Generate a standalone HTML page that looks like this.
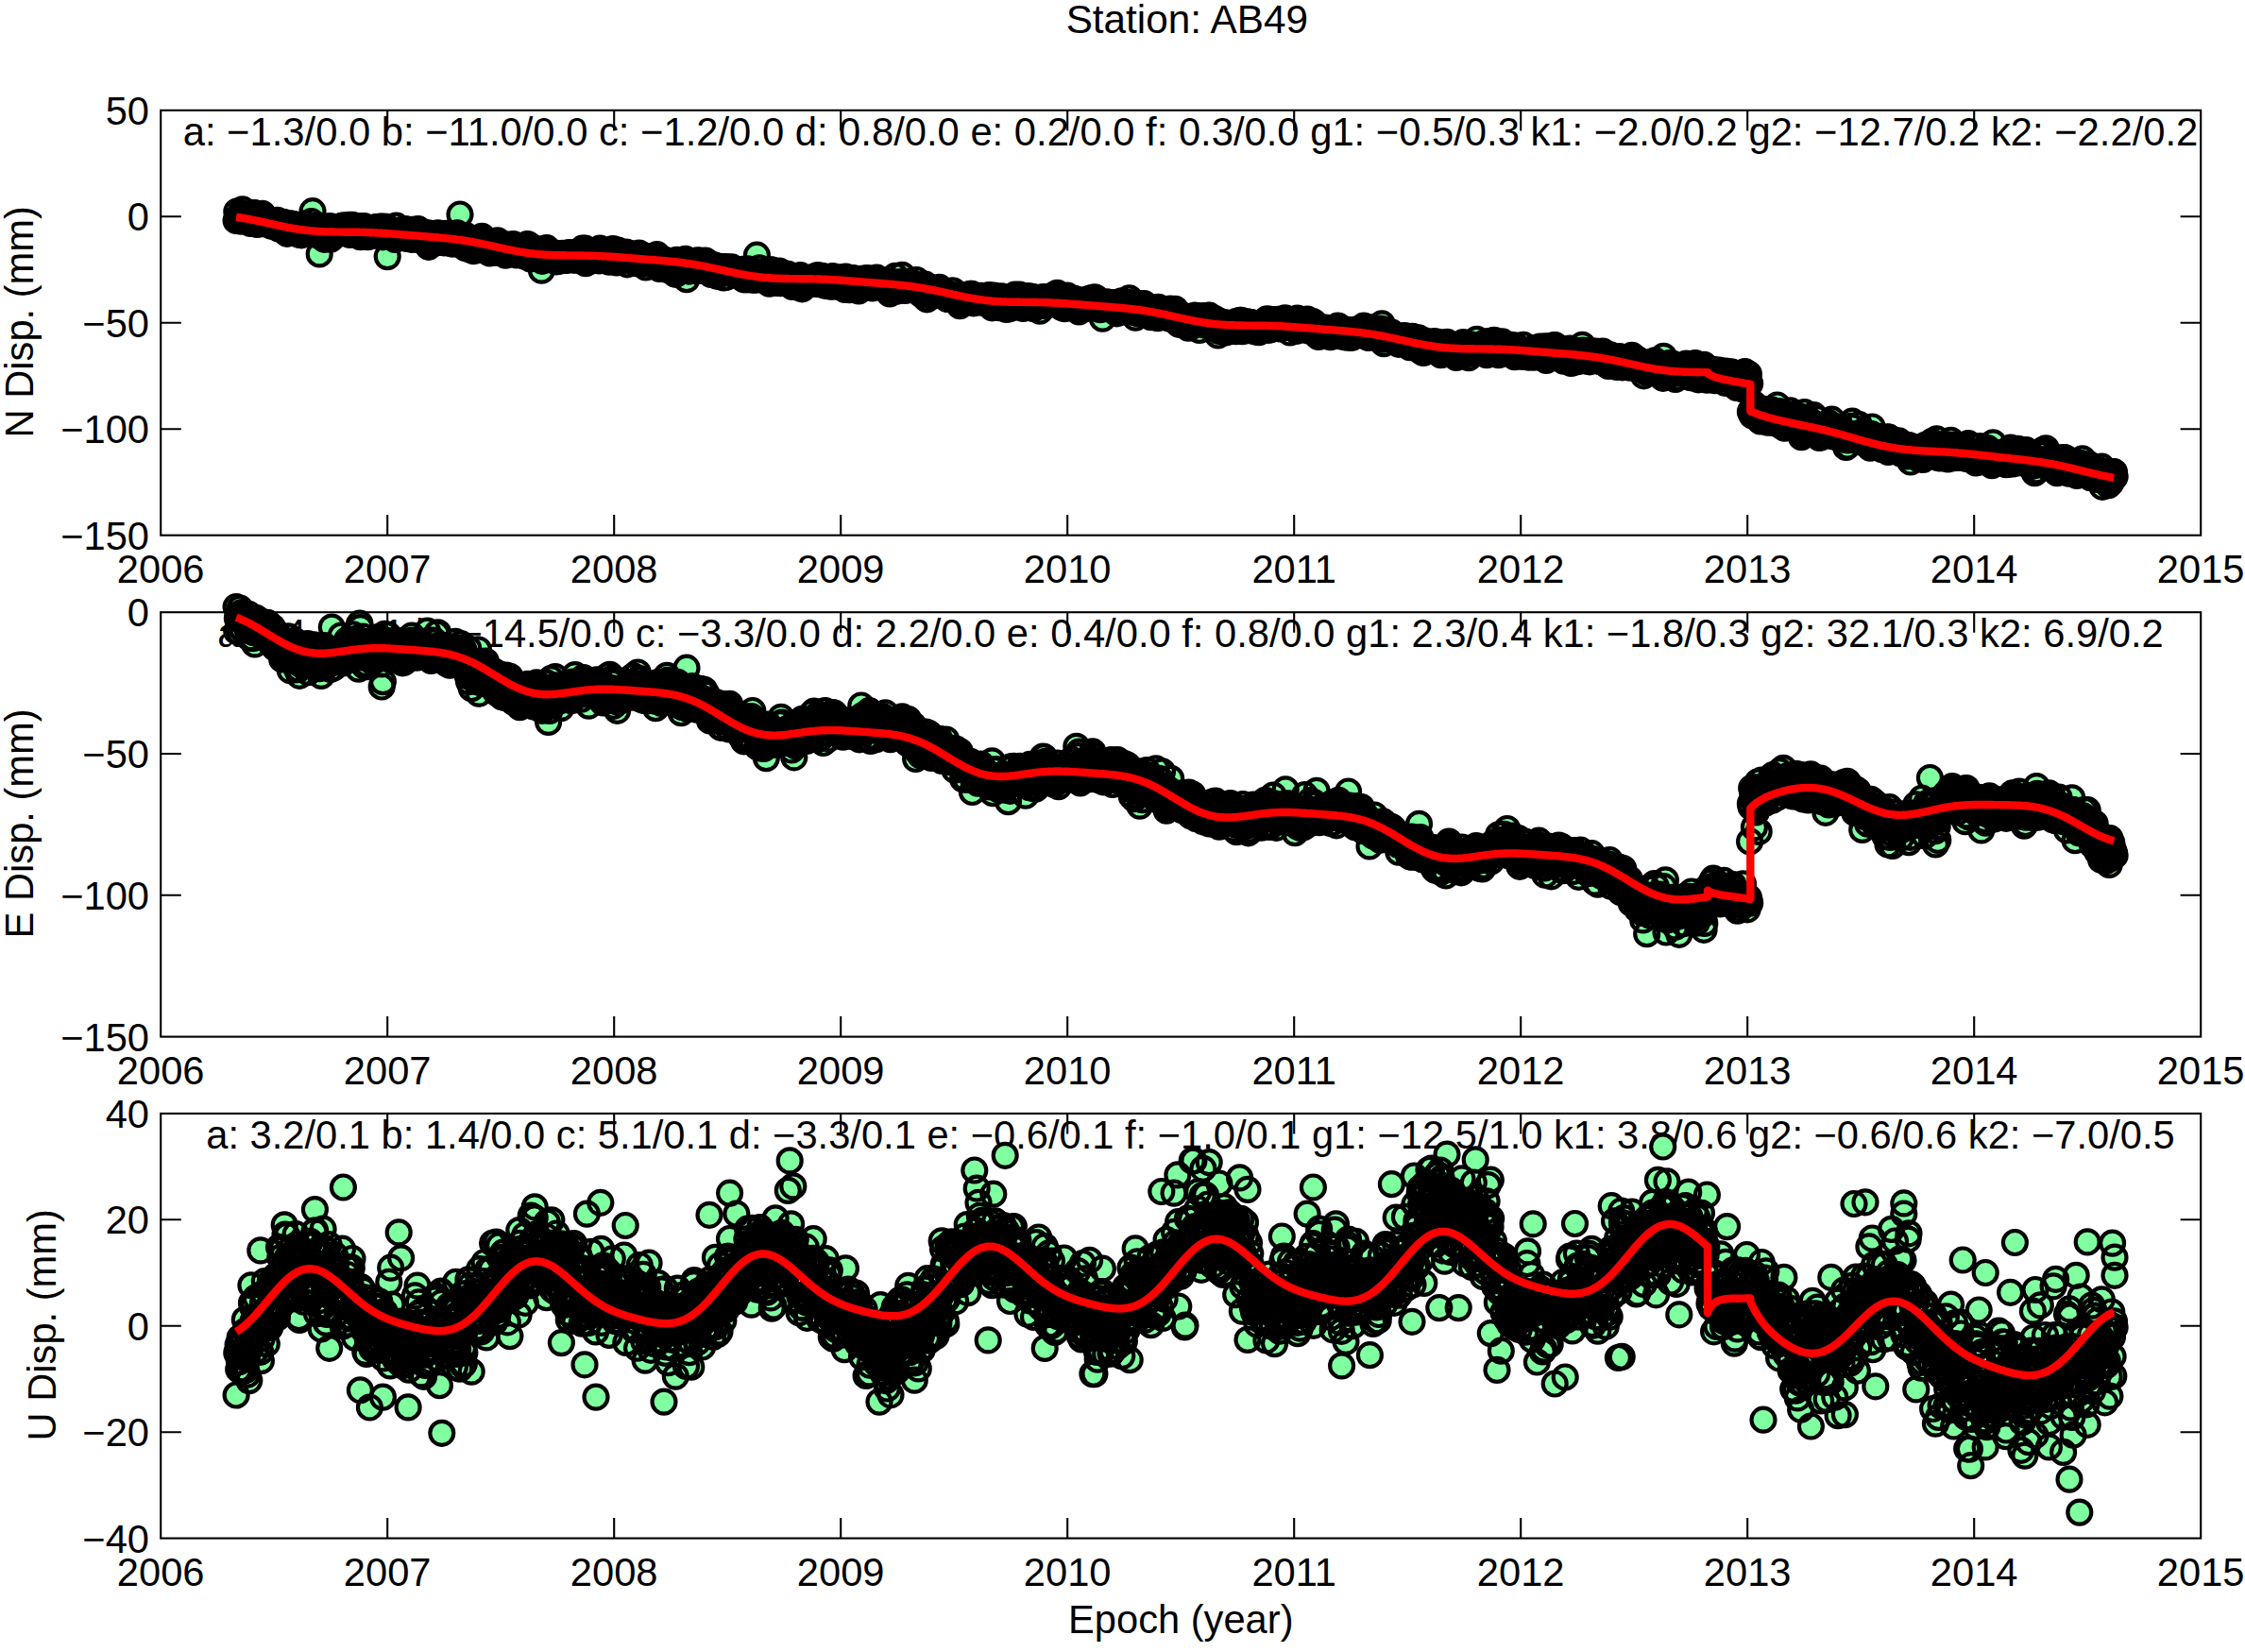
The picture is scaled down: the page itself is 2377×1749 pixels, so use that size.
<!DOCTYPE html>
<html><head><meta charset="utf-8"><title>Station: AB49</title>
<style>html,body{margin:0;padding:0;background:#fff}svg{display:block}
text{font-family:"Liberation Sans",sans-serif;font-size:41.67px;fill:#000}
.ax{fill:none;stroke:#000;stroke-width:2.1}
.tk{fill:none;stroke:#000;stroke-width:2.1}
.fit{fill:none;stroke:#f00;stroke-width:8.4;stroke-linejoin:round;stroke-linecap:butt}
polyline{fill:none;stroke:none}
.fc{marker-start:url(#mf);marker-mid:url(#mf);marker-end:url(#mf)}
.ed{marker-start:url(#me);marker-mid:url(#me);marker-end:url(#me)}
</style></head><body>
<svg width="2377" height="1749" viewBox="0 0 2377 1749">
<defs><marker id="mf" markerUnits="userSpaceOnUse" markerWidth="40" markerHeight="40" refX="20" refY="20" overflow="visible"><circle cx="20" cy="20" r="12.5" fill="#80ffa0"/></marker>
<marker id="me" markerUnits="userSpaceOnUse" markerWidth="40" markerHeight="40" refX="20" refY="20" overflow="visible"><circle cx="20" cy="20" r="12.5" fill="none" stroke="#000" stroke-width="4.17"/></marker></defs>
<rect width="2377" height="1749" fill="#fff"/>
<text x="1256.8" y="35.3" text-anchor="middle" style="font-size:42.3px">Station: AB49</text>
<g id="panelN">
<text x="1260.5" y="153.9" text-anchor="middle" style="font-size:41.75px">a: −1.3/0.0 b: −11.0/0.0 c: −1.2/0.0 d: 0.8/0.0 e: 0.2/0.0 f: 0.3/0.0 g1: −0.5/0.3 k1: −2.0/0.2 g2: −12.7/0.2 k2: −2.2/0.2</text>
<defs><polyline id="dN" points="250.1,233.5 250.8,224.0 251.4,231.4 252.1,230.4 252.7,230.2 253.4,233.0 254.1,234.0 254.7,226.9 255.4,227.2 256.0,233.9 256.7,221.8 257.3,226.6 258.0,231.0 258.7,226.9 259.3,231.4 260.0,231.0 260.6,228.2 261.3,234.2 261.9,229.6 262.6,228.1 263.3,228.3 263.9,232.8 264.6,229.3 265.2,236.5 265.9,232.0 266.5,230.9 267.2,235.3 267.9,232.5 268.5,225.7 269.2,225.6 269.8,230.1 270.5,236.7 271.1,234.9 271.8,235.5 272.5,237.5 273.1,229.8 273.8,229.8 274.4,231.7 275.1,232.8 275.7,229.3 276.4,230.8 277.1,230.6 277.7,226.4 278.4,229.6 279.0,231.7 279.7,236.8 280.3,234.2 281.0,231.0 281.7,234.0 282.3,232.8 283.0,233.4 283.6,235.3 284.3,233.2 284.9,233.9 285.6,234.3 286.3,236.3 286.9,234.0 287.6,239.3 288.2,233.8 288.9,239.0 289.5,234.7 290.2,234.0 290.9,237.4 291.5,234.3 292.2,239.3 292.8,238.5 293.5,233.4 294.1,239.0 294.8,234.7 295.5,242.3 296.1,240.9 296.8,241.4 297.4,239.2 298.1,238.3 298.7,241.7 299.4,239.7 300.1,235.4 300.7,238.8 301.4,240.3 302.0,237.2 302.7,239.7 303.3,241.9 304.0,247.3 304.7,238.9 305.3,242.8 306.0,242.1 306.6,245.3 307.3,236.8 307.9,238.1 308.6,237.4 309.3,241.2 309.9,240.5 310.6,238.7 311.2,237.7 311.9,240.4 312.5,240.8 313.2,243.5 313.9,245.7 314.5,245.7 315.2,240.6 315.8,243.9 316.5,248.3 317.1,244.1 317.8,239.7 318.5,243.3 319.1,248.8 319.8,243.4 320.4,239.7 321.1,242.1 321.7,244.9 322.4,238.4 323.1,237.0 323.7,242.3 324.4,241.2 325.0,242.8 325.7,241.3 326.3,239.9 327.0,241.8 327.7,243.2 328.3,245.5 329.0,244.9 329.6,234.6 330.3,239.3 330.9,242.4 331.0,223.7 331.6,245.1 332.3,244.7 332.9,246.0 333.6,243.0 334.2,246.7 334.9,248.4 335.5,242.9 336.2,244.0 336.9,238.8 337.5,244.5 338.2,243.7 338.2,268.9 338.8,247.8 339.5,242.5 340.1,244.5 340.8,239.8 341.5,242.4 342.1,246.6 342.8,244.4 343.4,253.3 344.1,247.1 344.7,243.8 345.4,243.2 346.1,244.4 346.7,244.9 347.4,249.3 348.0,249.5 348.7,244.5 349.3,239.6 350.0,253.1 350.7,245.7 351.3,244.1 352.0,243.7 352.6,248.5 353.3,247.8 353.9,244.7 354.6,248.6 355.3,249.0 355.9,247.7 356.6,244.8 357.2,242.9 357.9,244.7 358.5,243.8 359.2,245.6 359.9,246.3 360.5,239.8 361.2,243.0 361.8,244.0 362.5,239.7 363.1,239.7 363.8,238.8 364.5,241.4 365.1,242.4 365.8,241.6 366.4,242.4 367.1,239.6 367.7,243.2 368.4,240.8 369.1,242.9 369.7,238.3 370.4,248.4 371.0,241.2 371.7,241.0 372.3,247.5 373.0,238.4 373.7,246.4 374.3,247.0 375.0,245.9 375.6,240.7 376.3,241.8 376.9,244.1 377.6,242.1 378.3,241.0 378.9,239.6 379.6,242.3 380.2,245.6 380.9,246.1 381.5,250.6 382.2,246.5 382.9,242.6 383.5,242.8 384.2,244.9 384.8,245.9 385.5,239.7 386.1,244.2 386.8,244.2 387.5,245.2 388.1,250.4 388.8,244.4 389.4,250.7 390.1,248.8 390.7,247.3 391.4,247.8 392.1,248.1 392.7,247.4 393.4,241.7 394.0,246.0 394.7,243.6 395.3,249.3 396.0,245.3 396.6,241.4 397.3,248.7 398.0,240.6 398.6,246.7 399.3,243.1 399.9,248.0 400.6,244.9 401.2,249.4 401.9,245.7 402.6,240.0 403.2,246.5 403.9,240.3 404.5,249.2 405.2,250.8 405.8,246.8 406.5,247.9 407.2,240.1 407.8,243.2 408.5,241.1 409.1,245.6 409.8,240.8 410.2,271.6 410.4,244.7 411.1,246.1 411.8,249.6 412.4,249.5 413.1,246.8 413.7,244.9 414.4,243.7 415.0,250.5 415.7,245.1 416.4,246.5 417.0,251.9 417.7,246.6 418.3,253.4 419.0,246.1 419.6,239.2 420.3,249.4 421.0,246.3 421.6,251.8 422.3,248.2 422.9,244.1 423.6,249.9 424.2,248.4 424.9,250.6 425.6,250.8 426.2,247.4 426.9,246.1 427.5,243.2 428.2,243.7 428.8,247.9 429.5,243.0 430.2,242.8 430.8,252.5 431.5,246.0 432.1,245.1 432.8,245.1 433.4,245.3 434.1,250.3 434.8,247.4 435.4,253.3 436.1,248.5 436.7,243.3 437.4,249.3 438.0,249.2 438.7,252.4 439.4,251.8 440.0,253.3 440.7,248.2 441.3,249.7 442.0,248.7 442.6,242.6 443.3,250.5 444.0,250.9 444.6,248.2 445.3,246.4 445.9,246.9 446.6,250.6 447.2,245.7 447.9,248.6 448.6,247.4 449.2,253.7 449.9,248.3 450.5,247.9 451.2,248.8 451.8,249.2 452.5,251.0 453.2,246.8 453.8,261.3 454.5,258.2 455.1,257.4 455.8,252.9 456.4,252.8 457.1,254.0 457.8,249.9 458.4,255.1 459.1,253.2 459.7,251.4 460.4,255.9 461.0,250.2 461.7,250.7 462.4,253.7 463.0,256.6 463.7,246.9 464.3,249.7 465.0,250.1 465.6,251.7 466.3,253.2 467.0,252.1 467.6,254.1 468.3,254.7 468.9,251.3 469.6,253.3 470.2,256.5 470.9,257.0 471.6,249.7 472.2,251.3 472.9,247.4 473.5,254.1 474.2,254.6 474.8,253.1 475.5,250.3 476.2,251.4 476.8,252.0 477.5,247.8 478.1,255.2 478.8,257.9 479.4,258.0 480.1,256.3 480.8,253.9 481.4,250.0 482.1,252.3 482.7,248.7 483.4,254.6 484.0,246.8 484.7,256.0 485.4,250.7 486.0,257.1 486.7,254.6 487.0,227.0 487.3,255.2 488.0,254.5 488.6,254.7 489.3,257.0 490.0,258.0 490.6,255.5 491.3,260.8 491.9,260.0 492.6,262.5 493.2,256.9 493.9,249.9 494.6,254.0 495.2,260.6 495.9,260.1 496.5,256.2 497.2,261.2 497.8,264.3 498.5,261.7 499.2,262.9 499.8,262.8 500.5,258.5 501.1,259.3 501.8,265.7 502.4,262.3 503.1,263.1 503.8,262.5 504.4,264.4 505.1,254.7 505.7,258.5 506.4,255.7 507.0,255.2 507.7,258.8 508.4,257.5 509.0,257.0 509.7,258.4 510.3,250.3 511.0,254.3 511.6,257.1 512.3,254.9 513.0,253.3 513.6,255.5 514.3,259.6 514.9,262.5 515.6,263.9 516.2,262.5 516.9,260.3 517.6,258.9 518.2,267.9 518.9,261.8 519.5,265.4 520.2,259.5 520.8,258.1 521.5,261.6 522.2,261.2 522.8,262.9 523.5,259.4 524.1,267.2 524.8,267.0 525.4,265.4 526.1,258.8 526.8,254.9 527.4,262.5 528.1,265.2 528.7,262.1 529.4,265.4 530.0,260.6 530.7,267.2 531.4,266.6 532.0,263.4 532.7,261.7 533.3,262.7 534.0,258.7 534.6,263.1 535.3,270.2 536.0,263.3 536.6,266.3 537.3,267.8 537.9,261.3 538.6,268.4 539.2,264.9 539.9,267.0 540.6,259.6 541.2,264.5 541.9,263.0 542.5,268.2 543.2,258.6 543.8,265.9 544.5,260.9 545.2,260.4 545.8,260.7 546.5,259.8 547.1,270.0 547.8,264.4 548.4,265.0 549.1,266.7 549.8,263.0 550.4,264.0 551.1,267.3 551.7,265.6 552.4,260.6 553.0,268.0 553.7,265.3 554.3,268.6 555.0,264.4 555.7,271.2 556.3,268.4 557.0,268.0 557.6,266.9 558.3,258.7 558.9,261.9 559.6,269.8 560.3,259.5 560.9,270.6 561.6,273.9 562.2,272.9 562.9,267.3 563.5,265.2 564.2,272.6 564.9,264.4 565.5,267.5 566.2,264.1 566.8,267.1 567.5,264.8 568.1,266.9 568.8,272.7 569.5,263.8 570.1,268.0 570.8,266.5 571.4,265.6 572.1,272.5 572.7,270.0 573.4,286.2 573.4,273.1 574.1,276.3 574.7,271.8 575.4,273.0 576.0,269.3 576.7,268.1 577.3,271.1 578.0,274.6 578.7,262.7 579.3,265.1 580.0,270.4 580.6,272.3 581.3,271.5 581.9,270.2 582.6,268.3 583.3,268.1 583.9,268.9 584.6,271.1 585.2,270.5 585.9,270.8 586.5,269.9 587.2,271.4 587.9,268.1 588.5,276.8 589.2,273.3 589.8,273.4 590.5,276.7 591.1,273.6 591.8,276.0 592.5,275.0 593.1,274.1 593.8,272.5 594.4,273.2 595.1,268.4 595.7,271.9 596.4,271.6 597.1,272.1 597.7,275.5 598.4,275.2 599.0,269.4 599.7,272.5 600.3,274.2 601.0,275.3 601.7,267.7 602.3,269.8 603.0,268.1 603.6,270.1 604.3,268.6 604.9,268.0 605.6,273.5 606.3,268.5 606.9,267.5 607.6,269.0 608.2,275.1 608.9,274.9 609.5,273.3 610.2,270.7 610.9,267.3 611.5,268.9 612.2,274.8 612.8,269.3 613.5,269.0 614.1,273.2 614.8,266.3 615.5,272.4 616.1,266.5 616.8,263.2 617.4,275.4 618.1,274.3 618.7,272.4 619.4,263.2 620.1,278.6 620.7,270.2 621.4,270.7 622.0,272.8 622.7,275.1 623.3,274.1 624.0,273.9 624.7,276.5 625.3,266.4 626.0,274.5 626.6,272.7 627.3,272.8 627.9,272.7 628.6,272.2 629.3,273.2 629.9,271.8 630.6,265.6 631.2,267.7 631.9,272.3 632.5,269.3 633.2,275.1 633.9,271.2 634.5,275.9 635.2,263.1 635.8,271.8 636.5,267.4 637.1,269.5 637.8,268.8 638.5,268.7 639.1,269.0 639.8,268.0 640.4,267.7 641.1,268.6 641.7,273.3 642.4,274.1 643.1,270.9 643.7,269.5 644.4,271.1 645.0,277.2 645.7,267.8 646.3,271.6 647.0,272.4 647.7,273.0 648.3,271.8 649.0,263.7 649.6,264.9 650.3,272.6 650.9,270.3 651.6,268.3 652.3,267.1 652.9,277.9 653.6,266.3 654.2,265.1 654.9,271.4 655.5,271.5 656.2,267.5 656.9,271.9 657.5,276.1 658.2,275.2 658.8,273.9 659.5,275.1 660.1,271.0 660.8,273.1 661.5,272.8 662.1,272.5 662.8,267.1 663.4,271.3 664.1,279.8 664.7,268.2 665.4,272.8 666.1,268.3 666.7,273.7 667.4,271.8 668.0,272.2 668.7,272.7 669.3,270.9 670.0,275.6 670.7,272.2 671.3,271.6 672.0,273.4 672.6,278.3 673.3,269.7 673.9,278.7 674.6,275.0 675.3,272.4 675.9,270.4 676.6,268.1 677.2,269.8 677.9,271.8 678.5,275.2 679.2,269.9 679.9,274.1 680.5,270.6 681.2,278.7 681.8,274.2 682.5,275.3 683.1,274.7 683.8,282.9 684.5,272.0 685.1,271.6 685.8,273.7 686.4,277.5 687.1,273.3 687.7,278.5 688.4,273.4 689.1,277.2 689.7,276.7 690.4,276.8 691.0,277.4 691.7,272.9 692.3,272.7 693.0,272.0 693.7,273.8 694.3,275.2 695.0,274.0 695.6,269.7 696.3,276.8 696.9,280.8 697.6,278.7 698.3,284.5 698.9,279.4 699.6,279.4 700.2,283.1 700.9,282.1 701.5,276.6 702.2,278.3 702.9,276.2 703.5,275.0 704.2,280.6 704.8,281.5 705.5,280.0 706.1,277.5 706.8,285.4 707.5,276.6 708.1,279.6 708.8,279.6 709.4,282.6 710.1,282.3 710.7,279.1 711.4,280.8 712.1,280.3 712.7,283.5 713.4,277.0 714.0,277.5 714.7,289.9 715.3,289.9 716.0,290.0 716.6,275.4 717.3,284.5 718.0,286.6 718.6,276.6 719.3,283.4 719.9,281.6 720.6,278.6 721.2,287.0 721.9,281.8 722.6,279.2 723.2,282.2 723.9,278.5 724.5,279.1 725.2,276.4 725.8,274.4 726.5,283.0 727.0,295.6 727.2,282.7 727.8,281.9 728.5,286.8 729.1,286.8 729.8,285.2 730.4,286.0 731.1,286.8 731.8,283.3 732.4,282.1 733.1,283.5 733.7,280.7 734.4,278.1 735.0,286.5 735.7,282.8 736.4,281.8 737.0,280.8 737.7,286.5 738.3,275.9 739.0,284.5 739.6,279.7 740.3,278.8 741.0,276.1 741.6,281.5 742.3,281.7 742.9,278.6 743.6,279.0 744.2,277.9 744.9,280.2 745.6,282.7 746.2,286.6 746.9,276.0 747.5,285.8 748.2,282.1 748.8,282.2 749.5,280.4 750.2,280.2 750.8,278.8 751.5,283.9 752.1,283.4 752.8,290.5 753.4,283.9 754.1,287.2 754.8,285.3 755.4,280.7 756.1,283.5 756.7,282.5 757.4,284.6 758.0,281.5 758.7,285.7 759.4,292.3 760.0,287.2 760.7,285.1 761.3,282.3 762.0,283.9 762.6,285.5 763.3,282.8 764.0,283.4 764.6,287.5 765.3,284.6 765.9,294.0 766.6,286.9 767.2,285.7 767.9,282.7 768.6,287.8 769.2,293.3 769.9,288.2 770.5,283.1 771.2,288.2 771.8,287.3 772.5,287.5 773.2,287.9 773.8,284.2 774.5,282.9 775.1,288.2 775.8,289.7 776.4,284.5 777.1,289.2 777.8,287.2 778.4,287.2 779.1,285.4 779.7,286.0 780.4,288.4 781.0,286.2 781.7,288.4 782.4,286.8 783.0,290.4 783.7,290.0 784.3,289.7 785.0,289.1 785.6,289.0 786.3,285.3 787.0,294.0 787.6,295.8 788.3,289.0 788.9,293.3 789.6,287.8 790.2,291.3 790.9,295.8 791.6,284.8 792.2,290.5 792.9,294.0 793.5,294.8 794.2,290.8 794.8,294.8 795.5,289.7 796.2,290.1 796.8,296.2 797.5,294.9 798.1,291.3 798.8,289.4 799.4,290.4 800.1,296.1 800.8,287.9 801.4,270.2 801.4,293.3 802.1,293.6 802.7,291.9 803.4,295.2 804.0,283.8 804.7,288.4 805.4,291.5 806.0,294.8 806.7,295.2 807.3,291.3 808.0,290.2 808.6,294.1 809.3,293.7 810.0,289.7 810.6,291.5 811.3,297.7 811.9,290.6 812.6,292.6 813.2,291.7 813.9,295.0 814.6,300.1 815.2,296.6 815.9,292.0 816.5,285.8 817.2,286.2 817.8,292.2 818.5,295.2 819.2,292.9 819.8,292.5 820.5,291.3 821.1,290.9 821.8,289.0 822.4,296.9 823.1,299.5 823.8,295.7 824.4,296.3 825.1,287.0 825.7,294.7 826.4,299.6 827.0,293.3 827.7,291.8 828.4,294.3 829.0,293.7 829.7,291.0 830.3,292.2 831.0,296.5 831.6,290.8 832.3,290.0 833.0,292.1 833.6,291.3 834.3,290.4 834.9,293.1 835.6,293.2 836.2,292.0 836.9,295.9 837.6,292.1 838.2,292.6 838.9,303.5 839.5,297.5 840.2,300.3 840.8,297.9 841.5,294.4 842.2,296.7 842.8,293.7 843.5,295.5 844.1,295.3 844.8,298.6 845.4,298.4 846.1,294.3 846.8,304.7 847.4,291.7 848.1,298.3 848.7,293.0 849.4,305.8 850.0,301.4 850.7,294.5 851.4,299.0 852.0,295.9 852.7,301.7 853.3,299.5 854.0,300.2 854.6,296.7 855.3,295.5 856.0,298.3 856.6,298.9 857.3,299.6 857.9,298.5 858.6,300.5 859.2,297.3 859.9,296.9 860.6,298.6 861.2,298.8 861.9,293.2 862.5,298.2 863.2,295.4 863.8,292.7 864.5,293.2 865.2,295.5 865.8,291.7 866.5,300.7 867.1,299.4 867.8,297.7 868.4,297.2 869.1,296.2 869.8,292.6 870.4,292.3 871.1,297.6 871.7,295.4 872.4,299.8 873.0,296.0 873.7,302.3 874.3,295.2 875.0,300.0 875.7,297.4 876.3,301.9 877.0,293.8 877.6,297.0 878.3,293.9 878.9,299.3 879.6,303.1 880.3,301.3 880.9,302.8 881.6,292.6 882.2,297.7 882.9,298.4 883.5,295.5 884.2,295.2 884.9,294.4 885.5,296.5 886.2,302.0 886.8,300.7 887.5,303.4 888.1,293.8 888.8,294.9 889.5,299.2 890.1,296.9 890.8,296.1 891.4,295.5 892.1,296.6 892.7,294.9 893.4,298.0 894.1,305.4 894.7,306.5 895.4,293.0 896.0,294.7 896.7,305.0 897.3,297.8 898.0,301.4 898.7,299.9 899.3,306.6 900.0,295.5 900.6,297.9 901.3,294.7 901.9,295.6 902.6,295.4 903.3,294.6 903.9,298.3 904.6,299.1 905.2,299.5 905.9,296.7 906.5,299.1 907.2,303.0 907.9,296.5 908.5,298.6 909.2,307.9 909.8,306.1 910.5,301.8 911.1,304.3 911.8,296.9 912.5,302.0 913.1,298.3 913.8,297.9 914.4,295.2 915.1,299.2 915.7,296.2 916.4,298.3 917.1,297.6 917.7,298.7 918.4,294.5 919.0,297.5 919.7,299.7 920.3,297.9 921.0,302.5 921.7,297.1 922.3,295.5 923.0,301.6 923.6,304.9 924.3,299.9 924.9,300.9 925.6,300.8 926.3,302.7 926.9,301.1 927.6,301.8 928.2,294.0 928.9,300.1 929.5,297.7 930.2,296.8 930.9,298.2 931.5,297.6 932.2,301.2 932.8,298.2 933.5,298.8 934.1,298.2 934.8,304.3 935.5,303.2 936.1,304.0 936.8,304.1 937.4,298.3 938.1,301.1 938.7,302.0 939.4,302.9 940.1,299.8 940.7,306.4 941.4,300.6 942.0,310.9 942.7,307.2 943.3,298.9 944.0,298.5 944.7,302.6 945.3,305.8 946.0,300.8 946.6,304.9 947.3,298.8 947.9,292.4 948.6,302.6 949.3,308.2 949.9,303.9 950.6,307.1 951.2,305.1 951.9,304.2 952.5,303.7 953.2,302.5 953.9,300.0 954.5,298.7 955.2,291.3 955.8,303.2 956.5,299.4 957.1,306.9 957.8,306.5 958.5,307.4 959.1,299.0 959.8,302.7 960.4,302.6 961.1,302.7 961.7,300.3 962.4,305.8 963.1,304.6 963.7,298.2 964.4,304.5 965.0,305.4 965.7,306.6 966.3,301.2 967.0,302.2 967.7,304.2 968.3,305.0 969.0,303.4 969.6,306.5 970.3,296.5 970.9,302.9 971.6,301.8 972.3,303.1 972.9,309.1 973.6,308.9 974.2,306.1 974.9,306.1 975.5,311.6 976.2,302.1 976.9,306.0 977.5,303.4 978.2,304.3 978.8,309.3 979.5,301.0 980.1,308.7 980.8,315.9 981.5,316.8 982.1,309.2 982.8,305.9 983.4,308.1 984.1,304.2 984.7,310.5 985.4,308.9 986.1,308.3 986.7,313.4 987.4,310.1 988.0,309.0 988.7,307.7 989.3,305.5 990.0,305.6 990.7,310.7 991.3,307.8 992.0,306.9 992.6,310.8 993.3,307.5 993.9,307.7 994.6,304.3 995.3,307.4 995.9,306.7 996.6,306.9 997.2,306.5 997.9,309.7 998.5,311.0 999.2,313.3 999.9,311.2 1000.5,311.1 1001.2,313.0 1001.8,312.8 1002.5,316.2 1003.1,311.6 1003.8,316.5 1004.5,312.5 1005.1,313.1 1005.8,316.5 1006.4,314.7 1007.1,312.0 1007.7,316.6 1008.4,317.0 1009.1,307.9 1009.7,314.6 1010.4,314.3 1011.0,313.3 1011.7,316.0 1012.3,315.1 1013.0,313.6 1013.7,318.9 1014.3,317.2 1015.0,320.2 1015.6,318.6 1016.3,323.6 1016.9,312.3 1017.6,316.9 1018.3,315.4 1018.9,319.4 1019.6,319.1 1020.2,315.4 1020.9,314.6 1021.5,312.5 1022.2,318.8 1022.9,319.4 1023.5,313.4 1024.2,312.7 1024.8,314.0 1025.5,317.1 1026.1,313.9 1026.8,317.7 1027.5,311.4 1028.1,313.0 1028.8,311.3 1029.4,318.9 1030.1,314.1 1030.7,320.8 1031.4,316.4 1032.1,316.3 1032.7,314.1 1033.4,318.5 1034.0,318.5 1034.7,320.0 1035.3,319.2 1036.0,313.4 1036.6,317.8 1037.3,314.2 1038.0,317.9 1038.6,318.4 1039.3,313.4 1039.9,314.1 1040.6,320.3 1041.2,318.0 1041.9,317.8 1042.6,316.3 1043.2,318.0 1043.9,316.2 1044.5,316.5 1045.2,314.8 1045.8,314.8 1046.5,320.5 1047.2,312.7 1047.8,318.1 1048.5,321.6 1049.1,323.5 1049.8,321.0 1050.4,325.8 1051.1,317.0 1051.8,315.9 1052.4,313.2 1053.1,317.2 1053.7,323.2 1054.4,317.8 1055.0,317.2 1055.7,324.1 1056.4,322.0 1057.0,316.7 1057.7,319.1 1058.3,325.6 1059.0,321.1 1059.6,319.5 1060.3,313.9 1061.0,322.4 1061.6,323.9 1062.3,319.7 1062.9,319.8 1063.6,320.4 1064.2,318.0 1064.9,322.9 1065.6,327.4 1066.2,322.5 1066.9,322.5 1067.5,320.5 1068.2,320.8 1068.8,326.7 1069.5,322.0 1070.2,319.0 1070.8,324.4 1071.5,318.7 1072.1,320.5 1072.8,320.8 1073.4,322.2 1074.1,319.8 1074.8,312.2 1075.4,320.2 1076.1,325.0 1076.7,321.8 1077.4,321.7 1078.0,319.9 1078.7,321.7 1079.4,312.2 1080.0,319.3 1080.7,315.0 1081.3,321.4 1082.0,320.9 1082.6,316.3 1083.3,326.5 1084.0,320.7 1084.6,325.4 1085.3,315.8 1085.9,324.8 1086.6,322.4 1087.2,321.2 1087.9,325.3 1088.6,313.5 1089.2,320.9 1089.9,314.7 1090.5,322.3 1091.2,324.9 1091.8,322.0 1092.5,322.5 1093.2,314.4 1093.8,326.3 1094.5,326.4 1095.1,324.6 1095.8,321.2 1096.4,320.8 1097.1,324.2 1097.8,322.2 1098.4,319.7 1099.1,318.4 1099.7,323.9 1100.4,318.9 1101.0,329.1 1101.7,322.0 1102.4,317.5 1103.0,319.8 1103.7,320.0 1104.3,314.5 1105.0,319.5 1105.6,322.6 1106.3,318.5 1107.0,319.3 1107.6,323.5 1108.3,316.9 1108.9,314.8 1109.6,320.5 1110.2,321.7 1110.9,320.4 1111.6,316.2 1112.2,319.9 1112.9,320.7 1113.5,319.2 1114.2,318.8 1114.8,318.5 1115.5,320.3 1116.2,315.1 1116.8,311.8 1117.5,320.2 1118.1,315.0 1118.8,318.0 1119.4,310.3 1120.1,322.3 1120.8,319.4 1121.4,316.7 1122.1,322.7 1122.7,320.8 1123.4,318.1 1124.0,325.5 1124.7,321.1 1125.4,315.1 1126.0,322.4 1126.7,321.2 1127.3,326.7 1128.0,318.3 1128.6,322.2 1129.3,316.1 1130.0,313.2 1130.6,319.5 1131.3,323.2 1131.9,318.6 1132.6,322.3 1133.2,323.0 1133.9,323.7 1134.6,320.6 1135.2,321.9 1135.9,319.7 1136.5,316.0 1137.2,319.3 1137.8,319.4 1138.5,323.7 1139.2,317.2 1139.8,321.4 1140.5,321.8 1141.1,325.8 1141.8,321.9 1142.4,329.9 1143.1,324.7 1143.8,327.2 1144.4,326.7 1145.1,318.1 1145.7,327.8 1146.4,322.2 1147.0,322.1 1147.7,319.3 1148.4,318.4 1149.0,326.5 1149.7,322.6 1150.3,323.3 1151.0,318.3 1151.6,317.1 1152.3,322.2 1153.0,322.5 1153.6,323.7 1154.3,320.2 1154.9,315.8 1155.6,319.6 1156.2,323.4 1156.9,323.3 1157.6,324.0 1158.2,325.8 1158.9,314.9 1159.5,322.6 1160.2,322.6 1160.8,315.9 1161.5,323.3 1162.2,319.3 1162.8,323.6 1163.5,320.9 1164.1,324.7 1164.8,327.6 1165.4,322.4 1166.1,321.9 1166.8,321.4 1167.4,337.2 1168.1,323.0 1168.7,325.2 1169.4,321.3 1170.0,324.5 1170.7,324.0 1171.4,321.1 1172.0,319.9 1172.7,320.9 1173.3,323.7 1174.0,326.9 1174.6,323.7 1175.3,324.3 1176.0,324.9 1176.6,323.1 1177.3,320.5 1177.9,324.6 1178.6,321.9 1179.2,325.5 1179.9,324.1 1180.6,325.8 1181.2,328.3 1181.9,322.7 1182.5,331.8 1183.2,324.4 1183.8,322.4 1184.5,322.4 1185.2,327.2 1185.8,319.9 1186.5,328.8 1187.1,325.7 1187.8,318.8 1188.4,322.8 1189.1,319.7 1189.8,327.9 1190.4,329.8 1191.1,325.1 1191.7,320.1 1192.4,321.6 1193.0,323.0 1193.7,325.8 1194.3,323.5 1195.0,323.9 1195.7,315.8 1196.3,324.9 1197.0,320.7 1197.6,325.5 1198.3,321.5 1198.9,328.3 1199.6,326.7 1200.3,325.3 1200.9,330.0 1201.6,330.4 1202.2,336.1 1202.9,331.1 1203.5,324.2 1204.2,321.8 1204.9,331.4 1205.5,322.8 1206.2,327.6 1206.8,327.7 1207.5,326.5 1208.1,321.9 1208.8,322.2 1209.5,326.9 1210.1,327.9 1210.8,331.2 1211.4,321.7 1212.1,330.2 1212.7,330.0 1213.4,329.8 1214.1,328.5 1214.7,326.9 1215.4,331.7 1216.0,329.3 1216.7,330.5 1217.3,325.6 1218.0,329.4 1218.7,335.6 1219.3,326.5 1220.0,329.9 1220.6,325.8 1221.3,332.9 1221.9,332.9 1222.6,331.3 1223.3,333.9 1223.9,330.0 1224.6,325.5 1225.2,326.5 1225.9,336.7 1226.5,325.3 1227.2,328.3 1227.9,328.4 1228.5,331.8 1229.2,329.2 1229.8,329.3 1230.5,328.9 1231.1,334.6 1231.8,327.3 1232.5,330.4 1233.1,331.1 1233.8,329.3 1234.4,330.0 1235.1,331.1 1235.7,334.2 1236.4,329.1 1237.1,331.3 1237.7,333.3 1238.4,337.2 1239.0,327.2 1239.7,329.4 1240.3,330.5 1241.0,332.2 1241.7,332.8 1242.3,332.3 1243.0,333.9 1243.6,333.6 1244.3,327.3 1244.9,331.2 1245.6,330.5 1246.3,337.0 1246.9,340.3 1247.6,338.4 1248.2,343.3 1248.9,333.6 1249.5,332.8 1250.2,337.0 1250.9,336.7 1251.5,336.7 1252.2,335.6 1252.8,334.4 1253.5,340.5 1254.1,339.9 1254.8,338.0 1255.5,343.8 1256.1,342.9 1256.8,338.3 1257.4,337.8 1258.1,347.2 1258.7,336.3 1259.4,339.0 1260.1,336.5 1260.7,340.5 1261.4,338.4 1262.0,345.1 1262.7,342.1 1263.3,344.1 1264.0,342.2 1264.7,336.8 1265.3,334.1 1266.0,336.3 1266.6,337.9 1267.3,335.0 1267.9,337.0 1268.6,334.6 1269.3,339.3 1269.9,349.4 1270.6,341.6 1271.2,342.1 1271.9,343.1 1272.5,337.9 1273.2,338.9 1273.9,340.2 1274.5,334.6 1275.2,338.9 1275.8,338.7 1276.5,341.5 1277.1,338.2 1277.8,344.6 1278.5,335.7 1279.1,341.0 1279.8,334.1 1280.4,334.4 1281.1,337.6 1281.7,342.8 1282.4,340.2 1283.1,340.9 1283.7,345.7 1284.4,341.3 1285.0,344.0 1285.7,338.5 1286.3,337.6 1287.0,343.6 1287.7,345.3 1288.3,346.9 1289.0,343.5 1289.6,355.0 1290.3,339.9 1290.9,350.5 1291.6,341.2 1292.3,342.6 1292.9,343.2 1293.6,343.7 1294.2,348.1 1294.9,343.7 1295.5,345.3 1296.2,341.6 1296.9,347.2 1297.5,352.0 1298.2,348.5 1298.8,345.1 1299.5,351.3 1300.1,347.9 1300.8,344.4 1301.5,350.1 1302.1,342.3 1302.8,344.1 1303.4,347.7 1304.1,346.0 1304.7,347.7 1305.4,345.4 1306.1,345.2 1306.7,345.0 1307.4,346.3 1308.0,349.8 1308.7,350.6 1309.3,340.4 1310.0,350.0 1310.7,346.6 1311.3,341.2 1312.0,341.1 1312.6,346.1 1313.3,339.3 1313.9,339.4 1314.6,346.9 1315.3,350.6 1315.9,345.0 1316.6,346.4 1317.2,348.5 1317.9,348.7 1318.5,347.2 1319.2,343.2 1319.9,340.8 1320.5,348.6 1321.2,349.7 1321.8,341.0 1322.5,348.4 1323.1,343.6 1323.8,344.9 1324.5,341.5 1325.1,341.8 1325.8,345.1 1326.4,347.4 1327.1,346.0 1327.7,344.8 1328.4,348.4 1329.1,351.0 1329.7,344.4 1330.4,345.2 1331.0,344.8 1331.7,348.0 1332.3,343.8 1333.0,351.7 1333.7,347.9 1334.3,342.9 1335.0,349.5 1335.6,344.4 1336.3,343.4 1336.9,343.1 1337.6,348.4 1338.3,340.3 1338.9,343.5 1339.6,341.9 1340.2,342.5 1340.9,342.2 1341.5,337.9 1342.2,338.5 1342.9,349.3 1343.5,346.0 1344.2,344.5 1344.8,349.0 1345.5,338.3 1346.1,345.2 1346.8,341.3 1347.5,341.3 1348.1,341.6 1348.8,345.2 1349.4,343.6 1350.1,342.2 1350.7,340.3 1351.4,345.2 1352.1,344.7 1352.7,343.8 1353.4,338.3 1354.0,341.7 1354.7,345.7 1355.3,347.9 1356.0,345.2 1356.6,347.1 1357.3,345.8 1358.0,341.6 1358.6,342.2 1359.3,342.2 1359.9,341.7 1360.6,336.9 1361.2,346.0 1361.9,339.7 1362.6,342.1 1363.2,342.0 1363.9,343.6 1364.5,344.6 1365.2,342.8 1365.8,351.9 1366.5,342.9 1367.2,341.4 1367.8,346.2 1368.5,346.3 1369.1,339.2 1369.8,347.8 1370.4,344.9 1371.1,347.1 1371.8,346.8 1372.4,347.4 1373.1,350.3 1373.7,337.0 1374.4,345.3 1375.0,341.9 1375.7,343.9 1376.4,340.2 1377.0,343.4 1377.7,343.1 1378.3,342.3 1379.0,342.2 1379.6,344.1 1380.3,342.1 1381.0,348.8 1381.6,341.4 1382.3,342.4 1382.9,345.6 1383.6,347.9 1384.2,338.2 1384.9,347.0 1385.6,341.7 1386.2,350.2 1386.9,345.0 1387.5,347.7 1388.2,347.8 1388.8,348.6 1389.5,340.4 1390.2,345.3 1390.8,344.5 1391.5,341.7 1392.1,352.2 1392.8,343.8 1393.4,348.5 1394.1,350.2 1394.8,351.7 1395.4,355.8 1396.1,356.5 1396.7,354.5 1397.4,354.0 1398.0,349.1 1398.7,349.1 1399.4,351.8 1400.0,349.2 1400.7,348.4 1401.3,348.9 1402.0,347.4 1402.6,350.6 1403.3,347.1 1404.0,349.2 1404.6,348.1 1405.3,348.9 1405.9,350.2 1406.6,352.2 1407.2,355.0 1407.9,351.7 1408.6,356.7 1409.2,353.3 1409.9,353.6 1410.5,354.1 1411.2,351.2 1411.8,351.6 1412.5,354.2 1413.2,349.5 1413.8,351.9 1414.5,347.7 1415.1,349.1 1415.8,348.4 1416.4,345.2 1417.1,345.6 1417.8,346.1 1418.4,355.6 1419.1,348.5 1419.7,351.5 1420.4,350.9 1421.0,355.3 1421.7,351.3 1422.4,350.7 1423.0,350.1 1423.7,356.8 1424.3,355.6 1425.0,349.1 1425.6,349.6 1426.3,351.6 1427.0,349.7 1427.6,352.3 1428.3,354.3 1428.9,357.4 1429.6,350.1 1430.2,350.2 1430.9,350.8 1431.6,357.1 1432.2,352.5 1432.9,350.0 1433.5,350.6 1434.2,352.8 1434.8,352.5 1435.5,349.0 1436.2,351.8 1436.8,351.2 1437.5,351.0 1438.1,351.8 1438.8,349.8 1439.4,350.9 1440.1,351.0 1440.8,354.6 1441.4,354.4 1442.1,351.1 1442.7,352.7 1443.4,351.4 1444.0,345.1 1444.7,348.7 1445.4,347.3 1446.0,349.6 1446.7,351.7 1447.3,353.4 1448.0,357.0 1448.6,355.7 1449.3,357.5 1450.0,353.5 1450.6,353.0 1451.3,350.4 1451.9,347.9 1452.6,350.8 1453.2,346.9 1453.9,348.1 1454.6,348.9 1455.2,350.9 1455.9,351.6 1456.5,353.3 1457.2,351.2 1457.8,353.1 1458.5,353.4 1459.2,350.1 1459.8,353.7 1460.5,356.5 1461.1,350.7 1461.8,348.2 1462.4,350.8 1463.1,342.8 1463.8,359.1 1464.4,357.6 1465.1,363.7 1465.7,357.2 1466.4,349.3 1467.0,351.4 1467.7,358.4 1468.4,355.7 1469.0,358.0 1469.7,358.4 1470.3,354.7 1471.0,355.1 1471.6,354.2 1472.3,355.1 1473.0,353.5 1473.6,352.2 1474.3,356.5 1474.9,358.9 1475.6,357.8 1476.2,356.9 1476.9,357.5 1477.6,359.6 1478.2,358.8 1478.9,356.2 1479.5,362.1 1480.2,357.1 1480.8,364.3 1481.5,357.7 1482.2,357.6 1482.8,361.8 1483.5,361.8 1484.1,362.6 1484.8,356.0 1485.4,361.5 1486.1,360.9 1486.8,356.7 1487.4,355.5 1488.1,360.3 1488.7,361.3 1489.4,358.2 1490.0,362.8 1490.7,362.2 1491.4,364.6 1492.0,357.8 1492.7,367.6 1493.3,365.1 1494.0,362.7 1494.6,361.2 1495.3,356.4 1496.0,360.4 1496.6,361.7 1497.3,357.1 1497.9,359.9 1498.6,359.9 1499.2,358.7 1499.9,362.0 1500.6,367.6 1501.2,368.0 1501.9,357.8 1502.5,364.9 1503.2,370.9 1503.8,364.2 1504.5,359.9 1505.2,363.9 1505.8,365.5 1506.5,373.3 1507.1,364.6 1507.8,373.1 1508.4,360.9 1509.1,365.2 1509.8,364.6 1510.4,365.9 1511.1,365.2 1511.7,363.7 1512.4,365.7 1513.0,367.5 1513.7,368.8 1514.3,363.4 1515.0,365.8 1515.7,362.6 1516.3,366.3 1517.0,365.0 1517.6,369.6 1518.3,362.0 1518.9,361.6 1519.6,363.7 1520.3,366.7 1520.9,366.2 1521.6,370.6 1522.2,371.3 1522.9,362.3 1523.5,370.2 1524.2,369.4 1524.9,372.3 1525.5,375.7 1526.2,369.8 1526.8,366.1 1527.5,363.5 1528.1,374.9 1528.8,373.5 1529.5,372.2 1530.1,368.3 1530.8,367.2 1531.4,364.7 1532.1,362.4 1532.7,367.4 1533.4,369.1 1534.1,365.3 1534.7,370.5 1535.4,369.1 1536.0,370.7 1536.7,370.9 1537.3,367.4 1538.0,373.3 1538.7,374.3 1539.3,370.9 1540.0,370.2 1540.6,371.9 1541.3,372.1 1541.9,378.4 1542.6,375.7 1543.3,367.4 1543.9,369.5 1544.6,371.2 1545.2,366.4 1545.9,372.3 1546.5,369.4 1547.2,370.9 1547.9,371.0 1548.5,367.2 1549.2,362.7 1549.8,365.3 1550.5,372.1 1551.1,374.8 1551.8,371.2 1552.5,372.4 1553.1,370.2 1553.8,371.2 1554.4,371.5 1555.1,378.6 1555.7,374.1 1556.4,371.0 1557.1,364.9 1557.7,368.2 1558.4,368.4 1559.0,371.0 1559.7,365.9 1560.3,366.0 1561.0,367.3 1561.7,368.1 1562.3,366.6 1563.0,366.5 1563.6,359.4 1564.3,370.2 1564.9,373.2 1565.6,367.0 1566.3,372.9 1566.9,371.2 1567.6,371.5 1568.2,372.6 1568.9,366.2 1569.5,366.8 1570.2,368.3 1570.9,363.8 1571.5,363.4 1572.2,368.1 1572.8,366.4 1573.5,368.6 1574.1,375.6 1574.8,370.1 1575.5,361.7 1576.1,366.9 1576.8,369.6 1577.4,364.6 1578.1,373.7 1578.7,366.2 1579.4,364.0 1580.1,361.2 1580.7,365.4 1581.4,370.0 1582.0,360.3 1582.7,362.6 1583.3,362.9 1584.0,369.0 1584.7,365.1 1585.3,374.1 1586.0,365.2 1586.6,375.6 1587.3,371.0 1587.9,371.0 1588.6,362.8 1589.3,363.8 1589.9,368.7 1590.6,361.8 1591.2,365.3 1591.9,373.0 1592.5,367.8 1593.2,373.8 1593.9,368.3 1594.5,368.3 1595.2,372.2 1595.8,365.8 1596.5,365.7 1597.1,373.2 1597.8,368.9 1598.5,371.3 1599.1,371.4 1599.8,365.4 1600.4,374.9 1601.1,373.7 1601.7,371.4 1602.4,371.2 1603.1,370.5 1603.7,377.7 1604.4,366.8 1605.0,366.2 1605.7,367.1 1606.3,372.4 1607.0,373.4 1607.7,374.1 1608.3,370.2 1609.0,371.4 1609.6,371.7 1610.3,373.4 1610.9,377.1 1611.6,371.4 1612.3,372.2 1612.9,365.4 1613.6,377.2 1614.2,372.6 1614.9,372.1 1615.5,377.2 1616.2,372.3 1616.9,375.8 1617.5,375.1 1618.2,373.6 1618.8,378.1 1619.5,377.0 1620.1,373.5 1620.8,373.1 1621.5,371.1 1622.1,374.6 1622.8,369.6 1623.4,369.6 1624.1,377.9 1624.7,377.9 1625.4,376.1 1626.1,374.2 1626.7,368.3 1627.4,369.7 1628.0,375.3 1628.7,374.0 1629.3,376.6 1630.0,375.2 1630.7,367.0 1631.3,378.1 1632.0,371.9 1632.6,374.5 1633.3,376.3 1633.9,375.1 1634.6,367.2 1635.3,372.4 1635.9,372.1 1636.6,369.9 1637.2,381.4 1637.9,366.9 1638.5,380.3 1639.2,376.4 1639.9,371.0 1640.5,379.0 1641.2,378.6 1641.8,368.2 1642.5,376.2 1643.1,369.5 1643.8,372.5 1644.5,373.9 1645.1,365.8 1645.8,374.0 1646.4,365.6 1647.1,375.2 1647.7,375.0 1648.4,373.8 1649.1,371.6 1649.7,376.7 1650.4,376.7 1651.0,368.8 1651.7,373.4 1652.3,369.2 1653.0,372.5 1653.7,378.1 1654.3,379.6 1655.0,378.3 1655.6,382.1 1656.3,378.0 1656.9,377.3 1657.6,371.3 1658.3,372.1 1658.9,375.4 1659.6,379.1 1660.2,379.9 1660.9,370.5 1661.5,378.9 1662.2,369.2 1662.9,380.5 1663.5,384.5 1664.2,370.7 1664.8,378.8 1665.5,370.5 1666.1,374.4 1666.8,379.7 1667.5,372.6 1668.1,376.1 1668.8,373.5 1669.4,375.9 1670.1,382.8 1670.7,375.9 1671.4,380.3 1672.1,378.8 1672.7,375.0 1673.4,379.2 1674.0,371.7 1674.7,371.5 1675.3,365.4 1676.0,371.2 1676.6,380.2 1677.3,378.9 1678.0,374.8 1678.6,381.9 1679.3,374.3 1679.9,376.5 1680.6,374.4 1681.2,374.7 1681.9,375.2 1682.6,376.1 1683.2,382.8 1683.9,371.7 1684.5,375.5 1685.2,373.1 1685.8,372.3 1686.5,378.3 1687.2,374.1 1687.8,377.4 1688.5,379.7 1689.1,375.9 1689.8,372.2 1690.4,374.9 1691.1,374.5 1691.8,377.5 1692.4,377.9 1693.1,378.5 1693.7,382.5 1694.4,374.3 1695.0,376.9 1695.7,382.8 1696.4,373.7 1697.0,372.0 1697.7,383.7 1698.3,381.4 1699.0,384.5 1699.6,377.2 1700.3,384.2 1701.0,379.4 1701.6,379.7 1702.3,377.2 1702.9,387.4 1703.6,382.4 1704.2,379.7 1704.9,375.9 1705.6,378.7 1706.2,377.3 1706.9,379.2 1707.5,386.5 1708.2,382.8 1708.8,383.3 1709.5,384.8 1710.2,385.4 1710.8,378.7 1711.5,380.1 1712.1,388.4 1712.8,379.2 1713.4,385.0 1714.1,386.8 1714.8,377.6 1715.4,383.4 1716.1,380.4 1716.7,381.9 1717.4,383.0 1718.0,388.8 1718.7,380.6 1719.4,385.6 1720.0,382.1 1720.7,383.2 1721.3,385.2 1722.0,387.6 1722.6,385.5 1723.3,380.7 1724.0,387.2 1724.6,388.0 1725.3,386.0 1725.9,389.1 1726.6,380.2 1727.2,384.4 1727.9,376.3 1728.6,385.4 1729.2,379.3 1729.9,388.3 1730.5,384.0 1731.2,388.3 1731.8,387.5 1732.5,385.9 1733.2,383.3 1733.8,380.7 1734.5,386.1 1735.1,390.2 1735.8,386.5 1736.4,386.7 1737.1,388.5 1737.8,383.6 1738.4,383.4 1739.1,391.5 1739.7,391.8 1740.4,397.8 1741.0,391.5 1741.7,388.2 1742.4,394.0 1743.0,389.4 1743.7,390.4 1744.3,390.2 1745.0,389.7 1745.6,393.3 1746.3,388.6 1747.0,388.4 1747.6,392.0 1748.3,390.1 1748.9,384.9 1749.6,383.1 1750.2,393.7 1750.9,388.3 1751.6,391.4 1752.2,381.8 1752.9,392.6 1753.5,392.4 1754.2,394.1 1754.8,387.4 1755.5,395.0 1756.2,389.0 1756.8,394.4 1757.5,386.4 1758.1,386.7 1758.8,387.3 1759.4,398.7 1760.1,394.9 1760.8,400.3 1761.4,377.4 1762.1,389.9 1762.7,390.5 1763.4,388.6 1764.0,388.1 1764.7,393.6 1765.4,391.9 1766.0,389.5 1766.7,394.0 1767.3,384.5 1768.0,387.3 1768.6,394.1 1769.3,395.6 1770.0,388.1 1770.6,385.0 1771.3,394.6 1771.9,392.4 1772.6,395.4 1773.2,389.9 1773.9,401.4 1774.6,399.5 1775.2,388.8 1775.9,390.4 1776.5,388.4 1777.2,390.0 1777.8,387.6 1778.5,391.2 1779.2,393.0 1779.8,388.7 1780.5,392.5 1781.1,388.0 1781.8,395.4 1782.4,392.9 1783.1,388.0 1783.8,392.4 1784.4,386.6 1785.1,385.1 1785.7,388.7 1786.4,396.0 1787.0,385.7 1787.7,394.5 1788.4,398.9 1789.0,387.4 1789.7,393.6 1790.3,399.7 1791.0,391.5 1791.6,398.6 1792.3,394.2 1793.0,399.9 1793.6,399.1 1794.3,395.4 1794.9,384.6 1795.6,391.3 1796.2,388.5 1796.9,395.2 1797.6,390.8 1798.2,401.8 1798.9,395.3 1799.5,391.2 1800.2,395.2 1800.8,399.8 1801.5,399.8 1802.2,390.7 1802.8,386.5 1803.5,391.8 1804.1,386.4 1804.8,398.3 1805.4,392.0 1806.1,391.8 1806.8,390.4 1807.4,402.1 1808.1,393.4 1808.7,398.9 1809.4,400.1 1810.0,399.5 1810.7,397.5 1811.4,396.8 1812.0,400.5 1812.7,398.6 1813.3,394.6 1814.0,394.7 1814.6,391.7 1815.3,392.2 1816.0,402.7 1816.6,395.8 1817.3,395.6 1817.9,394.6 1818.6,400.9 1819.2,396.2 1819.9,392.0 1820.6,397.8 1821.2,401.0 1821.9,394.5 1822.5,398.3 1823.2,396.0 1823.8,395.5 1824.5,398.9 1825.2,396.1 1825.8,401.1 1826.5,405.3 1827.1,393.1 1827.8,398.5 1828.4,400.5 1829.1,394.2 1829.8,398.6 1830.4,397.1 1831.1,396.7 1831.7,397.8 1832.4,401.1 1833.0,393.9 1833.7,396.1 1834.3,394.5 1835.0,404.7 1835.7,399.9 1836.3,398.6 1837.0,398.4 1837.6,398.1 1838.3,396.9 1838.9,410.5 1839.6,403.2 1840.3,403.1 1840.9,405.1 1841.6,398.5 1842.2,400.3 1842.9,405.5 1843.5,407.4 1844.2,401.8 1844.9,411.8 1845.5,402.7 1846.2,406.6 1846.8,400.6 1847.5,393.5 1848.1,396.4 1848.8,403.1 1849.5,396.9 1850.1,395.7 1850.8,398.2 1851.4,396.0 1852.1,405.5 1852.7,406.0 1853.4,435.7 1854.1,437.2 1854.7,435.1 1855.4,440.0 1856.0,435.9 1856.7,427.6 1857.3,433.6 1858.0,439.2 1858.7,434.6 1859.3,434.6 1860.0,441.5 1860.6,440.1 1861.3,431.9 1861.9,437.4 1862.6,438.9 1863.3,444.1 1863.9,445.9 1864.6,435.2 1865.2,444.1 1865.9,438.2 1866.5,433.0 1867.2,438.5 1867.9,439.6 1868.5,436.1 1869.2,436.0 1869.8,440.2 1870.5,437.8 1871.1,444.3 1871.8,447.2 1872.5,442.0 1873.1,445.7 1873.8,441.1 1874.4,438.9 1875.1,439.1 1875.7,433.8 1876.4,446.6 1877.1,445.2 1877.7,445.9 1878.4,447.7 1879.0,436.3 1879.7,444.6 1880.3,440.9 1881.0,439.5 1881.7,429.0 1882.3,440.7 1883.0,444.2 1883.6,435.7 1884.3,443.7 1884.9,450.2 1885.6,436.9 1886.3,436.9 1886.9,445.6 1887.6,445.5 1888.2,443.4 1888.9,450.9 1889.5,453.1 1890.2,451.2 1890.9,439.0 1891.5,442.0 1892.2,451.4 1892.8,448.4 1893.5,447.3 1894.1,446.0 1894.8,441.7 1895.5,434.9 1896.1,445.2 1896.8,445.3 1897.4,442.4 1898.1,446.2 1898.7,445.8 1899.4,444.7 1900.1,448.3 1900.7,438.8 1901.4,449.5 1902.0,441.7 1902.7,450.5 1903.3,450.9 1904.0,446.4 1904.7,450.8 1905.3,447.1 1906.0,448.3 1906.6,441.4 1907.3,462.6 1907.9,454.9 1908.6,459.9 1909.3,450.6 1909.9,446.8 1910.6,436.7 1911.2,457.2 1911.9,445.8 1912.5,450.4 1913.2,450.0 1913.9,445.0 1914.5,451.3 1915.2,448.6 1915.8,446.7 1916.5,445.5 1917.1,459.4 1917.8,455.4 1918.5,458.0 1919.1,455.1 1919.8,450.2 1920.4,439.7 1921.1,452.6 1921.7,452.0 1922.4,450.3 1923.1,443.2 1923.7,454.6 1924.4,451.5 1925.0,450.1 1925.7,450.9 1926.3,463.4 1927.0,459.9 1927.7,453.0 1928.3,462.7 1929.0,455.0 1929.6,460.7 1930.3,451.7 1930.9,453.7 1931.6,460.2 1932.3,453.5 1932.9,457.3 1933.6,457.0 1934.2,452.1 1934.9,453.6 1935.5,454.7 1936.2,447.9 1936.9,454.4 1937.5,449.2 1938.2,453.6 1938.8,455.7 1939.5,444.2 1940.1,458.9 1940.8,461.8 1941.5,462.0 1942.1,458.0 1942.8,456.8 1943.4,461.4 1944.1,452.1 1944.7,458.6 1945.4,456.2 1946.1,461.6 1946.7,458.9 1947.4,452.5 1948.0,454.9 1948.7,460.5 1949.3,452.6 1950.0,458.8 1950.7,458.6 1951.3,456.3 1952.0,457.0 1952.6,461.9 1953.3,465.4 1953.9,457.5 1954.6,473.4 1955.3,465.1 1955.9,472.0 1956.6,465.9 1957.2,459.4 1957.9,461.4 1958.5,462.1 1959.2,459.8 1959.9,451.4 1960.5,452.3 1961.2,446.2 1961.8,461.6 1962.5,460.9 1963.1,460.3 1963.8,462.7 1964.5,462.0 1965.1,463.7 1965.8,466.1 1966.4,465.2 1967.1,459.6 1967.7,464.9 1968.4,449.7 1969.1,458.6 1969.7,458.9 1970.4,458.6 1971.0,468.3 1971.7,466.9 1972.3,465.6 1973.0,464.9 1973.7,462.8 1974.3,457.9 1975.0,458.0 1975.6,459.1 1976.3,459.8 1976.9,463.9 1977.6,461.7 1978.3,468.5 1978.9,471.1 1979.6,465.9 1980.2,474.1 1980.9,460.1 1981.5,459.6 1982.2,452.0 1982.9,464.4 1983.5,467.6 1984.2,472.6 1984.8,467.3 1985.5,467.9 1986.1,466.2 1986.8,470.1 1987.5,467.8 1988.1,470.6 1988.8,462.3 1989.4,467.1 1990.1,464.9 1990.7,470.5 1991.4,467.9 1992.1,473.2 1992.7,475.7 1993.4,466.7 1994.0,471.6 1994.7,469.8 1995.3,468.6 1996.0,474.0 1996.6,465.4 1997.3,475.0 1998.0,473.0 1998.6,462.8 1999.3,478.5 1999.9,463.0 2000.6,466.9 2001.2,468.8 2001.9,475.1 2002.6,469.9 2003.2,475.3 2003.9,466.2 2004.5,472.9 2005.2,473.8 2005.8,473.1 2006.5,473.1 2007.2,467.4 2007.8,467.5 2008.5,471.7 2009.1,471.7 2009.8,472.9 2010.4,466.8 2011.1,470.8 2011.8,478.3 2012.4,479.9 2013.1,472.4 2013.7,474.9 2014.4,470.3 2015.0,475.8 2015.7,473.9 2016.4,472.0 2017.0,471.5 2017.7,476.1 2018.3,472.7 2019.0,478.5 2019.6,483.0 2020.3,476.0 2021.0,471.5 2021.6,472.1 2022.3,480.1 2022.9,489.0 2023.6,479.8 2024.2,478.5 2024.9,476.0 2025.6,473.1 2026.2,478.8 2026.9,478.1 2027.5,478.2 2028.2,477.6 2028.8,481.4 2029.5,479.6 2030.2,483.0 2030.8,481.9 2031.5,485.7 2032.1,484.1 2032.8,476.2 2033.4,479.8 2034.1,477.9 2034.8,476.2 2035.4,481.8 2036.1,486.4 2036.7,482.1 2037.4,481.7 2038.0,474.7 2038.7,471.0 2039.4,477.2 2040.0,481.2 2040.7,472.7 2041.3,480.8 2042.0,480.1 2042.6,480.9 2043.3,479.9 2044.0,478.1 2044.6,474.9 2045.3,467.7 2045.9,474.5 2046.6,479.2 2047.2,474.2 2047.9,471.5 2048.6,470.0 2049.2,474.2 2049.9,478.1 2050.5,464.8 2051.2,473.9 2051.8,479.1 2052.5,484.8 2053.2,478.7 2053.8,475.0 2054.5,482.6 2055.1,484.8 2055.8,475.7 2056.4,483.5 2057.1,483.2 2057.8,477.6 2058.4,479.3 2059.1,477.7 2059.7,477.1 2060.4,474.1 2061.0,477.7 2061.7,477.7 2062.4,485.9 2063.0,471.1 2063.7,475.5 2064.3,475.4 2065.0,477.9 2065.6,466.4 2066.3,476.4 2067.0,477.9 2067.6,483.0 2068.3,471.3 2068.9,484.6 2069.6,482.0 2070.2,472.6 2070.9,483.0 2071.6,478.0 2072.2,474.3 2072.9,480.1 2073.5,484.3 2074.2,482.6 2074.8,480.3 2075.5,483.7 2076.2,473.2 2076.8,476.7 2077.5,474.0 2078.1,477.3 2078.8,476.1 2079.4,478.3 2080.1,484.9 2080.8,478.8 2081.4,481.4 2082.1,475.1 2082.7,485.5 2083.4,481.4 2084.0,469.6 2084.7,481.9 2085.4,482.7 2086.0,479.1 2086.7,472.2 2087.3,485.5 2088.0,479.9 2088.6,482.5 2089.3,480.7 2090.0,482.3 2090.6,478.3 2091.3,485.5 2091.9,489.9 2092.6,485.5 2093.2,482.0 2093.9,488.8 2094.6,483.5 2095.2,482.3 2095.9,487.6 2096.5,472.5 2097.2,488.8 2097.8,481.1 2098.5,480.2 2099.2,484.7 2099.8,478.1 2100.5,484.0 2101.1,485.5 2101.8,477.1 2102.4,479.1 2103.1,484.6 2103.8,485.9 2104.4,474.5 2105.1,481.6 2105.7,486.9 2106.4,477.5 2107.0,489.0 2107.7,486.3 2108.4,486.6 2109.0,492.7 2109.7,482.6 2110.3,468.8 2111.0,481.2 2111.6,482.0 2112.3,484.3 2113.0,483.9 2113.6,481.9 2114.3,479.5 2114.9,487.3 2115.6,484.6 2116.2,486.2 2116.9,481.4 2117.6,480.8 2118.2,479.8 2118.9,487.7 2119.5,489.5 2120.2,484.6 2120.8,490.0 2121.5,487.3 2122.2,483.1 2122.8,483.6 2123.5,479.4 2124.1,491.7 2124.8,481.8 2125.4,489.7 2126.1,483.0 2126.8,491.3 2127.4,484.1 2128.1,485.0 2128.7,474.0 2129.4,487.8 2130.0,477.5 2130.7,486.3 2131.4,490.9 2132.0,484.7 2132.7,481.3 2133.3,483.8 2134.0,481.6 2134.6,482.4 2135.3,484.3 2136.0,477.0 2136.6,475.3 2137.3,478.0 2137.9,485.6 2138.6,483.9 2139.2,479.1 2139.9,484.9 2140.6,489.9 2141.2,477.7 2141.9,480.0 2142.5,481.8 2143.2,481.9 2143.8,483.5 2144.5,480.3 2145.2,476.7 2145.8,481.8 2146.5,483.3 2147.1,486.4 2147.8,484.7 2148.4,487.9 2149.1,483.3 2149.8,493.8 2150.4,490.1 2151.1,485.6 2151.7,485.0 2152.4,486.8 2153.0,492.5 2153.7,492.6 2154.3,500.7 2155.0,499.9 2155.7,497.9 2156.3,490.1 2157.0,486.6 2157.6,490.7 2158.3,491.6 2158.9,490.3 2159.6,481.2 2160.3,487.0 2160.9,487.1 2161.6,489.7 2162.2,480.7 2162.9,476.5 2163.5,481.1 2164.2,486.8 2164.9,476.5 2165.5,481.0 2166.2,474.9 2166.8,487.9 2167.5,488.5 2168.1,488.1 2168.8,495.0 2169.5,490.1 2170.1,486.7 2170.8,488.1 2171.4,488.4 2172.1,490.0 2172.7,492.4 2173.4,483.5 2174.1,491.2 2174.7,488.3 2175.4,493.6 2176.0,489.6 2176.7,493.9 2177.3,493.9 2178.0,500.7 2178.7,491.4 2179.3,484.8 2180.0,497.2 2180.6,486.3 2181.3,489.1 2181.9,497.7 2182.6,492.6 2183.3,487.5 2183.9,490.3 2184.6,488.7 2185.2,484.5 2185.9,490.7 2186.5,484.9 2187.2,496.5 2187.9,495.4 2188.5,486.4 2189.2,487.3 2189.8,492.8 2190.5,501.2 2191.1,496.5 2191.8,499.6 2192.5,487.9 2193.1,498.5 2193.8,498.6 2194.4,493.6 2195.1,490.7 2195.7,493.9 2196.4,491.9 2197.1,490.2 2197.7,492.1 2198.4,502.5 2199.0,503.5 2199.7,491.2 2200.3,500.8 2201.0,493.0 2201.7,492.4 2202.3,494.6 2203.0,498.2 2203.6,490.7 2204.3,497.3 2204.9,485.8 2205.6,493.1 2206.3,493.3 2206.9,499.3 2207.6,499.9 2208.2,500.1 2208.9,500.8 2209.5,501.5 2210.2,502.0 2210.9,498.2 2211.5,495.8 2212.2,491.8 2212.8,500.2 2213.5,505.7 2214.1,502.1 2214.8,499.6 2215.5,505.9 2216.1,503.4 2216.8,503.9 2217.4,504.9 2218.1,505.9 2218.7,499.2 2219.4,504.2 2220.1,507.3 2220.7,499.1 2221.4,498.0 2222.0,497.8 2222.7,500.0 2223.3,504.5 2224.0,504.4 2224.7,498.6 2225.3,494.2 2226.0,515.3 2226.6,499.3 2227.3,502.3 2227.9,504.1 2228.6,508.0 2229.3,507.9 2229.9,509.4 2230.6,503.7 2231.2,509.2 2231.9,507.9 2232.5,513.6 2233.2,502.1 2233.9,503.1 2234.5,511.5 2235.2,502.4 2235.8,508.7 2236.5,507.7 2237.1,502.8 2237.8,499.7 2238.5,499.8 2239.1,504.6"/></defs>
<use href="#dN" class="fc"/><use href="#dN" class="ed"/>
<polyline class="fit" points="250.1,229.7 251.1,229.9 252.0,230.0 253.0,230.2 254.0,230.3 254.9,230.5 255.9,230.6 256.8,230.8 257.8,231.0 258.8,231.1 259.7,231.3 260.7,231.5 261.6,231.7 262.6,231.8 263.6,232.0 264.5,232.2 265.5,232.4 266.4,232.6 267.4,232.8 268.4,233.0 269.3,233.2 270.3,233.4 271.2,233.6 272.2,233.8 273.2,234.0 274.1,234.2 275.1,234.4 276.0,234.6 277.0,234.8 278.0,235.0 278.9,235.2 279.9,235.4 280.8,235.6 281.8,235.9 282.8,236.1 283.7,236.3 284.7,236.5 285.6,236.7 286.6,236.9 287.6,237.1 288.5,237.4 289.5,237.6 290.4,237.8 291.4,238.0 292.4,238.2 293.3,238.4 294.3,238.6 295.2,238.8 296.2,239.0 297.2,239.2 298.1,239.4 299.1,239.6 300.0,239.8 301.0,240.0 302.0,240.2 302.9,240.4 303.9,240.6 304.8,240.8 305.8,241.0 306.8,241.2 307.7,241.3 308.7,241.5 309.6,241.7 310.6,241.8 311.6,242.0 312.5,242.2 313.5,242.3 314.4,242.5 315.4,242.6 316.4,242.8 317.3,242.9 318.3,243.0 319.2,243.2 320.2,243.3 321.2,243.4 322.1,243.6 323.1,243.7 324.0,243.8 325.0,243.9 326.0,244.0 326.9,244.1 327.9,244.2 328.8,244.3 329.8,244.4 330.8,244.5 331.7,244.6 332.7,244.6 333.6,244.7 334.6,244.8 335.6,244.8 336.5,244.9 337.5,245.0 338.4,245.0 339.4,245.1 340.4,245.1 341.3,245.2 342.3,245.2 343.2,245.3 344.2,245.3 345.2,245.3 346.1,245.4 347.1,245.4 348.0,245.4 349.0,245.4 350.0,245.5 350.9,245.5 351.9,245.5 352.8,245.5 353.8,245.5 354.8,245.6 355.7,245.6 356.7,245.6 357.6,245.6 358.6,245.6 359.6,245.6 360.5,245.6 361.5,245.6 362.4,245.6 363.4,245.6 364.4,245.7 365.3,245.7 366.3,245.7 367.2,245.7 368.2,245.7 369.2,245.7 370.1,245.7 371.1,245.7 372.0,245.7 373.0,245.7 374.0,245.7 374.9,245.7 375.9,245.8 376.8,245.8 377.8,245.8 378.8,245.8 379.7,245.8 380.7,245.8 381.6,245.9 382.6,245.9 383.6,245.9 384.5,245.9 385.5,246.0 386.4,246.0 387.4,246.0 388.4,246.1 389.3,246.1 390.3,246.1 391.2,246.2 392.2,246.2 393.2,246.2 394.1,246.3 395.1,246.3 396.0,246.4 397.0,246.4 398.0,246.5 398.9,246.5 399.9,246.6 400.8,246.6 401.8,246.7 402.8,246.7 403.7,246.8 404.7,246.8 405.6,246.9 406.6,247.0 407.6,247.0 408.5,247.1 409.5,247.2 410.4,247.2 411.4,247.3 412.4,247.4 413.3,247.4 414.3,247.5 415.2,247.6 416.2,247.6 417.2,247.7 418.1,247.8 419.1,247.9 420.0,247.9 421.0,248.0 422.0,248.1 422.9,248.2 423.9,248.2 424.8,248.3 425.8,248.4 426.8,248.5 427.7,248.5 428.7,248.6 429.6,248.7 430.6,248.8 431.6,248.8 432.5,248.9 433.5,249.0 434.4,249.1 435.4,249.2 436.4,249.2 437.3,249.3 438.3,249.4 439.2,249.5 440.2,249.5 441.2,249.6 442.1,249.7 443.1,249.8 444.0,249.8 445.0,249.9 446.0,250.0 446.9,250.1 447.9,250.1 448.8,250.2 449.8,250.3 450.8,250.4 451.7,250.4 452.7,250.5 453.6,250.6 454.6,250.7 455.6,250.7 456.5,250.8 457.5,250.9 458.4,251.0 459.4,251.1 460.4,251.1 461.3,251.2 462.3,251.3 463.2,251.4 464.2,251.5 465.2,251.6 466.1,251.6 467.1,251.7 468.0,251.8 469.0,251.9 470.0,252.0 470.9,252.1 471.9,252.2 472.8,252.3 473.8,252.4 474.8,252.5 475.7,252.6 476.7,252.7 477.6,252.8 478.6,252.9 479.6,253.0 480.5,253.2 481.5,253.3 482.4,253.4 483.4,253.5 484.4,253.7 485.3,253.8 486.3,253.9 487.2,254.0 488.2,254.2 489.2,254.3 490.1,254.5 491.1,254.6 492.0,254.8 493.0,254.9 494.0,255.1 494.9,255.2 495.9,255.4 496.8,255.5 497.8,255.7 498.8,255.9 499.7,256.1 500.7,256.2 501.6,256.4 502.6,256.6 503.6,256.8 504.5,256.9 505.5,257.1 506.4,257.3 507.4,257.5 508.4,257.7 509.3,257.9 510.3,258.1 511.2,258.3 512.2,258.5 513.2,258.7 514.1,258.9 515.1,259.1 516.0,259.3 517.0,259.5 518.0,259.7 518.9,260.0 519.9,260.2 520.8,260.4 521.8,260.6 522.8,260.8 523.7,261.0 524.7,261.2 525.6,261.5 526.6,261.7 527.6,261.9 528.5,262.1 529.5,262.3 530.4,262.5 531.4,262.7 532.4,262.9 533.3,263.2 534.3,263.4 535.2,263.6 536.2,263.8 537.2,264.0 538.1,264.2 539.1,264.4 540.0,264.6 541.0,264.8 542.0,265.0 542.9,265.2 543.9,265.4 544.8,265.5 545.8,265.7 546.8,265.9 547.7,266.1 548.7,266.3 549.6,266.4 550.6,266.6 551.6,266.8 552.5,266.9 553.5,267.1 554.4,267.2 555.4,267.4 556.4,267.5 557.3,267.7 558.3,267.8 559.2,267.9 560.2,268.1 561.2,268.2 562.1,268.3 563.1,268.4 564.0,268.5 565.0,268.6 566.0,268.7 566.9,268.8 567.9,268.9 568.8,269.0 569.8,269.1 570.8,269.2 571.7,269.3 572.7,269.4 573.6,269.4 574.6,269.5 575.6,269.6 576.5,269.6 577.5,269.7 578.4,269.8 579.4,269.8 580.4,269.9 581.3,269.9 582.3,270.0 583.2,270.0 584.2,270.0 585.2,270.1 586.1,270.1 587.1,270.1 588.0,270.2 589.0,270.2 590.0,270.2 590.9,270.2 591.9,270.3 592.8,270.3 593.8,270.3 594.8,270.3 595.7,270.3 596.7,270.3 597.6,270.3 598.6,270.3 599.6,270.4 600.5,270.4 601.5,270.4 602.4,270.4 603.4,270.4 604.4,270.4 605.3,270.4 606.3,270.4 607.2,270.4 608.2,270.4 609.2,270.4 610.1,270.4 611.1,270.4 612.0,270.5 613.0,270.5 614.0,270.5 614.9,270.5 615.9,270.5 616.8,270.5 617.8,270.5 618.8,270.6 619.7,270.6 620.7,270.6 621.6,270.6 622.6,270.6 623.6,270.7 624.5,270.7 625.5,270.7 626.4,270.7 627.4,270.8 628.4,270.8 629.3,270.8 630.3,270.9 631.2,270.9 632.2,270.9 633.2,271.0 634.1,271.0 635.1,271.1 636.0,271.1 637.0,271.2 638.0,271.2 638.9,271.3 639.9,271.3 640.8,271.4 641.8,271.4 642.8,271.5 643.7,271.5 644.7,271.6 645.6,271.7 646.6,271.7 647.6,271.8 648.5,271.8 649.5,271.9 650.4,272.0 651.4,272.0 652.4,272.1 653.3,272.2 654.3,272.2 655.2,272.3 656.2,272.4 657.2,272.5 658.1,272.5 659.1,272.6 660.0,272.7 661.0,272.8 662.0,272.8 662.9,272.9 663.9,273.0 664.8,273.1 665.8,273.1 666.8,273.2 667.7,273.3 668.7,273.4 669.6,273.4 670.6,273.5 671.6,273.6 672.5,273.7 673.5,273.7 674.4,273.8 675.4,273.9 676.4,274.0 677.3,274.0 678.3,274.1 679.2,274.2 680.2,274.3 681.2,274.4 682.1,274.4 683.1,274.5 684.0,274.6 685.0,274.7 686.0,274.7 686.9,274.8 687.9,274.9 688.8,275.0 689.8,275.0 690.8,275.1 691.7,275.2 692.7,275.3 693.6,275.3 694.6,275.4 695.6,275.5 696.5,275.6 697.5,275.6 698.4,275.7 699.4,275.8 700.4,275.9 701.3,276.0 702.3,276.0 703.2,276.1 704.2,276.2 705.2,276.3 706.1,276.4 707.1,276.5 708.0,276.6 709.0,276.7 710.0,276.8 710.9,276.8 711.9,276.9 712.8,277.0 713.8,277.1 714.8,277.2 715.7,277.4 716.7,277.5 717.6,277.6 718.6,277.7 719.6,277.8 720.5,277.9 721.5,278.0 722.4,278.1 723.4,278.3 724.4,278.4 725.3,278.5 726.3,278.7 727.2,278.8 728.2,278.9 729.2,279.1 730.1,279.2 731.1,279.4 732.0,279.5 733.0,279.7 734.0,279.8 734.9,280.0 735.9,280.1 736.8,280.3 737.8,280.5 738.8,280.6 739.7,280.8 740.7,281.0 741.6,281.1 742.6,281.3 743.6,281.5 744.5,281.7 745.5,281.9 746.4,282.1 747.4,282.3 748.4,282.5 749.3,282.6 750.3,282.8 751.2,283.0 752.2,283.2 753.2,283.5 754.1,283.7 755.1,283.9 756.0,284.1 757.0,284.3 758.0,284.5 758.9,284.7 759.9,284.9 760.8,285.1 761.8,285.3 762.8,285.6 763.7,285.8 764.7,286.0 765.6,286.2 766.6,286.4 767.6,286.6 768.5,286.8 769.5,287.1 770.4,287.3 771.4,287.5 772.4,287.7 773.3,287.9 774.3,288.1 775.2,288.3 776.2,288.5 777.2,288.7 778.1,288.9 779.1,289.1 780.0,289.3 781.0,289.5 782.0,289.7 782.9,289.9 783.9,290.1 784.8,290.3 785.8,290.5 786.8,290.6 787.7,290.8 788.7,291.0 789.6,291.2 790.6,291.3 791.6,291.5 792.5,291.7 793.5,291.8 794.4,292.0 795.4,292.1 796.4,292.3 797.3,292.4 798.3,292.5 799.2,292.7 800.2,292.8 801.2,292.9 802.1,293.0 803.1,293.2 804.0,293.3 805.0,293.4 806.0,293.5 806.9,293.6 807.9,293.7 808.8,293.8 809.8,293.9 810.8,294.0 811.7,294.0 812.7,294.1 813.6,294.2 814.6,294.3 815.6,294.3 816.5,294.4 817.5,294.5 818.4,294.5 819.4,294.6 820.4,294.6 821.3,294.7 822.3,294.7 823.2,294.7 824.2,294.8 825.2,294.8 826.1,294.8 827.1,294.9 828.0,294.9 829.0,294.9 830.0,295.0 830.9,295.0 831.9,295.0 832.8,295.0 833.8,295.0 834.8,295.0 835.7,295.1 836.7,295.1 837.6,295.1 838.6,295.1 839.6,295.1 840.5,295.1 841.5,295.1 842.4,295.1 843.4,295.1 844.4,295.1 845.3,295.1 846.3,295.2 847.2,295.2 848.2,295.2 849.2,295.2 850.1,295.2 851.1,295.2 852.0,295.2 853.0,295.2 854.0,295.2 854.9,295.2 855.9,295.3 856.8,295.3 857.8,295.3 858.8,295.3 859.7,295.3 860.7,295.3 861.6,295.4 862.6,295.4 863.6,295.4 864.5,295.4 865.5,295.5 866.4,295.5 867.4,295.5 868.4,295.5 869.3,295.6 870.3,295.6 871.2,295.6 872.2,295.7 873.2,295.7 874.1,295.8 875.1,295.8 876.0,295.9 877.0,295.9 878.0,296.0 878.9,296.0 879.9,296.1 880.8,296.1 881.8,296.2 882.8,296.2 883.7,296.3 884.7,296.3 885.6,296.4 886.6,296.5 887.6,296.5 888.5,296.6 889.5,296.7 890.4,296.7 891.4,296.8 892.4,296.9 893.3,296.9 894.3,297.0 895.2,297.1 896.2,297.1 897.2,297.2 898.1,297.3 899.1,297.4 900.0,297.4 901.0,297.5 902.0,297.6 902.9,297.7 903.9,297.7 904.8,297.8 905.8,297.9 906.8,298.0 907.7,298.0 908.7,298.1 909.6,298.2 910.6,298.3 911.6,298.3 912.5,298.4 913.5,298.5 914.4,298.6 915.4,298.6 916.4,298.7 917.3,298.8 918.3,298.9 919.2,298.9 920.2,299.0 921.2,299.1 922.1,299.2 923.1,299.2 924.0,299.3 925.0,299.4 926.0,299.5 926.9,299.5 927.9,299.6 928.8,299.7 929.8,299.8 930.8,299.8 931.7,299.9 932.7,300.0 933.6,300.1 934.6,300.2 935.6,300.2 936.5,300.3 937.5,300.4 938.4,300.5 939.4,300.5 940.4,300.6 941.3,300.7 942.3,300.8 943.2,300.9 944.2,301.0 945.2,301.0 946.1,301.1 947.1,301.2 948.0,301.3 949.0,301.4 950.0,301.5 950.9,301.6 951.9,301.7 952.8,301.8 953.8,301.9 954.8,302.0 955.7,302.1 956.7,302.2 957.6,302.3 958.6,302.4 959.6,302.5 960.5,302.7 961.5,302.8 962.4,302.9 963.4,303.0 964.4,303.1 965.3,303.3 966.3,303.4 967.2,303.5 968.2,303.7 969.2,303.8 970.1,304.0 971.1,304.1 972.0,304.3 973.0,304.4 974.0,304.6 974.9,304.7 975.9,304.9 976.8,305.0 977.8,305.2 978.8,305.4 979.7,305.5 980.7,305.7 981.6,305.9 982.6,306.1 983.6,306.3 984.5,306.4 985.5,306.6 986.4,306.8 987.4,307.0 988.4,307.2 989.3,307.4 990.3,307.6 991.2,307.8 992.2,308.0 993.2,308.2 994.1,308.4 995.1,308.6 996.0,308.8 997.0,309.0 998.0,309.2 998.9,309.4 999.9,309.7 1000.8,309.9 1001.8,310.1 1002.8,310.3 1003.7,310.5 1004.7,310.7 1005.6,310.9 1006.6,311.2 1007.6,311.4 1008.5,311.6 1009.5,311.8 1010.4,312.0 1011.4,312.2 1012.4,312.4 1013.3,312.6 1014.3,312.9 1015.2,313.1 1016.2,313.3 1017.2,313.5 1018.1,313.7 1019.1,313.9 1020.0,314.1 1021.0,314.3 1022.0,314.5 1022.9,314.7 1023.9,314.8 1024.8,315.0 1025.8,315.2 1026.8,315.4 1027.7,315.6 1028.7,315.7 1029.6,315.9 1030.6,316.1 1031.6,316.2 1032.5,316.4 1033.5,316.6 1034.4,316.7 1035.4,316.9 1036.4,317.0 1037.3,317.1 1038.3,317.3 1039.2,317.4 1040.2,317.5 1041.2,317.7 1042.1,317.8 1043.1,317.9 1044.0,318.0 1045.0,318.1 1046.0,318.2 1046.9,318.3 1047.9,318.4 1048.8,318.5 1049.8,318.6 1050.8,318.7 1051.7,318.8 1052.7,318.9 1053.6,318.9 1054.6,319.0 1055.6,319.1 1056.5,319.1 1057.5,319.2 1058.4,319.3 1059.4,319.3 1060.4,319.4 1061.3,319.4 1062.3,319.4 1063.2,319.5 1064.2,319.5 1065.2,319.6 1066.1,319.6 1067.1,319.6 1068.0,319.7 1069.0,319.7 1070.0,319.7 1070.9,319.7 1071.9,319.7 1072.8,319.8 1073.8,319.8 1074.8,319.8 1075.7,319.8 1076.7,319.8 1077.6,319.8 1078.6,319.8 1079.6,319.8 1080.5,319.9 1081.5,319.9 1082.4,319.9 1083.4,319.9 1084.4,319.9 1085.3,319.9 1086.3,319.9 1087.2,319.9 1088.2,319.9 1089.2,319.9 1090.1,319.9 1091.1,319.9 1092.0,319.9 1093.0,320.0 1094.0,320.0 1094.9,320.0 1095.9,320.0 1096.8,320.0 1097.8,320.0 1098.8,320.0 1099.7,320.1 1100.7,320.1 1101.6,320.1 1102.6,320.1 1103.6,320.1 1104.5,320.2 1105.5,320.2 1106.4,320.2 1107.4,320.3 1108.4,320.3 1109.3,320.3 1110.3,320.4 1111.2,320.4 1112.2,320.4 1113.2,320.5 1114.1,320.5 1115.1,320.6 1116.0,320.6 1117.0,320.6 1118.0,320.7 1118.9,320.7 1119.9,320.8 1120.8,320.9 1121.8,320.9 1122.8,321.0 1123.7,321.0 1124.7,321.1 1125.6,321.1 1126.6,321.2 1127.6,321.3 1128.5,321.3 1129.5,321.4 1130.4,321.5 1131.4,321.5 1132.4,321.6 1133.3,321.7 1134.3,321.7 1135.2,321.8 1136.2,321.9 1137.2,322.0 1138.1,322.0 1139.1,322.1 1140.0,322.2 1141.0,322.2 1142.0,322.3 1142.9,322.4 1143.9,322.5 1144.8,322.5 1145.8,322.6 1146.8,322.7 1147.7,322.8 1148.7,322.9 1149.6,322.9 1150.6,323.0 1151.6,323.1 1152.5,323.2 1153.5,323.2 1154.4,323.3 1155.4,323.4 1156.4,323.5 1157.3,323.5 1158.3,323.6 1159.2,323.7 1160.2,323.8 1161.2,323.8 1162.1,323.9 1163.1,324.0 1164.0,324.1 1165.0,324.1 1166.0,324.2 1166.9,324.3 1167.9,324.4 1168.8,324.4 1169.8,324.5 1170.8,324.6 1171.7,324.7 1172.7,324.7 1173.6,324.8 1174.6,324.9 1175.6,325.0 1176.5,325.1 1177.5,325.1 1178.4,325.2 1179.4,325.3 1180.4,325.4 1181.3,325.5 1182.3,325.5 1183.2,325.6 1184.2,325.7 1185.2,325.8 1186.1,325.9 1187.1,326.0 1188.0,326.1 1189.0,326.2 1190.0,326.2 1190.9,326.3 1191.9,326.4 1192.8,326.5 1193.8,326.6 1194.8,326.7 1195.7,326.8 1196.7,326.9 1197.6,327.1 1198.6,327.2 1199.6,327.3 1200.5,327.4 1201.5,327.5 1202.4,327.6 1203.4,327.8 1204.4,327.9 1205.3,328.0 1206.3,328.1 1207.2,328.3 1208.2,328.4 1209.2,328.6 1210.1,328.7 1211.1,328.8 1212.0,329.0 1213.0,329.1 1214.0,329.3 1214.9,329.5 1215.9,329.6 1216.8,329.8 1217.8,329.9 1218.8,330.1 1219.7,330.3 1220.7,330.5 1221.6,330.6 1222.6,330.8 1223.6,331.0 1224.5,331.2 1225.5,331.4 1226.4,331.6 1227.4,331.7 1228.4,331.9 1229.3,332.1 1230.3,332.3 1231.2,332.5 1232.2,332.7 1233.2,332.9 1234.1,333.1 1235.1,333.4 1236.0,333.6 1237.0,333.8 1238.0,334.0 1238.9,334.2 1239.9,334.4 1240.8,334.6 1241.8,334.8 1242.8,335.0 1243.7,335.3 1244.7,335.5 1245.6,335.7 1246.6,335.9 1247.6,336.1 1248.5,336.3 1249.5,336.5 1250.4,336.8 1251.4,337.0 1252.4,337.2 1253.3,337.4 1254.3,337.6 1255.2,337.8 1256.2,338.0 1257.2,338.2 1258.1,338.4 1259.1,338.6 1260.0,338.8 1261.0,339.0 1262.0,339.2 1262.9,339.4 1263.9,339.6 1264.8,339.8 1265.8,340.0 1266.8,340.1 1267.7,340.3 1268.7,340.5 1269.6,340.7 1270.6,340.8 1271.6,341.0 1272.5,341.1 1273.5,341.3 1274.4,341.5 1275.4,341.6 1276.4,341.7 1277.3,341.9 1278.3,342.0 1279.2,342.2 1280.2,342.3 1281.2,342.4 1282.1,342.5 1283.1,342.7 1284.0,342.8 1285.0,342.9 1286.0,343.0 1286.9,343.1 1287.9,343.2 1288.8,343.3 1289.8,343.4 1290.8,343.4 1291.7,343.5 1292.7,343.6 1293.6,343.7 1294.6,343.8 1295.6,343.8 1296.5,343.9 1297.5,343.9 1298.4,344.0 1299.4,344.1 1300.4,344.1 1301.3,344.1 1302.3,344.2 1303.2,344.2 1304.2,344.3 1305.2,344.3 1306.1,344.3 1307.1,344.4 1308.0,344.4 1309.0,344.4 1310.0,344.4 1310.9,344.5 1311.9,344.5 1312.8,344.5 1313.8,344.5 1314.8,344.5 1315.7,344.5 1316.7,344.6 1317.6,344.6 1318.6,344.6 1319.6,344.6 1320.5,344.6 1321.5,344.6 1322.4,344.6 1323.4,344.6 1324.4,344.6 1325.3,344.6 1326.3,344.6 1327.2,344.7 1328.2,344.7 1329.2,344.7 1330.1,344.7 1331.1,344.7 1332.0,344.7 1333.0,344.7 1334.0,344.7 1334.9,344.7 1335.9,344.7 1336.8,344.8 1337.8,344.8 1338.8,344.8 1339.7,344.8 1340.7,344.8 1341.6,344.8 1342.6,344.9 1343.6,344.9 1344.5,344.9 1345.5,344.9 1346.4,345.0 1347.4,345.0 1348.4,345.0 1349.3,345.1 1350.3,345.1 1351.2,345.1 1352.2,345.2 1353.2,345.2 1354.1,345.3 1355.1,345.3 1356.0,345.3 1357.0,345.4 1358.0,345.4 1358.9,345.5 1359.9,345.5 1360.8,345.6 1361.8,345.7 1362.8,345.7 1363.7,345.8 1364.7,345.8 1365.6,345.9 1366.6,345.9 1367.6,346.0 1368.5,346.1 1369.5,346.1 1370.4,346.2 1371.4,346.3 1372.4,346.3 1373.3,346.4 1374.3,346.5 1375.2,346.6 1376.2,346.6 1377.2,346.7 1378.1,346.8 1379.1,346.8 1380.0,346.9 1381.0,347.0 1382.0,347.1 1382.9,347.1 1383.9,347.2 1384.8,347.3 1385.8,347.4 1386.8,347.4 1387.7,347.5 1388.7,347.6 1389.6,347.7 1390.6,347.7 1391.6,347.8 1392.5,347.9 1393.5,348.0 1394.4,348.1 1395.4,348.1 1396.4,348.2 1397.3,348.3 1398.3,348.4 1399.2,348.4 1400.2,348.5 1401.2,348.6 1402.1,348.7 1403.1,348.7 1404.0,348.8 1405.0,348.9 1406.0,349.0 1406.9,349.0 1407.9,349.1 1408.8,349.2 1409.8,349.3 1410.8,349.3 1411.7,349.4 1412.7,349.5 1413.6,349.6 1414.6,349.6 1415.6,349.7 1416.5,349.8 1417.5,349.9 1418.4,350.0 1419.4,350.0 1420.4,350.1 1421.3,350.2 1422.3,350.3 1423.2,350.4 1424.2,350.5 1425.2,350.5 1426.1,350.6 1427.1,350.7 1428.0,350.8 1429.0,350.9 1430.0,351.0 1430.9,351.1 1431.9,351.2 1432.8,351.3 1433.8,351.4 1434.8,351.5 1435.7,351.6 1436.7,351.7 1437.6,351.8 1438.6,351.9 1439.6,352.0 1440.5,352.1 1441.5,352.3 1442.4,352.4 1443.4,352.5 1444.4,352.6 1445.3,352.8 1446.3,352.9 1447.2,353.0 1448.2,353.2 1449.2,353.3 1450.1,353.4 1451.1,353.6 1452.0,353.7 1453.0,353.9 1454.0,354.0 1454.9,354.2 1455.9,354.4 1456.8,354.5 1457.8,354.7 1458.8,354.9 1459.7,355.0 1460.7,355.2 1461.6,355.4 1462.6,355.6 1463.6,355.7 1464.5,355.9 1465.5,356.1 1466.4,356.3 1467.4,356.5 1468.4,356.7 1469.3,356.9 1470.3,357.1 1471.2,357.3 1472.2,357.5 1473.2,357.7 1474.1,357.9 1475.1,358.1 1476.0,358.3 1477.0,358.5 1478.0,358.7 1478.9,358.9 1479.9,359.1 1480.8,359.4 1481.8,359.6 1482.8,359.8 1483.7,360.0 1484.7,360.2 1485.6,360.4 1486.6,360.6 1487.6,360.9 1488.5,361.1 1489.5,361.3 1490.4,361.5 1491.4,361.7 1492.4,361.9 1493.3,362.1 1494.3,362.3 1495.2,362.6 1496.2,362.8 1497.2,363.0 1498.1,363.2 1499.1,363.4 1500.0,363.6 1501.0,363.8 1502.0,364.0 1502.9,364.1 1503.9,364.3 1504.8,364.5 1505.8,364.7 1506.8,364.9 1507.7,365.1 1508.7,365.2 1509.6,365.4 1510.6,365.6 1511.6,365.7 1512.5,365.9 1513.5,366.0 1514.4,366.2 1515.4,366.3 1516.4,366.5 1517.3,366.6 1518.3,366.8 1519.2,366.9 1520.2,367.0 1521.2,367.2 1522.1,367.3 1523.1,367.4 1524.0,367.5 1525.0,367.6 1526.0,367.7 1526.9,367.8 1527.9,367.9 1528.8,368.0 1529.8,368.1 1530.8,368.2 1531.7,368.3 1532.7,368.4 1533.6,368.4 1534.6,368.5 1535.6,368.6 1536.5,368.6 1537.5,368.7 1538.4,368.7 1539.4,368.8 1540.4,368.8 1541.3,368.9 1542.3,368.9 1543.2,369.0 1544.2,369.0 1545.2,369.0 1546.1,369.1 1547.1,369.1 1548.0,369.1 1549.0,369.2 1550.0,369.2 1550.9,369.2 1551.9,369.2 1552.8,369.2 1553.8,369.3 1554.8,369.3 1555.7,369.3 1556.7,369.3 1557.6,369.3 1558.6,369.3 1559.6,369.3 1560.5,369.3 1561.5,369.4 1562.4,369.4 1563.4,369.4 1564.4,369.4 1565.3,369.4 1566.3,369.4 1567.2,369.4 1568.2,369.4 1569.2,369.4 1570.1,369.4 1571.1,369.4 1572.0,369.4 1573.0,369.4 1574.0,369.5 1574.9,369.5 1575.9,369.5 1576.8,369.5 1577.8,369.5 1578.8,369.5 1579.7,369.5 1580.7,369.6 1581.6,369.6 1582.6,369.6 1583.6,369.6 1584.5,369.7 1585.5,369.7 1586.4,369.7 1587.4,369.7 1588.4,369.8 1589.3,369.8 1590.3,369.8 1591.2,369.9 1592.2,369.9 1593.2,370.0 1594.1,370.0 1595.1,370.0 1596.0,370.1 1597.0,370.1 1598.0,370.2 1598.9,370.2 1599.9,370.3 1600.8,370.3 1601.8,370.4 1602.8,370.5 1603.7,370.5 1604.7,370.6 1605.6,370.6 1606.6,370.7 1607.6,370.8 1608.5,370.8 1609.5,370.9 1610.4,371.0 1611.4,371.0 1612.4,371.1 1613.3,371.2 1614.3,371.2 1615.2,371.3 1616.2,371.4 1617.2,371.4 1618.1,371.5 1619.1,371.6 1620.0,371.7 1621.0,371.7 1622.0,371.8 1622.9,371.9 1623.9,372.0 1624.8,372.0 1625.8,372.1 1626.8,372.2 1627.7,372.3 1628.7,372.3 1629.6,372.4 1630.6,372.5 1631.6,372.6 1632.5,372.6 1633.5,372.7 1634.4,372.8 1635.4,372.9 1636.4,373.0 1637.3,373.0 1638.3,373.1 1639.2,373.2 1640.2,373.3 1641.2,373.3 1642.1,373.4 1643.1,373.5 1644.0,373.6 1645.0,373.6 1646.0,373.7 1646.9,373.8 1647.9,373.9 1648.8,373.9 1649.8,374.0 1650.8,374.1 1651.7,374.2 1652.7,374.2 1653.6,374.3 1654.6,374.4 1655.6,374.5 1656.5,374.5 1657.5,374.6 1658.4,374.7 1659.4,374.8 1660.4,374.9 1661.3,374.9 1662.3,375.0 1663.2,375.1 1664.2,375.2 1665.2,375.3 1666.1,375.4 1667.1,375.5 1668.0,375.5 1669.0,375.6 1670.0,375.7 1670.9,375.8 1671.9,375.9 1672.8,376.0 1673.8,376.1 1674.8,376.2 1675.7,376.3 1676.7,376.4 1677.6,376.5 1678.6,376.7 1679.6,376.8 1680.5,376.9 1681.5,377.0 1682.4,377.1 1683.4,377.3 1684.4,377.4 1685.3,377.5 1686.3,377.6 1687.2,377.8 1688.2,377.9 1689.2,378.0 1690.1,378.2 1691.1,378.3 1692.0,378.5 1693.0,378.6 1694.0,378.8 1694.9,378.9 1695.9,379.1 1696.8,379.3 1697.8,379.4 1698.8,379.6 1699.7,379.8 1700.7,380.0 1701.6,380.1 1702.6,380.3 1703.6,380.5 1704.5,380.7 1705.5,380.9 1706.4,381.0 1707.4,381.2 1708.4,381.4 1709.3,381.6 1710.3,381.8 1711.2,382.0 1712.2,382.2 1713.2,382.4 1714.1,382.6 1715.1,382.8 1716.0,383.0 1717.0,383.3 1718.0,383.5 1718.9,383.7 1719.9,383.9 1720.8,384.1 1721.8,384.3 1722.8,384.5 1723.7,384.7 1724.7,385.0 1725.6,385.2 1726.6,385.4 1727.6,385.6 1728.5,385.8 1729.5,386.0 1730.4,386.2 1731.4,386.5 1732.4,386.7 1733.3,386.9 1734.3,387.1 1735.2,387.3 1736.2,387.5 1737.2,387.7 1738.1,387.9 1739.1,388.1 1740.0,388.3 1741.0,388.5 1742.0,388.7 1742.9,388.9 1743.9,389.1 1744.8,389.3 1745.8,389.4 1746.8,389.6 1747.7,389.8 1748.7,390.0 1749.6,390.1 1750.6,390.3 1751.6,390.5 1752.5,390.6 1753.5,390.8 1754.4,390.9 1755.4,391.1 1756.4,391.2 1757.3,391.4 1758.3,391.5 1759.2,391.6 1760.2,391.8 1761.2,391.9 1762.1,392.0 1763.1,392.1 1764.0,392.3 1765.0,392.4 1766.0,392.5 1766.9,392.6 1767.9,392.7 1768.8,392.8 1769.8,392.9 1770.8,392.9 1771.7,393.0 1772.7,393.1 1773.6,393.2 1774.6,393.2 1775.6,393.3 1776.5,393.4 1777.5,393.4 1778.4,393.5 1779.4,393.5 1780.4,393.6 1781.3,393.6 1782.3,393.7 1783.2,393.7 1784.2,393.8 1785.2,393.8 1786.1,393.8 1787.1,393.9 1788.0,393.9 1789.0,393.9 1790.0,393.9 1790.9,394.0 1791.9,394.0 1792.8,394.0 1793.8,394.0 1794.8,394.0 1795.7,394.0 1796.7,394.0 1797.6,394.1 1798.6,394.1 1799.6,394.1 1800.5,394.1 1801.5,394.1 1802.4,394.1 1803.4,394.1 1804.4,394.1 1805.3,394.1 1806.3,394.1 1807.2,394.1 1808.0,394.1 1808.0,395.3 1808.0,395.3 1808.0,395.3 1808.0,395.3 1808.0,395.3 1808.0,395.3 1808.0,395.3 1808.1,395.4 1808.1,395.4 1808.2,395.4 1808.2,395.5 1808.2,395.5 1808.3,395.5 1808.4,395.6 1808.5,395.7 1808.7,395.8 1808.9,395.9 1809.2,396.1 1809.2,396.1 1809.6,396.4 1810.0,396.6 1810.1,396.7 1810.6,397.0 1811.1,397.2 1811.5,397.4 1812.0,397.7 1812.5,397.9 1813.0,398.1 1813.9,398.4 1814.0,398.5 1814.9,398.8 1815.6,399.1 1815.9,399.2 1816.8,399.5 1817.8,399.8 1817.9,399.8 1818.8,400.1 1819.7,400.3 1820.7,400.6 1820.9,400.7 1821.6,400.8 1822.6,401.1 1823.6,401.3 1824.5,401.5 1824.8,401.6 1825.5,401.7 1826.4,401.9 1827.4,402.2 1828.4,402.4 1829.3,402.5 1829.8,402.6 1830.3,402.7 1831.2,402.9 1832.2,403.1 1833.2,403.3 1834.1,403.5 1835.1,403.6 1836.0,403.8 1836.4,403.9 1837.0,404.0 1838.0,404.2 1838.9,404.3 1839.9,404.5 1840.8,404.7 1841.8,404.8 1842.8,405.0 1843.7,405.2 1844.7,405.3 1844.9,405.4 1845.6,405.5 1846.6,405.6 1847.6,405.8 1848.5,406.0 1849.5,406.1 1850.4,406.3 1851.4,406.4 1852.4,406.6 1853.3,406.7 1853.3,406.7 1853.3,435.3 1853.3,435.3 1853.4,435.3 1853.4,435.3 1853.4,435.3 1853.4,435.3 1853.4,435.3 1853.4,435.4 1853.5,435.4 1853.5,435.4 1853.6,435.4 1853.6,435.5 1853.7,435.5 1853.9,435.6 1854.0,435.6 1854.3,435.7 1854.3,435.7 1854.5,435.8 1854.9,436.0 1855.2,436.2 1855.4,436.2 1856.0,436.5 1856.0,436.5 1856.2,436.6 1856.8,436.8 1857.2,436.9 1857.9,437.2 1858.1,437.3 1859.1,437.7 1859.2,437.7 1860.0,438.0 1861.0,438.4 1861.0,438.4 1862.0,438.7 1862.9,439.1 1863.3,439.2 1863.9,439.4 1864.8,439.7 1865.8,440.0 1866.3,440.2 1866.8,440.3 1867.7,440.6 1868.7,440.9 1869.6,441.2 1870.1,441.3 1870.6,441.5 1871.6,441.8 1872.5,442.0 1873.5,442.3 1874.4,442.6 1875.2,442.8 1875.4,442.8 1876.4,443.1 1877.3,443.3 1878.3,443.6 1879.2,443.8 1880.2,444.1 1881.2,444.3 1881.7,444.4 1882.1,444.5 1883.1,444.8 1884.0,445.0 1885.0,445.2 1886.0,445.5 1886.9,445.7 1887.9,445.9 1888.8,446.1 1889.8,446.3 1890.3,446.4 1890.8,446.5 1891.7,446.8 1892.7,447.0 1893.6,447.2 1894.6,447.4 1895.6,447.6 1896.5,447.8 1897.5,448.0 1898.4,448.2 1899.4,448.4 1900.4,448.6 1901.3,448.8 1901.3,448.8 1902.3,449.0 1903.2,449.2 1904.2,449.4 1905.2,449.6 1906.1,449.8 1907.1,450.0 1908.0,450.2 1909.0,450.4 1910.0,450.6 1910.9,450.8 1911.9,451.0 1912.8,451.2 1913.8,451.4 1914.8,451.6 1915.7,451.8 1916.7,452.0 1917.6,452.2 1918.6,452.4 1919.6,452.6 1920.5,452.8 1921.5,453.0 1922.4,453.2 1923.4,453.5 1924.4,453.7 1925.3,453.9 1926.3,454.1 1927.2,454.3 1928.2,454.6 1929.2,454.8 1930.1,455.0 1931.1,455.2 1932.0,455.5 1933.0,455.7 1934.0,455.9 1934.9,456.2 1935.9,456.4 1936.8,456.7 1937.8,456.9 1938.8,457.2 1939.7,457.4 1940.7,457.7 1941.6,457.9 1942.6,458.2 1943.6,458.4 1944.5,458.7 1945.5,458.9 1946.4,459.2 1947.4,459.5 1948.4,459.7 1949.3,460.0 1950.3,460.3 1951.2,460.5 1952.2,460.8 1953.2,461.1 1954.1,461.4 1955.1,461.6 1956.0,461.9 1957.0,462.2 1958.0,462.5 1958.9,462.7 1959.9,463.0 1960.8,463.3 1961.8,463.6 1962.8,463.9 1963.7,464.1 1964.7,464.4 1965.6,464.7 1966.6,465.0 1967.6,465.3 1968.5,465.5 1969.5,465.8 1970.4,466.1 1971.4,466.4 1972.4,466.6 1973.3,466.9 1974.3,467.2 1975.2,467.4 1976.2,467.7 1977.2,468.0 1978.1,468.2 1979.1,468.5 1980.0,468.7 1981.0,469.0 1982.0,469.2 1982.9,469.5 1983.9,469.7 1984.8,470.0 1985.8,470.2 1986.8,470.4 1987.7,470.7 1988.7,470.9 1989.6,471.1 1990.6,471.3 1991.6,471.6 1992.5,471.8 1993.5,472.0 1994.4,472.2 1995.4,472.4 1996.4,472.6 1997.3,472.8 1998.3,473.0 1999.2,473.2 2000.2,473.3 2001.2,473.5 2002.1,473.7 2003.1,473.8 2004.0,474.0 2005.0,474.2 2006.0,474.3 2006.9,474.5 2007.9,474.6 2008.8,474.8 2009.8,474.9 2010.8,475.0 2011.7,475.2 2012.7,475.3 2013.6,475.4 2014.6,475.5 2015.6,475.6 2016.5,475.8 2017.5,475.9 2018.4,476.0 2019.4,476.1 2020.4,476.2 2021.3,476.2 2022.3,476.3 2023.2,476.4 2024.2,476.5 2025.2,476.6 2026.1,476.7 2027.1,476.7 2028.0,476.8 2029.0,476.9 2030.0,476.9 2030.9,477.0 2031.9,477.1 2032.8,477.1 2033.8,477.2 2034.8,477.3 2035.7,477.3 2036.7,477.4 2037.6,477.4 2038.6,477.5 2039.6,477.5 2040.5,477.6 2041.5,477.6 2042.4,477.7 2043.4,477.7 2044.4,477.8 2045.3,477.8 2046.3,477.9 2047.2,477.9 2048.2,478.0 2049.2,478.0 2050.1,478.1 2051.1,478.1 2052.0,478.1 2053.0,478.2 2054.0,478.2 2054.9,478.3 2055.9,478.4 2056.8,478.4 2057.8,478.5 2058.8,478.5 2059.7,478.6 2060.7,478.6 2061.6,478.7 2062.6,478.7 2063.6,478.8 2064.5,478.9 2065.5,478.9 2066.4,479.0 2067.4,479.1 2068.4,479.1 2069.3,479.2 2070.3,479.3 2071.2,479.3 2072.2,479.4 2073.2,479.5 2074.1,479.6 2075.1,479.7 2076.0,479.7 2077.0,479.8 2078.0,479.9 2078.9,480.0 2079.9,480.1 2080.8,480.2 2081.8,480.3 2082.8,480.3 2083.7,480.4 2084.7,480.5 2085.6,480.6 2086.6,480.7 2087.6,480.8 2088.5,480.9 2089.5,481.0 2090.4,481.1 2091.4,481.2 2092.4,481.3 2093.3,481.4 2094.3,481.5 2095.2,481.6 2096.2,481.7 2097.2,481.8 2098.1,481.9 2099.1,482.1 2100.0,482.2 2101.0,482.3 2102.0,482.4 2102.9,482.5 2103.9,482.6 2104.8,482.7 2105.8,482.8 2106.8,482.9 2107.7,483.0 2108.7,483.1 2109.6,483.2 2110.6,483.3 2111.6,483.4 2112.5,483.6 2113.5,483.7 2114.4,483.8 2115.4,483.9 2116.4,484.0 2117.3,484.1 2118.3,484.2 2119.2,484.3 2120.2,484.4 2121.2,484.5 2122.1,484.6 2123.1,484.7 2124.0,484.8 2125.0,484.9 2126.0,485.0 2126.9,485.1 2127.9,485.3 2128.8,485.4 2129.8,485.5 2130.8,485.6 2131.7,485.7 2132.7,485.8 2133.6,485.9 2134.6,486.0 2135.6,486.1 2136.5,486.2 2137.5,486.3 2138.4,486.4 2139.4,486.5 2140.4,486.6 2141.3,486.7 2142.3,486.9 2143.2,487.0 2144.2,487.1 2145.2,487.2 2146.1,487.3 2147.1,487.4 2148.0,487.5 2149.0,487.7 2150.0,487.8 2150.9,487.9 2151.9,488.0 2152.8,488.2 2153.8,488.3 2154.8,488.4 2155.7,488.5 2156.7,488.7 2157.6,488.8 2158.6,489.0 2159.6,489.1 2160.5,489.2 2161.5,489.4 2162.4,489.5 2163.4,489.7 2164.4,489.8 2165.3,490.0 2166.3,490.1 2167.2,490.3 2168.2,490.5 2169.2,490.6 2170.1,490.8 2171.1,491.0 2172.0,491.2 2173.0,491.3 2174.0,491.5 2174.9,491.7 2175.9,491.9 2176.8,492.1 2177.8,492.3 2178.8,492.5 2179.7,492.6 2180.7,492.8 2181.6,493.0 2182.6,493.3 2183.6,493.5 2184.5,493.7 2185.5,493.9 2186.4,494.1 2187.4,494.3 2188.4,494.5 2189.3,494.7 2190.3,495.0 2191.2,495.2 2192.2,495.4 2193.2,495.6 2194.1,495.9 2195.1,496.1 2196.0,496.3 2197.0,496.6 2198.0,496.8 2198.9,497.0 2199.9,497.3 2200.8,497.5 2201.8,497.8 2202.8,498.0 2203.7,498.2 2204.7,498.5 2205.6,498.7 2206.6,498.9 2207.6,499.2 2208.5,499.4 2209.5,499.7 2210.4,499.9 2211.4,500.1 2212.4,500.4 2213.3,500.6 2214.3,500.8 2215.2,501.1 2216.2,501.3 2217.2,501.5 2218.1,501.7 2219.1,502.0 2220.0,502.2 2221.0,502.4 2222.0,502.6 2222.9,502.8 2223.9,503.0 2224.8,503.3 2225.8,503.5 2226.8,503.7 2227.7,503.9 2228.7,504.1 2229.6,504.2 2230.6,504.4 2231.6,504.6 2232.5,504.8 2233.5,505.0 2234.4,505.2 2235.4,505.3 2236.4,505.5 2237.3,505.7 2238.3,505.8"/>
<rect class="ax" x="170.2" y="116.8" width="2160.0" height="449.9"/>
<path class="tk" d="M410.2 566.7v-21.6M410.2 116.8v21.6M650.2 566.7v-21.6M650.2 116.8v21.6M890.2 566.7v-21.6M890.2 116.8v21.6M1130.2 566.7v-21.6M1130.2 116.8v21.6M1370.2 566.7v-21.6M1370.2 116.8v21.6M1610.2 566.7v-21.6M1610.2 116.8v21.6M1850.2 566.7v-21.6M1850.2 116.8v21.6M2090.2 566.7v-21.6M2090.2 116.8v21.6M170.2 229.3h21.6M2330.2 229.3h-21.6M170.2 341.8h21.6M2330.2 341.8h-21.6M170.2 454.2h21.6M2330.2 454.2h-21.6"/>
<text x="170.2" y="617.2" text-anchor="middle">2006</text><text x="410.2" y="617.2" text-anchor="middle">2007</text><text x="650.2" y="617.2" text-anchor="middle">2008</text><text x="890.2" y="617.2" text-anchor="middle">2009</text><text x="1130.2" y="617.2" text-anchor="middle">2010</text><text x="1370.2" y="617.2" text-anchor="middle">2011</text><text x="1610.2" y="617.2" text-anchor="middle">2012</text><text x="1850.2" y="617.2" text-anchor="middle">2013</text><text x="2090.2" y="617.2" text-anchor="middle">2014</text><text x="2330.2" y="617.2" text-anchor="middle">2015</text>
<text x="158" y="131.8" text-anchor="end">50</text><text x="158" y="244.3" text-anchor="end">0</text><text x="158" y="356.8" text-anchor="end">−50</text><text x="158" y="469.2" text-anchor="end">−100</text><text x="158" y="581.7" text-anchor="end">−150</text>
<text transform="translate(35.4,340.8) rotate(-90)" text-anchor="middle">N Disp. (mm)</text>
</g>
<g id="panelE">
<text x="1260.5" y="685.3" text-anchor="middle" style="font-size:41.7px">a: −4.9/0.1 b: −14.5/0.0 c: −3.3/0.0 d: 2.2/0.0 e: 0.4/0.0 f: 0.8/0.0 g1: 2.3/0.4 k1: −1.8/0.3 g2: 32.1/0.3 k2: 6.9/0.2</text>
<defs><polyline id="dE" points="250.1,642.5 250.8,668.4 251.4,654.8 252.1,651.1 252.7,668.4 253.4,663.3 254.1,644.2 254.7,651.3 255.4,655.8 256.0,648.5 256.7,666.0 257.3,651.2 258.0,654.4 258.7,655.9 259.3,651.0 260.0,658.3 260.6,659.9 261.3,664.6 261.9,664.1 262.6,661.7 263.3,650.4 263.9,674.9 264.6,666.9 265.2,665.9 265.9,659.7 266.5,665.1 267.2,654.8 267.9,675.6 268.5,669.7 269.2,658.1 269.8,681.9 270.5,663.0 271.1,654.4 271.8,658.6 272.5,658.6 273.1,669.3 273.8,670.4 274.4,658.9 275.1,663.6 275.7,657.6 276.4,666.0 277.1,668.2 277.7,670.6 278.4,660.3 279.0,664.6 279.7,674.5 280.3,667.7 281.0,676.1 281.7,664.6 282.3,672.1 283.0,659.4 283.6,659.8 284.3,663.0 284.9,678.4 285.6,673.3 286.3,668.3 286.9,665.4 287.6,666.1 288.2,663.9 288.9,675.3 289.5,683.3 290.2,684.8 290.9,669.1 291.5,671.5 292.2,686.7 292.8,680.7 293.5,670.7 294.1,684.4 294.8,675.6 295.5,677.3 296.1,683.9 296.8,681.5 297.4,678.2 298.1,690.3 298.7,698.0 299.4,687.6 300.1,695.9 300.7,696.0 301.4,682.2 302.0,691.6 302.7,689.5 303.3,684.4 304.0,691.9 304.7,681.4 305.3,673.8 306.0,697.1 306.6,687.7 307.3,709.8 307.9,698.9 308.6,680.0 309.3,689.8 309.9,692.0 310.6,686.2 311.2,694.2 311.9,678.4 312.5,690.3 313.2,697.0 313.9,690.3 314.5,708.8 315.2,689.9 315.8,689.5 316.5,708.3 317.1,715.3 317.8,702.7 318.5,695.2 319.1,687.3 319.8,704.3 320.4,700.6 321.1,693.9 321.7,686.7 322.4,702.8 323.1,697.9 323.7,701.1 324.4,686.9 325.0,684.0 325.7,681.5 326.3,711.6 327.0,685.7 327.7,699.7 328.3,691.2 329.0,684.2 329.6,687.5 330.3,700.3 330.9,692.8 331.6,691.6 332.3,682.9 332.9,690.2 333.6,695.9 334.2,689.6 334.9,693.6 335.5,700.8 336.2,686.9 336.9,694.7 337.5,696.9 338.2,707.7 338.8,701.2 339.5,697.7 340.1,715.4 340.8,706.7 341.5,701.0 342.1,694.5 342.8,705.4 343.4,683.7 344.1,698.2 344.7,704.5 345.4,695.5 346.1,690.0 346.7,696.1 347.4,703.9 348.0,699.1 348.7,697.9 349.3,702.8 350.0,708.5 350.7,699.4 351.3,664.1 352.0,694.8 352.6,688.5 353.3,706.9 353.9,693.6 354.6,689.1 355.3,694.0 355.9,690.0 356.6,700.1 357.2,690.3 357.9,693.2 358.5,697.7 359.2,690.9 359.9,688.1 360.5,688.1 361.2,673.1 361.8,692.7 362.5,691.8 363.1,701.9 363.8,687.9 364.5,695.8 365.1,687.2 365.8,680.9 366.4,697.4 367.1,694.4 367.7,677.6 368.4,698.8 369.1,683.4 369.7,686.7 370.4,692.6 371.0,688.4 371.7,691.8 372.3,685.9 373.0,679.2 373.7,671.8 374.3,687.9 375.0,692.3 375.6,694.9 376.3,687.6 376.9,694.1 377.6,676.4 378.3,689.5 378.9,688.8 379.6,708.2 380.2,682.3 380.9,660.2 381.5,664.7 382.2,678.7 382.9,688.0 383.5,682.7 384.2,674.0 384.8,691.1 385.5,687.8 386.1,705.3 386.8,696.4 387.5,702.5 388.1,693.6 388.8,705.6 389.4,704.1 390.1,694.9 390.7,694.2 391.4,688.9 392.1,681.0 392.7,678.6 393.4,684.6 394.0,683.4 394.7,700.6 395.3,678.2 396.0,694.3 396.6,691.1 397.3,689.1 398.0,697.0 398.6,690.7 399.3,678.2 399.9,676.3 400.6,674.7 401.2,682.6 401.9,691.8 402.6,684.8 403.2,696.3 403.9,703.0 404.2,727.0 404.5,696.1 405.2,687.9 405.4,721.6 405.8,684.1 406.5,691.1 407.2,671.4 407.8,686.2 408.5,678.3 409.1,687.1 409.8,680.1 410.4,682.2 411.1,672.3 411.8,696.6 412.4,684.6 413.1,688.6 413.7,680.1 414.4,683.7 415.0,679.6 415.7,683.5 416.4,687.8 417.0,680.5 417.7,678.4 418.3,682.7 419.0,694.7 419.6,694.4 420.3,680.5 421.0,689.4 421.6,680.0 422.3,684.0 422.9,678.6 423.6,697.6 424.2,689.9 424.9,686.8 425.6,690.3 426.2,701.8 426.9,698.7 427.5,691.7 428.2,700.9 428.8,689.9 429.5,691.9 430.2,687.9 430.8,688.9 431.5,695.8 432.1,685.7 432.8,684.0 433.4,690.4 434.1,678.8 434.8,681.8 435.4,688.4 436.1,673.1 436.7,678.1 437.4,683.2 438.0,693.0 438.7,687.3 439.4,693.6 440.0,684.5 440.7,687.9 441.3,696.2 442.0,694.9 442.6,690.5 443.3,690.4 444.0,681.7 444.6,680.3 445.3,681.2 445.9,684.4 446.6,683.5 447.2,686.5 447.9,689.2 448.6,682.3 449.2,692.8 449.9,685.8 450.5,696.0 451.2,695.4 451.8,685.0 452.5,668.2 453.2,687.4 453.8,695.4 454.5,678.2 455.1,686.3 455.8,691.0 456.4,699.4 457.1,687.9 457.8,695.8 458.4,698.3 459.1,693.4 459.7,678.2 460.4,679.6 461.0,691.1 461.7,696.3 462.4,671.0 463.0,684.1 463.7,669.9 464.3,685.8 465.0,689.6 465.6,694.7 466.3,696.2 467.0,695.9 467.6,694.9 468.3,683.6 468.9,696.6 469.6,693.5 470.2,683.5 470.9,699.3 471.6,691.4 472.2,691.6 472.9,702.5 473.5,691.6 474.2,693.3 474.8,685.3 475.5,693.2 476.2,704.1 476.8,703.7 477.5,699.5 478.1,695.5 478.8,695.9 479.4,695.7 480.1,690.3 480.8,701.1 481.4,696.2 482.1,679.3 482.7,691.4 483.4,690.9 484.0,685.9 484.7,701.3 485.4,689.2 486.0,691.4 486.7,699.0 487.3,690.2 488.0,681.6 488.6,688.6 489.3,695.8 490.0,686.0 490.6,696.2 491.3,689.1 491.9,691.8 492.6,700.3 493.2,708.0 493.9,707.6 494.6,698.7 495.2,715.5 495.9,686.8 496.5,721.6 497.2,702.5 497.8,699.0 498.5,716.9 499.2,728.6 499.8,716.8 500.5,714.9 501.1,705.4 501.8,710.8 502.4,711.0 503.1,713.6 503.8,700.8 504.4,714.9 505.1,712.7 505.7,710.4 506.4,687.9 507.0,734.2 507.7,722.4 508.4,713.9 509.0,716.0 509.7,707.3 510.3,702.0 511.0,704.5 511.6,718.3 512.3,723.4 513.0,718.2 513.6,718.1 514.3,700.0 514.9,705.9 515.6,715.4 516.2,708.1 516.9,715.8 517.6,711.0 518.2,713.5 518.9,725.9 519.5,717.9 520.2,724.2 520.8,713.9 521.5,725.9 522.2,722.0 522.8,716.4 523.5,711.2 524.1,718.6 524.8,718.6 525.4,733.1 526.1,727.5 526.8,720.4 527.4,722.6 528.1,723.8 528.7,713.9 529.4,717.1 530.0,727.2 530.7,731.5 531.4,737.6 532.0,725.5 532.7,721.1 533.3,715.9 534.0,728.2 534.6,730.8 535.3,738.6 536.0,715.1 536.6,720.5 537.3,735.0 537.9,729.0 538.6,735.5 539.2,731.2 539.9,716.3 540.6,736.4 541.2,732.1 541.9,731.9 542.5,741.5 543.2,739.3 543.8,743.5 544.5,724.0 545.2,737.5 545.8,736.4 546.5,728.7 547.1,742.3 547.8,738.0 548.4,744.4 549.1,734.1 549.8,738.0 550.4,748.6 551.1,727.1 551.7,725.5 552.4,734.8 553.0,730.0 553.7,739.3 554.3,746.5 555.0,737.9 555.7,726.3 556.3,731.9 557.0,745.5 557.6,738.8 558.3,740.4 558.9,724.4 559.6,734.3 560.3,740.1 560.9,736.0 561.6,745.3 562.2,736.0 562.9,740.0 563.5,745.1 564.2,734.5 564.9,747.9 565.5,736.3 566.2,727.5 566.8,744.8 567.5,725.5 568.1,722.9 568.8,727.9 569.5,736.7 570.1,738.7 570.8,739.0 571.4,736.1 572.1,744.8 572.7,738.0 573.4,730.4 574.1,752.3 574.7,729.2 575.4,749.1 576.0,745.5 576.7,742.0 577.3,735.7 578.0,734.9 578.7,723.2 579.3,731.4 580.0,728.4 580.6,764.4 580.6,742.1 581.3,738.1 581.9,752.4 582.6,744.7 583.3,718.7 583.9,733.6 584.6,728.8 585.2,728.9 585.9,729.6 586.5,745.5 587.2,734.9 587.9,716.5 588.5,725.8 589.2,739.2 589.8,736.9 590.5,739.3 591.1,735.6 591.8,739.8 592.5,740.1 593.1,741.7 593.8,749.7 594.4,731.6 595.1,732.8 595.7,731.3 596.4,727.2 597.1,735.1 597.7,726.7 598.4,737.1 599.0,729.0 599.7,731.7 600.3,740.2 601.0,728.8 601.7,734.1 602.3,737.6 603.0,737.1 603.6,735.7 604.3,740.8 604.9,741.7 605.6,734.0 606.3,722.0 606.9,726.4 607.6,722.6 608.2,736.4 608.9,714.6 609.5,725.2 610.2,731.2 610.9,728.3 611.5,725.5 612.2,727.1 612.8,724.5 613.5,735.4 614.1,723.2 614.8,733.8 615.5,740.1 616.1,725.0 616.8,732.5 617.4,717.6 618.1,732.7 618.7,718.2 619.4,724.0 620.1,733.2 620.7,721.7 621.4,725.4 622.0,725.3 622.7,732.9 623.3,747.2 624.0,735.6 624.7,729.6 625.3,724.8 626.0,723.6 626.6,723.5 627.3,725.0 627.9,726.2 628.6,729.7 629.3,723.7 629.9,725.1 630.6,727.9 631.2,728.7 631.9,719.9 632.5,732.2 633.2,731.5 633.9,733.3 634.5,726.1 635.2,735.0 635.8,722.1 636.5,741.1 637.1,731.9 637.8,737.8 638.5,744.0 639.1,734.2 639.8,726.9 640.4,725.9 641.1,735.0 641.7,742.0 642.4,739.4 643.1,733.9 643.7,715.5 644.4,737.3 645.0,728.8 645.7,714.3 646.3,737.4 647.0,719.1 647.7,722.8 648.3,728.9 649.0,730.5 649.6,747.3 650.3,731.7 650.9,731.4 651.6,720.6 652.3,720.9 652.9,738.7 653.6,752.3 654.2,743.3 654.9,720.5 655.5,734.3 656.2,738.8 656.9,731.8 657.5,738.1 658.2,734.5 658.8,741.2 659.5,738.1 660.1,730.6 660.8,732.9 661.5,728.4 662.1,733.9 662.8,725.9 663.4,732.8 664.1,734.8 664.7,727.3 665.4,732.9 666.1,738.4 666.7,737.5 667.4,732.2 668.0,722.6 668.7,732.2 669.3,730.2 670.0,716.6 670.7,715.8 671.3,736.1 672.0,735.5 672.6,727.7 673.3,725.8 673.9,733.7 674.6,738.4 675.3,712.0 675.9,726.7 676.6,718.3 677.2,720.0 677.9,724.1 678.5,740.3 679.2,726.8 679.9,726.9 680.5,726.7 681.2,737.5 681.8,741.4 682.5,731.9 683.1,726.4 683.8,724.6 684.5,727.3 685.1,741.9 685.8,731.7 686.4,733.8 687.1,736.6 687.7,741.4 688.4,727.5 689.1,738.9 689.7,733.5 690.4,731.0 691.0,737.2 691.7,732.6 692.3,737.3 693.0,725.6 693.7,742.2 694.3,749.7 695.0,729.8 695.6,736.4 696.3,722.6 696.9,726.2 697.6,730.5 698.3,726.5 698.9,724.8 699.6,723.5 700.2,744.5 700.9,725.9 701.5,733.5 702.2,742.1 702.9,738.5 703.5,735.8 704.2,727.1 704.8,734.7 705.5,733.2 706.1,715.4 706.8,720.3 707.5,732.5 708.1,732.4 708.8,726.6 709.4,723.2 710.1,727.1 710.7,728.9 711.4,721.4 712.1,740.7 712.7,729.9 713.4,732.8 714.0,737.1 714.7,726.6 715.3,726.3 716.0,733.3 716.6,736.7 717.3,722.4 718.0,733.5 718.6,746.5 719.3,738.6 719.9,734.6 720.6,743.0 721.2,754.6 721.9,744.0 722.6,748.6 723.2,727.8 723.9,744.3 724.5,728.2 725.2,746.4 725.8,743.5 726.5,743.0 727.0,707.2 727.2,734.1 727.8,750.4 728.5,742.8 729.1,738.8 729.8,745.8 730.4,740.5 731.1,739.1 731.8,733.3 732.4,741.9 733.1,726.5 733.7,738.3 734.4,741.7 735.0,733.9 735.7,742.2 736.4,738.5 737.0,747.4 737.7,751.2 738.3,740.1 739.0,738.5 739.6,743.9 740.3,738.3 741.0,749.9 741.6,729.3 742.3,744.8 742.9,739.0 743.6,741.4 744.2,741.9 744.9,743.0 745.6,730.3 746.2,742.6 746.9,748.0 747.5,734.9 748.2,735.1 748.8,750.3 749.5,743.9 750.2,744.2 750.8,754.4 751.5,762.9 752.1,755.3 752.8,757.0 753.4,759.6 754.1,748.4 754.8,744.3 755.4,763.5 756.1,749.6 756.7,756.0 757.4,746.5 758.0,753.4 758.7,762.1 759.4,743.9 760.0,754.2 760.7,745.5 761.3,752.1 762.0,762.9 762.6,769.2 763.3,770.3 764.0,758.9 764.6,757.2 765.3,747.8 765.9,764.2 766.6,756.1 767.2,751.5 767.9,745.5 768.6,746.7 769.2,749.8 769.9,749.1 770.5,764.1 771.2,754.1 771.8,771.9 772.5,745.3 773.2,751.3 773.8,760.2 774.5,764.2 775.1,763.7 775.8,756.8 776.4,765.2 777.1,766.1 777.8,771.8 778.4,759.2 779.1,758.2 779.7,771.9 780.4,758.0 781.0,763.5 781.7,759.0 782.4,760.2 783.0,772.4 783.7,765.8 784.3,761.9 785.0,779.9 785.6,771.6 786.3,781.3 787.0,765.6 787.6,784.8 788.3,769.6 788.9,778.3 789.6,769.0 790.2,758.8 790.9,772.1 791.6,781.2 792.2,780.7 792.9,767.3 793.5,779.6 794.2,779.8 794.8,764.7 795.5,758.5 796.2,765.0 796.8,752.5 797.5,760.7 798.1,765.0 798.8,767.9 799.4,767.8 800.1,767.9 800.8,767.3 801.4,775.6 802.1,790.6 802.7,790.8 803.4,787.1 804.0,779.3 804.7,791.9 805.4,783.4 806.0,782.1 806.7,776.3 807.3,787.4 808.0,790.8 808.6,792.4 809.3,792.0 810.0,786.1 810.6,772.3 811.3,802.6 811.9,779.1 812.6,776.1 813.2,767.1 813.9,767.9 814.6,776.9 815.2,788.4 815.9,780.7 816.5,780.7 817.2,784.2 817.8,773.5 818.5,779.6 819.2,787.2 819.8,780.8 820.5,773.4 821.1,784.2 821.8,788.1 822.4,786.8 823.1,781.3 823.8,778.4 824.4,788.3 825.1,787.9 825.7,776.7 826.4,766.7 827.0,759.4 827.7,765.2 828.4,785.2 829.0,778.2 829.7,782.6 830.3,783.4 831.0,786.1 831.6,781.4 832.3,779.8 833.0,774.5 833.6,771.8 834.3,781.3 834.9,779.9 835.6,770.7 836.2,773.3 836.9,779.6 837.6,776.3 838.2,793.9 838.9,776.2 839.5,787.5 840.2,778.4 840.8,801.8 841.5,781.1 842.2,789.8 842.8,786.8 843.5,779.6 844.1,784.7 844.8,766.5 845.4,766.6 846.1,775.2 846.8,764.4 847.4,779.5 848.1,777.8 848.7,764.9 849.4,761.4 850.0,777.4 850.7,773.2 851.4,777.3 852.0,768.4 852.7,774.5 853.3,762.6 854.0,784.5 854.6,768.5 855.3,763.8 856.0,771.0 856.6,782.8 857.3,768.3 857.9,777.1 858.6,775.4 859.2,768.7 859.9,755.2 860.6,772.2 861.2,777.0 861.9,753.2 862.5,770.3 863.2,770.7 863.8,765.9 864.5,765.5 865.2,757.4 865.8,782.7 866.5,773.1 867.1,760.0 867.8,765.0 868.4,765.5 869.1,781.0 869.8,764.6 870.4,776.1 871.1,761.5 871.7,786.5 872.4,764.6 873.0,761.7 873.7,752.6 874.3,764.8 875.0,769.7 875.7,762.7 876.3,766.4 877.0,764.9 877.6,782.0 878.3,767.2 878.9,762.0 879.6,762.5 880.3,765.7 880.9,755.4 881.6,754.7 882.2,759.3 882.9,762.6 883.5,755.2 884.2,767.2 884.9,770.7 885.5,776.5 886.2,773.3 886.8,762.6 887.5,763.2 888.1,765.6 888.8,770.7 889.5,775.3 890.1,769.7 890.8,770.4 891.4,773.9 892.1,762.2 892.7,780.1 893.4,778.4 894.1,773.3 894.7,772.8 895.4,772.9 896.0,769.1 896.7,770.9 897.3,778.5 898.0,777.3 898.7,772.0 899.3,769.4 900.0,768.7 900.6,765.0 901.3,766.8 901.9,767.2 902.6,771.3 903.3,779.7 903.9,768.5 904.6,775.3 905.2,774.6 905.9,768.0 906.5,762.7 907.2,761.4 907.9,774.5 908.5,764.8 909.2,767.0 909.8,782.8 910.5,767.9 911.1,767.3 911.8,747.0 912.5,764.6 913.1,758.3 913.8,757.4 914.4,767.5 915.1,763.4 915.7,761.0 916.4,765.6 917.1,781.3 917.7,765.6 918.4,773.4 919.0,769.4 919.7,754.4 920.3,752.7 921.0,753.2 921.7,784.5 922.3,756.4 923.0,779.8 923.6,761.6 924.3,773.0 924.9,762.6 925.6,759.8 926.3,758.3 926.9,768.3 927.6,782.8 928.2,765.8 928.9,767.1 929.5,761.9 930.2,756.9 930.9,769.1 931.5,758.4 932.2,771.6 932.8,771.3 933.5,762.9 934.1,759.6 934.8,758.8 935.5,770.9 936.1,763.5 936.8,778.1 937.4,754.9 938.1,763.9 938.7,767.4 939.4,773.1 940.1,770.5 940.7,765.3 941.4,774.0 942.0,769.3 942.7,782.7 943.3,779.7 944.0,767.4 944.7,778.2 945.3,773.3 946.0,778.1 946.6,768.1 947.3,777.7 947.9,771.9 948.6,768.0 949.3,773.7 949.9,767.6 950.6,765.3 951.2,766.3 951.9,768.4 952.5,767.2 953.2,772.6 953.9,772.1 954.5,773.3 955.2,758.8 955.8,760.4 956.5,773.2 957.1,765.2 957.8,763.4 958.5,772.8 959.1,762.3 959.8,782.2 960.4,771.6 961.1,787.3 961.7,761.5 962.4,778.1 963.1,769.6 963.7,772.5 964.4,777.2 965.0,780.1 965.7,780.3 966.3,770.5 967.0,767.8 967.7,788.9 968.3,773.0 969.0,792.2 969.6,803.5 970.3,792.7 970.9,794.6 971.6,788.6 972.3,787.7 972.9,797.2 973.6,795.9 974.2,788.6 974.9,800.0 975.5,780.1 976.2,775.0 976.9,780.3 977.5,788.3 978.2,783.9 978.8,793.3 979.5,784.1 980.1,775.1 980.8,789.4 981.5,796.9 982.1,786.6 982.8,797.9 983.4,776.3 984.1,784.7 984.7,788.2 985.4,787.9 986.1,802.5 986.7,790.3 987.4,794.0 988.0,794.7 988.7,796.2 989.3,793.0 990.0,781.5 990.7,799.0 991.3,789.9 992.0,786.2 992.6,802.1 993.3,797.9 993.9,791.3 994.6,782.4 995.3,785.7 995.9,793.2 996.6,790.4 997.2,805.5 997.9,790.5 998.5,795.9 999.2,796.8 999.9,794.3 1000.5,796.2 1001.2,805.0 1001.8,783.0 1002.5,805.4 1003.1,797.4 1003.8,798.0 1004.5,806.6 1005.1,797.4 1005.8,800.0 1006.4,803.1 1007.1,803.9 1007.7,797.2 1008.4,792.3 1009.1,795.1 1009.7,799.4 1010.4,796.7 1011.0,815.2 1011.7,797.5 1012.3,793.0 1013.0,797.5 1013.7,797.4 1014.3,807.3 1015.0,809.2 1015.6,810.5 1016.3,795.6 1016.9,811.5 1017.6,808.3 1018.3,806.1 1018.9,804.1 1019.6,824.7 1020.2,812.1 1020.9,823.3 1021.5,814.3 1022.2,809.7 1022.9,825.4 1023.5,813.2 1024.2,813.7 1024.8,809.1 1025.5,814.3 1026.1,809.9 1026.8,815.9 1027.5,806.4 1028.1,807.0 1028.8,814.2 1029.4,838.5 1030.1,813.6 1030.7,825.7 1031.4,814.7 1032.1,813.0 1032.7,810.8 1033.4,820.0 1034.0,816.1 1034.7,819.2 1035.3,829.1 1036.0,813.3 1036.6,823.1 1037.3,818.7 1038.0,810.8 1038.6,809.1 1039.3,817.9 1039.9,818.6 1040.6,819.1 1041.2,824.1 1041.9,814.5 1042.6,818.2 1043.2,827.0 1043.9,817.2 1044.5,830.3 1045.2,821.3 1045.8,828.2 1046.5,829.2 1047.2,832.8 1047.8,831.1 1048.5,829.2 1049.1,824.9 1049.8,823.9 1050.4,805.9 1051.1,839.6 1051.8,830.3 1052.4,823.0 1053.1,815.5 1053.7,822.9 1054.4,814.7 1055.0,828.5 1055.7,821.5 1056.4,830.8 1057.0,835.6 1057.7,823.4 1058.3,827.0 1059.0,823.2 1059.6,827.6 1060.3,833.8 1061.0,826.0 1061.6,826.9 1062.3,828.6 1062.9,825.3 1063.6,823.0 1064.2,836.2 1064.9,832.4 1065.6,833.2 1066.2,826.9 1066.9,830.0 1067.5,848.7 1068.2,814.5 1068.8,828.7 1069.5,837.3 1070.2,811.8 1070.8,823.6 1071.5,828.4 1072.1,821.7 1072.8,826.5 1073.4,811.4 1074.1,820.6 1074.8,819.5 1075.4,823.6 1076.1,817.5 1076.7,823.9 1077.4,823.0 1078.0,822.9 1078.7,829.0 1079.4,817.1 1080.0,811.3 1080.7,828.1 1081.3,826.4 1082.0,816.0 1082.6,828.3 1083.3,828.6 1084.0,822.5 1084.6,823.7 1085.3,826.2 1085.9,842.2 1086.6,821.1 1087.2,826.9 1087.9,826.2 1088.6,814.8 1089.2,815.9 1089.9,833.8 1090.5,809.3 1091.2,822.8 1091.8,819.4 1092.5,826.6 1093.2,812.1 1093.8,827.1 1094.5,827.6 1095.1,818.5 1095.8,822.3 1096.4,835.3 1097.1,810.2 1097.8,824.3 1098.4,833.2 1099.1,826.9 1099.7,828.4 1100.4,829.5 1101.0,825.3 1101.7,818.8 1102.4,807.8 1103.0,811.8 1103.7,817.4 1104.3,801.1 1105.0,815.9 1105.6,801.5 1106.3,815.3 1107.0,827.2 1107.6,806.0 1108.3,814.5 1108.9,814.6 1109.6,813.5 1110.2,811.8 1110.9,810.3 1111.6,816.7 1112.2,826.0 1112.9,812.0 1113.5,813.5 1114.2,816.4 1114.8,812.6 1115.5,811.7 1116.2,830.4 1116.8,829.6 1117.5,822.7 1118.1,813.2 1118.8,827.1 1119.4,808.0 1120.1,822.0 1120.8,832.6 1121.4,820.5 1122.1,820.8 1122.7,818.4 1123.4,820.7 1124.0,819.1 1124.7,817.7 1125.4,816.0 1126.0,820.5 1126.7,825.0 1127.3,818.6 1128.0,815.1 1128.6,810.6 1129.3,811.5 1130.0,811.4 1130.6,812.9 1131.3,822.0 1131.9,819.2 1132.6,811.6 1133.2,813.1 1133.9,807.1 1134.6,804.4 1135.2,806.0 1135.9,825.2 1136.5,822.9 1137.2,818.9 1137.8,810.7 1138.5,816.5 1139.2,820.6 1139.8,790.3 1140.5,813.7 1141.1,814.1 1141.8,800.7 1142.4,796.2 1143.1,826.2 1143.8,828.9 1144.4,813.1 1145.1,812.4 1145.7,820.0 1146.4,808.5 1147.0,810.3 1147.7,822.9 1148.4,810.2 1149.0,819.0 1149.7,812.9 1150.3,806.3 1151.0,821.3 1151.6,808.4 1152.3,809.4 1153.0,802.3 1153.6,823.9 1154.3,813.5 1154.9,824.6 1155.6,814.7 1156.2,799.6 1156.9,795.8 1157.6,805.6 1158.2,815.7 1158.9,823.1 1159.5,810.9 1160.2,819.7 1160.8,812.8 1161.5,816.9 1162.2,817.2 1162.8,807.3 1163.5,825.6 1164.1,807.8 1164.8,811.3 1165.4,807.0 1166.1,825.4 1166.8,823.4 1167.4,820.5 1168.1,827.8 1168.7,822.7 1169.4,806.4 1170.0,824.1 1170.7,827.4 1171.4,820.1 1172.0,816.7 1172.7,824.5 1173.3,820.0 1174.0,811.8 1174.6,810.7 1175.3,820.0 1176.0,808.2 1176.6,804.6 1177.3,814.7 1177.9,830.4 1178.6,812.4 1179.2,822.2 1179.9,813.5 1180.6,823.6 1181.2,822.8 1181.9,818.8 1182.5,819.7 1183.2,804.5 1183.8,819.0 1184.5,817.5 1185.2,814.8 1185.8,825.4 1186.5,820.9 1187.1,825.1 1187.8,812.7 1188.4,828.9 1189.1,817.1 1189.8,815.8 1190.4,808.6 1191.1,812.9 1191.7,815.2 1192.4,824.9 1193.0,820.5 1193.7,810.0 1194.3,817.4 1195.0,834.9 1195.7,826.0 1196.3,831.9 1197.0,833.9 1197.6,833.3 1198.3,842.9 1198.9,842.2 1199.6,834.4 1200.3,817.4 1200.9,845.6 1201.6,833.5 1202.2,821.0 1202.9,835.9 1203.5,837.5 1204.2,837.4 1204.9,816.8 1205.5,829.0 1206.2,830.2 1206.8,853.1 1207.5,833.9 1208.1,818.6 1208.8,833.3 1209.5,846.7 1210.1,827.2 1210.8,821.9 1211.4,826.1 1212.1,826.2 1212.7,827.7 1213.4,826.9 1214.1,815.6 1214.7,820.6 1215.4,827.7 1216.0,830.4 1216.7,835.5 1217.3,839.6 1218.0,839.8 1218.7,834.9 1219.3,828.1 1220.0,832.4 1220.6,826.0 1221.3,829.9 1221.9,844.2 1222.6,843.6 1223.3,836.8 1223.9,813.8 1224.6,835.0 1225.2,830.5 1225.9,830.1 1226.5,834.5 1227.2,824.3 1227.9,843.3 1228.5,836.5 1229.2,840.6 1229.8,826.6 1230.5,816.9 1231.1,840.1 1231.8,850.9 1232.5,852.0 1233.1,848.8 1233.8,850.0 1234.4,848.7 1235.1,858.1 1235.7,854.5 1236.4,838.5 1237.1,835.8 1237.7,842.5 1238.4,856.1 1239.0,840.1 1239.7,824.3 1240.3,851.4 1241.0,840.2 1241.7,848.8 1242.3,844.3 1243.0,848.0 1243.6,843.1 1244.3,853.5 1244.9,844.2 1245.6,851.3 1246.3,843.7 1246.9,846.5 1247.6,850.1 1248.2,844.2 1248.9,843.2 1249.5,840.1 1250.2,840.7 1250.9,840.4 1251.5,857.6 1252.2,844.7 1252.8,848.8 1253.5,850.3 1254.1,840.7 1254.8,843.1 1255.5,845.8 1256.1,840.6 1256.8,842.1 1257.4,850.7 1258.1,846.8 1258.7,839.2 1259.4,862.1 1260.1,861.1 1260.7,863.6 1261.4,856.3 1262.0,855.6 1262.7,841.1 1263.3,857.1 1264.0,845.5 1264.7,849.0 1265.3,864.0 1266.0,860.5 1266.6,866.6 1267.3,852.4 1267.9,854.6 1268.6,856.5 1269.3,849.3 1269.9,852.8 1270.6,861.7 1271.2,852.7 1271.9,854.7 1272.5,858.4 1273.2,855.7 1273.9,869.9 1274.5,859.3 1275.2,866.7 1275.8,855.0 1276.5,860.5 1277.1,862.2 1277.8,867.7 1278.5,864.7 1279.1,868.0 1279.8,857.0 1280.4,871.9 1281.1,854.2 1281.7,858.5 1282.4,867.0 1283.1,871.9 1283.7,849.1 1284.4,863.7 1285.0,864.7 1285.7,866.5 1286.3,869.7 1287.0,848.2 1287.7,859.4 1288.3,861.3 1289.0,862.9 1289.6,863.1 1290.3,851.1 1290.9,875.1 1291.6,868.0 1292.3,866.9 1292.9,871.6 1293.6,854.6 1294.2,868.4 1294.9,854.2 1295.5,853.0 1296.2,867.9 1296.9,854.4 1297.5,860.0 1298.2,862.1 1298.8,851.6 1299.5,856.3 1300.1,857.5 1300.8,867.8 1301.5,851.4 1302.1,860.2 1302.8,850.6 1303.4,861.2 1304.1,853.2 1304.7,859.8 1305.4,856.1 1306.1,877.1 1306.7,864.8 1307.4,867.9 1308.0,870.1 1308.7,873.1 1309.3,880.7 1310.0,862.0 1310.7,865.8 1311.3,866.0 1312.0,859.9 1312.6,868.4 1313.3,855.9 1313.9,857.7 1314.6,861.3 1315.3,859.9 1315.9,851.5 1316.6,862.3 1317.2,864.5 1317.9,873.5 1318.5,862.4 1319.2,874.8 1319.9,870.5 1320.5,865.2 1321.2,870.6 1321.8,881.8 1322.5,878.4 1323.1,868.4 1323.8,861.4 1324.5,870.1 1325.1,856.3 1325.8,864.1 1326.4,872.6 1327.1,852.0 1327.7,859.8 1328.4,861.1 1329.1,864.2 1329.7,862.3 1330.4,865.4 1331.0,861.4 1331.7,858.7 1332.3,862.5 1333.0,866.9 1333.7,854.4 1334.3,859.2 1335.0,858.2 1335.6,876.1 1336.3,853.3 1336.9,868.7 1337.6,853.3 1338.3,866.5 1338.9,863.0 1339.6,847.4 1340.2,851.7 1340.9,856.5 1341.5,851.0 1342.2,872.6 1342.9,862.7 1343.5,861.9 1344.2,875.4 1344.8,866.5 1345.5,861.3 1346.1,852.3 1346.8,857.6 1347.5,850.4 1348.1,842.1 1348.8,860.8 1349.4,857.4 1350.1,859.9 1350.7,854.5 1351.4,876.3 1352.1,858.1 1352.7,863.7 1353.4,870.2 1354.0,866.2 1354.7,858.5 1355.3,851.9 1356.0,862.0 1356.6,868.3 1357.3,861.1 1358.0,852.2 1358.6,867.4 1359.3,856.5 1359.9,851.1 1360.6,859.7 1361.2,835.8 1361.9,868.2 1362.6,850.8 1363.2,852.7 1363.9,858.6 1364.5,856.0 1365.2,864.7 1365.8,865.0 1366.5,851.0 1367.2,859.0 1367.8,864.4 1368.5,861.2 1369.1,867.8 1369.8,858.9 1370.4,870.3 1371.1,881.6 1371.8,866.7 1372.4,871.6 1373.1,870.0 1373.7,874.9 1374.4,868.9 1375.0,865.6 1375.7,870.2 1376.4,869.5 1377.0,876.4 1377.7,875.4 1378.3,863.8 1379.0,875.8 1379.6,861.5 1380.3,875.6 1381.0,871.3 1381.6,841.7 1382.3,872.5 1382.9,861.1 1383.6,873.4 1384.2,864.4 1384.9,861.6 1385.6,857.4 1386.2,865.3 1386.9,868.8 1387.5,847.7 1388.2,857.1 1388.8,857.8 1389.5,868.2 1390.2,870.2 1390.8,858.9 1391.5,849.9 1392.1,865.1 1392.8,865.8 1393.4,852.0 1394.1,837.4 1394.8,858.0 1395.4,867.7 1396.1,862.1 1396.7,870.7 1397.4,863.9 1398.0,863.8 1398.7,857.8 1399.4,864.0 1400.0,862.7 1400.7,866.7 1401.3,855.6 1402.0,867.8 1402.6,869.2 1403.3,859.8 1404.0,864.0 1404.6,867.1 1405.3,864.3 1405.9,863.6 1406.6,852.9 1407.2,856.9 1407.9,859.0 1408.6,871.5 1409.2,855.3 1409.9,853.8 1410.5,850.2 1411.2,870.8 1411.8,854.6 1412.5,865.3 1413.2,856.6 1413.8,859.2 1414.5,855.1 1415.1,873.8 1415.8,865.3 1416.4,856.3 1417.1,847.4 1417.8,862.7 1418.4,856.7 1419.1,851.2 1419.7,865.5 1420.4,863.0 1421.0,858.8 1421.7,852.8 1422.4,867.8 1423.0,862.5 1423.7,866.3 1424.3,865.9 1425.0,854.3 1425.6,858.6 1426.3,857.8 1427.0,864.0 1427.6,838.0 1428.3,855.1 1428.9,853.1 1429.6,867.5 1430.2,866.9 1430.9,869.2 1431.6,866.8 1432.2,858.7 1432.9,873.0 1433.5,860.5 1434.2,854.1 1434.8,875.6 1435.5,865.1 1436.2,867.4 1436.8,871.8 1437.5,853.6 1438.1,857.4 1438.8,872.2 1439.4,869.4 1440.1,862.5 1440.8,857.6 1441.4,854.6 1442.1,863.1 1442.7,874.9 1443.4,879.6 1444.0,871.6 1444.7,867.1 1445.4,867.5 1446.0,863.5 1446.7,874.5 1447.3,871.8 1448.0,866.2 1448.6,879.4 1449.3,872.9 1450.0,895.9 1450.6,870.9 1451.3,875.8 1451.9,872.9 1452.6,869.5 1453.2,871.9 1453.9,885.0 1454.6,878.1 1455.2,863.0 1455.9,878.2 1456.5,875.2 1457.2,879.9 1457.8,876.7 1458.5,882.7 1459.2,887.5 1459.8,880.7 1460.5,885.8 1461.1,889.2 1461.8,872.3 1462.4,882.9 1463.1,879.4 1463.8,872.2 1464.4,869.9 1465.1,886.2 1465.7,878.3 1466.4,880.9 1467.0,885.4 1467.7,879.1 1468.4,885.6 1469.0,889.0 1469.7,882.1 1470.3,879.6 1471.0,877.5 1471.6,883.0 1472.3,875.0 1473.0,882.1 1473.6,882.3 1474.3,876.2 1474.9,890.4 1475.6,877.5 1476.2,881.1 1476.9,889.7 1477.6,890.1 1478.2,884.1 1478.9,884.7 1479.5,891.9 1480.2,894.3 1480.8,902.1 1481.5,891.7 1482.2,887.5 1482.8,888.3 1483.5,894.7 1484.1,893.8 1484.8,887.9 1485.4,894.1 1486.1,895.6 1486.8,897.2 1487.4,894.7 1488.1,896.0 1488.7,899.2 1489.4,890.6 1490.0,896.7 1490.7,893.6 1491.4,905.6 1492.0,892.4 1492.7,903.1 1493.3,906.8 1494.0,907.1 1494.6,886.1 1495.3,896.9 1496.0,890.2 1496.6,898.1 1497.3,896.4 1497.9,894.5 1498.6,893.0 1499.2,899.3 1499.9,897.8 1500.6,907.6 1501.2,887.7 1501.9,906.6 1502.5,872.4 1503.2,892.4 1503.8,886.6 1504.5,898.7 1505.2,894.5 1505.8,901.7 1506.5,909.8 1507.1,909.9 1507.8,896.0 1508.4,896.1 1509.1,907.5 1509.8,903.6 1510.4,902.4 1511.1,904.8 1511.7,905.4 1512.4,910.9 1513.0,912.5 1513.7,905.4 1514.3,902.9 1515.0,904.4 1515.7,901.4 1516.3,903.1 1517.0,905.0 1517.6,897.4 1518.3,919.4 1518.9,901.4 1519.6,921.2 1520.3,902.0 1520.9,901.3 1521.6,907.3 1522.2,905.9 1522.9,899.6 1523.5,907.9 1524.2,905.1 1524.9,899.3 1525.5,923.4 1526.2,904.7 1526.8,907.0 1527.5,906.2 1528.1,906.7 1528.8,920.2 1529.5,902.0 1530.1,913.2 1530.8,926.9 1531.4,904.9 1532.1,904.4 1532.7,902.2 1533.4,898.2 1534.1,891.1 1534.7,894.9 1535.4,914.7 1536.0,905.5 1536.7,904.2 1537.3,912.0 1538.0,907.7 1538.7,906.7 1539.3,899.0 1540.0,912.5 1540.6,921.4 1541.3,909.1 1541.9,906.6 1542.6,913.5 1543.3,905.1 1543.9,920.6 1544.6,911.1 1545.2,918.9 1545.9,920.8 1546.5,919.2 1547.2,923.8 1547.9,897.0 1548.5,918.0 1549.2,912.5 1549.8,914.3 1550.5,914.3 1551.1,902.1 1551.8,903.5 1552.5,907.9 1553.1,906.2 1553.8,912.2 1554.4,900.6 1555.1,904.1 1555.7,911.2 1556.4,902.2 1557.1,913.0 1557.7,912.7 1558.4,912.0 1559.0,901.0 1559.7,910.0 1560.3,897.6 1561.0,912.4 1561.7,904.6 1562.3,903.0 1563.0,895.6 1563.6,910.3 1564.3,900.4 1564.9,897.6 1565.6,905.9 1566.3,919.1 1566.9,898.9 1567.6,908.1 1568.2,910.8 1568.9,904.2 1569.5,920.0 1570.2,900.9 1570.9,916.3 1571.5,902.4 1572.2,900.7 1572.8,908.1 1573.5,896.9 1574.1,898.7 1574.8,902.5 1575.5,901.5 1576.1,900.3 1576.8,906.4 1577.4,906.3 1578.1,901.1 1578.7,911.9 1579.4,905.6 1580.1,893.2 1580.7,894.0 1581.4,900.6 1582.0,892.7 1582.7,898.2 1583.3,904.9 1584.0,895.8 1584.7,898.5 1585.3,897.3 1586.0,895.5 1586.6,883.9 1587.3,893.4 1587.9,889.5 1588.6,896.1 1589.3,890.8 1589.9,901.6 1590.6,898.8 1591.2,898.5 1591.9,893.7 1592.5,883.3 1593.2,901.4 1593.9,891.5 1594.5,895.9 1595.2,893.0 1595.8,877.5 1596.5,892.8 1597.1,905.8 1597.8,886.7 1598.5,893.0 1599.1,905.1 1599.8,891.8 1600.4,899.2 1601.1,895.8 1601.7,885.0 1602.4,903.7 1603.1,899.3 1603.7,889.8 1604.4,902.2 1605.0,907.0 1605.7,898.5 1606.3,897.4 1607.0,898.7 1607.7,887.5 1608.3,915.5 1609.0,917.3 1609.6,910.4 1610.3,916.4 1610.9,914.5 1611.6,914.7 1612.3,905.6 1612.9,901.4 1613.6,912.9 1614.2,891.2 1614.9,891.4 1615.5,907.5 1616.2,908.4 1616.9,905.8 1617.5,901.6 1618.2,901.9 1618.8,905.5 1619.5,905.4 1620.1,903.5 1620.8,897.6 1621.5,906.7 1622.1,904.9 1622.8,912.0 1623.4,905.7 1624.1,908.3 1624.7,902.7 1625.4,916.4 1626.1,915.8 1626.7,893.7 1627.4,902.4 1628.0,911.6 1628.7,903.1 1629.3,890.2 1630.0,895.4 1630.7,914.3 1631.3,910.7 1632.0,918.0 1632.6,912.6 1633.3,900.5 1633.9,897.2 1634.6,907.0 1635.3,919.0 1635.9,926.2 1636.6,903.9 1637.2,908.5 1637.9,911.7 1638.5,911.9 1639.2,896.0 1639.9,910.3 1640.5,907.3 1641.2,902.0 1641.8,896.7 1642.5,927.8 1643.1,905.5 1643.8,901.6 1644.5,905.6 1645.1,916.1 1645.8,911.6 1646.4,913.3 1647.1,913.9 1647.7,915.1 1648.4,906.7 1649.1,907.3 1649.7,903.7 1650.4,895.1 1651.0,919.4 1651.7,900.0 1652.3,903.1 1653.0,901.2 1653.7,896.7 1654.3,909.3 1655.0,921.6 1655.6,903.8 1656.3,904.0 1656.9,902.2 1657.6,903.6 1658.3,908.2 1658.9,900.1 1659.6,906.8 1660.2,902.2 1660.9,912.0 1661.5,910.7 1662.2,912.4 1662.9,917.0 1663.5,910.6 1664.2,903.6 1664.8,902.5 1665.5,922.4 1666.1,906.6 1666.8,900.5 1667.5,911.2 1668.1,907.0 1668.8,905.4 1669.4,913.7 1670.1,903.8 1670.7,912.9 1671.4,928.3 1672.1,915.6 1672.7,912.1 1673.4,900.0 1674.0,913.9 1674.7,914.0 1675.3,908.3 1676.0,911.1 1676.6,916.9 1677.3,905.5 1678.0,909.2 1678.6,918.4 1679.3,910.6 1679.9,906.9 1680.6,923.6 1681.2,924.6 1681.9,917.9 1682.6,916.6 1683.2,923.0 1683.9,919.1 1684.5,924.0 1685.2,903.7 1685.8,912.3 1686.5,911.2 1687.2,918.7 1687.8,909.8 1688.5,934.0 1689.1,922.4 1689.8,914.2 1690.4,923.9 1691.1,919.3 1691.8,936.2 1692.4,921.9 1693.1,920.1 1693.7,917.4 1694.4,924.9 1695.0,927.0 1695.7,911.9 1696.4,927.2 1697.0,926.2 1697.7,927.1 1698.3,921.7 1699.0,919.3 1699.6,928.9 1700.3,919.2 1701.0,919.7 1701.6,930.1 1702.3,921.6 1702.9,932.2 1703.6,915.2 1704.2,910.5 1704.9,931.3 1705.6,938.3 1706.2,928.5 1706.9,924.8 1707.5,926.5 1708.2,929.7 1708.8,920.3 1709.5,924.0 1710.2,920.6 1710.8,936.5 1711.5,918.9 1712.1,928.1 1712.8,926.4 1713.4,927.4 1714.1,918.1 1714.8,939.9 1715.4,926.8 1716.1,944.7 1716.7,924.6 1717.4,930.5 1718.0,921.4 1718.7,919.5 1719.4,932.0 1720.0,941.5 1720.7,933.4 1721.3,938.6 1722.0,940.4 1722.6,940.7 1723.3,934.9 1724.0,943.7 1724.6,938.1 1725.3,930.9 1725.9,934.1 1726.6,936.0 1727.2,956.1 1727.9,953.5 1728.6,954.9 1729.2,949.3 1729.9,942.8 1730.5,938.7 1731.2,949.6 1731.8,954.4 1732.5,939.5 1733.2,953.1 1733.8,962.8 1734.5,950.4 1735.1,959.2 1735.8,952.5 1736.4,949.7 1737.1,956.0 1737.8,964.1 1738.4,959.3 1739.1,966.4 1739.7,973.9 1740.4,954.9 1741.0,958.4 1741.7,953.4 1742.4,952.5 1743.0,961.9 1743.7,988.7 1744.3,940.5 1745.0,959.2 1745.6,949.7 1746.3,954.1 1747.0,969.1 1747.6,957.3 1748.3,969.2 1748.9,948.1 1749.6,959.6 1750.2,955.1 1750.9,955.8 1751.6,935.6 1752.2,951.2 1752.9,953.3 1753.5,938.9 1754.2,965.2 1754.8,953.2 1755.5,955.5 1756.2,952.6 1756.8,949.0 1757.5,964.4 1758.1,947.2 1758.8,959.1 1759.4,957.7 1760.1,960.2 1760.8,962.6 1761.4,938.7 1762.1,962.8 1762.7,970.5 1763.4,931.9 1764.0,987.0 1764.7,961.7 1765.4,974.0 1766.0,965.8 1766.7,968.8 1767.3,960.5 1768.0,953.8 1768.6,971.8 1769.3,956.2 1770.0,959.2 1770.6,950.3 1771.3,957.1 1771.9,956.7 1772.6,952.9 1773.2,969.5 1773.9,981.1 1774.6,957.8 1775.2,968.3 1775.9,953.9 1776.5,970.3 1777.2,965.0 1777.8,989.3 1778.5,963.1 1779.2,965.6 1779.8,957.1 1780.5,963.6 1781.1,962.7 1781.8,960.0 1782.4,977.8 1783.1,949.3 1783.8,952.4 1784.4,956.2 1785.1,955.6 1785.7,962.5 1786.4,957.9 1787.0,952.7 1787.7,953.0 1788.4,949.3 1789.0,954.9 1789.7,953.0 1790.3,967.2 1791.0,944.0 1791.6,949.8 1792.3,951.4 1793.0,969.1 1793.6,954.5 1794.3,973.5 1794.9,968.4 1795.6,969.9 1796.2,977.1 1796.9,965.4 1797.6,949.0 1798.2,966.2 1798.9,948.5 1799.5,959.8 1800.2,963.0 1800.8,956.3 1801.5,952.0 1802.2,963.5 1802.8,968.2 1803.5,960.5 1804.1,984.3 1804.8,977.4 1805.4,957.4 1806.1,947.8 1806.8,940.5 1807.4,951.2 1808.1,946.8 1808.7,949.1 1809.4,945.5 1810.0,944.0 1810.7,942.6 1811.4,939.2 1812.0,934.0 1812.7,950.0 1813.3,952.7 1814.0,930.2 1814.6,948.8 1815.3,945.2 1816.0,938.9 1816.6,947.6 1817.3,936.6 1817.9,948.8 1818.6,941.7 1819.2,948.0 1819.9,946.1 1820.6,956.1 1821.2,956.9 1821.9,952.4 1822.5,955.4 1823.2,937.7 1823.8,943.8 1824.5,945.8 1825.2,932.3 1825.8,948.4 1826.5,948.3 1827.1,939.5 1827.8,945.7 1828.4,947.8 1829.1,949.0 1829.8,947.9 1830.4,952.8 1831.1,942.5 1831.7,954.1 1832.4,951.4 1833.0,954.8 1833.7,938.8 1834.3,957.7 1835.0,936.7 1835.7,958.2 1836.3,947.4 1837.0,947.0 1837.6,946.6 1838.3,945.5 1838.9,957.3 1839.6,964.1 1840.3,957.3 1840.9,954.7 1841.6,962.5 1842.2,955.0 1842.9,946.8 1843.5,957.5 1844.2,953.5 1844.9,957.5 1845.5,935.8 1846.2,953.0 1846.8,951.4 1847.5,949.4 1848.1,952.3 1848.8,950.4 1849.5,952.5 1850.1,962.8 1850.8,949.9 1851.4,950.4 1852.1,953.3 1852.6,890.9 1852.7,956.1 1853.4,850.9 1854.1,854.2 1854.7,834.3 1855.4,836.7 1856.0,843.5 1856.7,847.7 1857.3,839.1 1857.4,875.9 1858.0,843.0 1858.7,833.9 1859.3,859.9 1860.0,842.2 1860.6,855.1 1861.3,827.8 1861.9,854.3 1862.2,880.4 1862.6,848.5 1863.3,845.8 1863.9,839.1 1864.6,840.8 1865.2,826.2 1865.9,836.6 1866.5,837.1 1867.2,837.8 1867.9,849.0 1868.5,831.8 1869.2,850.1 1869.8,836.9 1870.5,832.6 1871.1,843.9 1871.8,832.0 1872.5,832.0 1873.1,834.0 1873.8,834.2 1874.4,835.6 1875.1,830.5 1875.7,822.9 1876.4,847.3 1877.1,820.6 1877.7,830.1 1878.4,828.1 1879.0,834.5 1879.7,835.5 1880.3,828.8 1881.0,838.9 1881.7,844.3 1882.3,827.6 1883.0,830.2 1883.6,831.0 1884.3,816.7 1884.9,828.6 1885.6,826.1 1886.3,828.7 1886.9,825.4 1887.6,828.8 1888.2,813.3 1888.9,838.0 1889.5,826.9 1890.2,836.5 1890.9,829.3 1891.5,823.9 1892.2,827.7 1892.8,821.5 1893.5,830.1 1894.1,822.6 1894.8,833.0 1895.5,833.3 1896.1,828.5 1896.8,822.7 1897.4,842.8 1898.1,834.0 1898.7,836.0 1899.4,824.9 1900.1,831.2 1900.7,825.3 1901.4,819.4 1902.0,830.8 1902.7,831.9 1903.3,840.4 1904.0,843.8 1904.7,836.4 1905.3,822.1 1906.0,820.4 1906.6,836.6 1907.3,840.7 1907.9,833.9 1908.6,830.4 1909.3,846.0 1909.9,834.2 1910.6,834.4 1911.2,837.2 1911.9,842.0 1912.5,834.9 1913.2,837.7 1913.9,828.0 1914.5,846.9 1915.2,824.8 1915.8,844.5 1916.5,841.5 1917.1,819.9 1917.8,822.5 1918.5,834.1 1919.1,833.5 1919.8,836.9 1920.4,827.5 1921.1,829.8 1921.7,837.9 1922.4,844.8 1923.1,837.8 1923.7,824.0 1924.4,840.1 1925.0,838.7 1925.7,847.8 1926.3,829.3 1927.0,835.3 1927.7,824.1 1928.3,848.3 1929.0,844.8 1929.6,846.0 1930.3,827.8 1930.9,833.2 1931.6,839.9 1932.3,830.9 1932.9,860.3 1933.6,830.6 1934.2,833.9 1934.9,850.7 1935.5,847.5 1936.2,852.0 1936.9,839.0 1937.5,836.4 1938.2,845.5 1938.8,830.6 1939.5,843.0 1940.1,836.1 1940.8,837.6 1941.5,837.6 1942.1,837.9 1942.8,844.2 1943.4,850.2 1944.1,850.3 1944.7,842.2 1945.4,835.6 1946.1,831.2 1946.7,841.0 1947.4,840.2 1948.0,840.4 1948.7,837.5 1949.3,844.7 1950.0,844.2 1950.7,836.0 1951.3,833.1 1952.0,828.6 1952.6,833.8 1953.3,844.9 1953.9,834.0 1954.6,838.8 1955.3,843.4 1955.9,827.4 1956.6,840.1 1957.2,829.1 1957.9,843.9 1958.5,841.5 1959.2,836.7 1959.9,838.3 1960.5,839.9 1961.2,841.3 1961.8,837.4 1962.5,844.0 1963.1,852.8 1963.8,860.5 1964.5,840.8 1965.1,835.9 1965.8,857.4 1966.4,850.9 1967.1,837.4 1967.7,855.6 1968.4,853.2 1969.1,845.2 1969.7,853.9 1970.4,860.4 1971.0,858.4 1971.7,878.4 1972.3,862.2 1973.0,849.9 1973.7,855.0 1974.3,855.7 1975.0,855.4 1975.6,860.9 1976.3,865.1 1976.9,861.0 1977.6,872.2 1978.3,860.8 1978.9,862.8 1979.6,853.4 1980.2,858.7 1980.9,846.3 1981.5,858.5 1982.2,861.5 1982.9,853.4 1983.5,868.8 1984.2,854.1 1984.8,849.5 1985.5,873.8 1986.1,872.2 1986.8,861.4 1987.5,857.7 1988.1,860.1 1988.8,871.1 1989.4,868.0 1990.1,874.3 1990.7,854.2 1991.4,864.6 1992.1,877.0 1992.7,860.4 1993.4,856.4 1994.0,863.9 1994.7,871.4 1995.3,863.1 1996.0,885.3 1996.6,869.4 1997.3,865.6 1998.0,870.8 1998.6,874.7 1999.0,893.9 1999.3,872.4 1999.9,863.4 2000.6,854.7 2001.2,886.5 2001.9,871.5 2002.6,881.9 2003.2,872.9 2003.8,895.4 2003.9,876.1 2004.5,875.3 2005.2,878.3 2005.8,860.1 2006.5,860.2 2007.2,866.6 2007.8,869.3 2008.5,870.5 2009.1,875.5 2009.8,873.4 2010.4,866.3 2011.1,873.7 2011.8,879.4 2012.4,887.1 2013.1,865.5 2013.7,863.9 2014.4,867.3 2015.0,872.9 2015.7,877.3 2016.4,875.4 2017.0,868.6 2017.7,863.6 2018.3,869.2 2019.0,868.7 2019.6,861.2 2020.3,864.7 2021.0,891.6 2021.6,875.8 2022.3,886.1 2022.9,885.9 2023.6,866.5 2024.2,872.3 2024.9,873.2 2025.6,863.2 2026.2,869.1 2026.9,869.2 2027.5,866.4 2028.2,871.7 2028.8,851.9 2029.5,860.9 2030.2,865.9 2030.8,862.0 2031.5,870.1 2032.1,864.3 2032.8,859.6 2033.4,867.2 2034.1,867.2 2034.8,845.2 2035.4,871.4 2036.1,857.1 2036.7,873.6 2037.4,868.8 2038.0,884.7 2038.7,876.1 2039.4,851.2 2040.0,861.8 2040.7,863.4 2041.3,850.2 2042.0,866.8 2042.6,853.1 2043.3,860.6 2043.4,823.5 2044.0,858.1 2044.6,863.4 2045.3,869.6 2045.9,871.3 2046.6,870.3 2047.2,868.2 2047.9,866.3 2048.6,870.5 2049.2,879.6 2049.4,893.9 2049.9,858.9 2050.5,864.1 2051.2,874.9 2051.8,889.4 2051.8,861.7 2052.5,858.3 2053.2,861.3 2053.8,854.6 2054.5,854.1 2055.1,851.5 2055.8,855.1 2056.4,848.6 2057.1,846.8 2057.8,852.5 2058.4,852.5 2059.1,857.2 2059.7,845.8 2060.4,840.4 2061.0,850.2 2061.7,846.6 2062.4,843.5 2063.0,853.9 2063.7,845.4 2064.3,835.6 2065.0,842.4 2065.6,838.9 2066.3,845.7 2067.0,832.7 2067.6,841.5 2068.3,848.7 2068.9,854.1 2069.6,838.8 2070.2,851.8 2070.9,854.8 2071.6,855.3 2072.2,860.0 2072.9,836.8 2073.5,850.1 2074.2,846.5 2074.8,850.3 2075.5,845.8 2076.2,839.4 2076.8,841.1 2077.5,836.0 2078.1,840.4 2078.8,842.0 2079.4,835.1 2080.1,843.9 2080.8,869.7 2081.4,862.9 2082.1,834.5 2082.7,847.5 2083.4,838.6 2084.0,846.4 2084.7,853.5 2085.4,865.2 2086.0,856.0 2086.7,856.1 2087.3,842.6 2088.0,856.7 2088.6,844.3 2089.3,846.5 2090.0,855.9 2090.6,853.9 2091.3,859.7 2091.9,855.1 2092.6,857.9 2093.2,858.6 2093.9,859.5 2094.6,856.0 2095.2,844.3 2095.9,852.5 2096.5,856.0 2097.2,857.1 2097.8,878.9 2098.5,856.5 2099.2,853.8 2099.8,855.8 2100.5,859.6 2101.1,867.5 2101.8,852.4 2102.4,871.2 2103.1,851.9 2103.8,861.8 2104.4,854.5 2105.1,851.6 2105.7,854.7 2106.4,842.8 2107.0,856.4 2107.7,854.7 2108.4,854.9 2109.0,845.8 2109.7,847.8 2110.3,846.9 2111.0,848.9 2111.6,867.0 2112.3,850.1 2113.0,858.2 2113.6,854.0 2114.3,856.7 2114.9,846.6 2115.6,863.1 2116.2,850.0 2116.9,856.2 2117.6,863.9 2118.2,857.7 2118.9,852.4 2119.5,853.6 2120.2,849.6 2120.8,858.7 2121.5,852.8 2122.2,856.0 2122.8,862.7 2123.5,847.9 2124.1,866.3 2124.8,849.0 2125.4,862.0 2126.1,863.0 2126.8,851.6 2127.4,860.8 2128.1,862.8 2128.7,860.2 2129.4,843.8 2130.0,864.6 2130.7,839.8 2131.4,846.1 2132.0,846.6 2132.7,847.6 2133.3,856.9 2134.0,852.9 2134.6,846.7 2135.3,844.3 2136.0,844.3 2136.6,852.8 2137.3,858.7 2137.9,838.2 2138.6,864.1 2139.2,851.1 2139.9,859.9 2140.6,844.9 2141.2,856.3 2141.9,850.8 2142.5,843.9 2143.2,874.1 2143.8,863.3 2144.5,871.6 2145.2,865.1 2145.8,863.6 2146.5,860.6 2147.1,843.1 2147.8,850.9 2148.4,849.6 2149.1,842.8 2149.8,847.8 2150.4,852.8 2151.1,844.4 2151.7,850.9 2152.4,860.9 2153.0,865.7 2153.7,853.7 2154.3,845.2 2155.0,849.6 2155.7,842.4 2156.3,832.6 2157.0,840.3 2157.6,865.2 2158.3,852.7 2158.9,858.9 2159.6,844.4 2160.3,848.1 2160.9,851.1 2161.6,853.0 2162.2,856.5 2162.9,859.2 2163.5,851.5 2164.2,858.9 2164.9,853.9 2165.5,841.2 2166.2,851.3 2166.8,849.3 2167.5,852.3 2168.1,861.4 2168.8,852.6 2169.5,839.8 2170.1,855.4 2170.8,858.6 2171.4,850.3 2172.1,854.2 2172.7,862.3 2173.4,867.8 2174.1,845.7 2174.7,858.7 2175.4,857.6 2176.0,859.7 2176.7,862.3 2177.3,868.9 2178.0,864.6 2178.7,867.8 2179.3,853.8 2180.0,844.2 2180.6,864.9 2181.3,860.7 2181.9,855.6 2182.6,867.6 2183.3,867.1 2183.9,865.1 2184.6,853.6 2185.2,860.9 2185.9,869.6 2186.5,870.0 2187.2,864.5 2187.9,866.1 2188.5,878.9 2189.2,865.1 2189.8,859.4 2190.5,860.9 2191.1,865.6 2191.8,869.3 2192.5,868.6 2193.1,860.8 2193.8,844.8 2194.4,869.9 2195.1,857.7 2195.7,857.9 2196.4,869.8 2197.1,889.7 2197.7,862.9 2198.4,869.6 2199.0,872.9 2199.7,869.5 2200.3,878.1 2201.0,881.8 2201.7,869.2 2202.3,866.2 2203.0,865.4 2203.6,871.8 2204.3,871.6 2204.9,867.4 2205.6,863.8 2206.3,857.5 2206.9,867.2 2207.6,868.6 2208.2,879.2 2208.9,866.9 2209.5,858.6 2210.2,857.7 2210.9,870.8 2211.5,884.7 2212.2,881.2 2212.8,877.1 2213.5,886.1 2214.1,885.8 2214.8,869.3 2215.5,894.7 2216.1,893.0 2216.8,887.7 2217.4,889.8 2218.1,871.8 2218.7,886.1 2219.4,887.4 2220.1,888.6 2220.7,901.7 2221.4,902.3 2222.0,899.6 2222.7,890.3 2223.3,900.7 2224.0,884.1 2224.6,910.3 2224.7,890.0 2225.3,888.8 2226.0,886.1 2226.6,889.6 2227.3,906.5 2227.9,901.2 2228.6,893.7 2229.3,904.4 2229.4,911.8 2229.9,894.7 2230.6,901.2 2231.2,889.8 2231.9,892.8 2232.5,893.7 2233.2,915.5 2233.9,887.6 2234.2,908.9 2234.5,895.3 2235.2,895.4 2235.8,892.2 2236.5,897.6 2237.1,899.7 2237.8,901.4 2238.5,902.8 2239.1,905.8"/></defs>
<use href="#dE" class="fc"/><use href="#dE" class="ed"/>
<polyline class="fit" points="250.1,653.6 251.1,654.0 252.0,654.3 253.0,654.7 254.0,655.1 254.9,655.5 255.9,655.9 256.8,656.4 257.8,656.8 258.8,657.3 259.7,657.7 260.7,658.2 261.6,658.7 262.6,659.1 263.6,659.6 264.5,660.1 265.5,660.6 266.4,661.2 267.4,661.7 268.4,662.2 269.3,662.7 270.3,663.3 271.2,663.8 272.2,664.4 273.2,665.0 274.1,665.5 275.1,666.1 276.0,666.7 277.0,667.2 278.0,667.8 278.9,668.4 279.9,669.0 280.8,669.6 281.8,670.2 282.8,670.8 283.7,671.4 284.7,671.9 285.6,672.5 286.6,673.1 287.6,673.7 288.5,674.3 289.5,674.9 290.4,675.4 291.4,676.0 292.4,676.6 293.3,677.1 294.3,677.7 295.2,678.3 296.2,678.8 297.2,679.3 298.1,679.9 299.1,680.4 300.0,680.9 301.0,681.4 302.0,681.9 302.9,682.4 303.9,682.9 304.8,683.3 305.8,683.8 306.8,684.3 307.7,684.7 308.7,685.1 309.6,685.5 310.6,685.9 311.6,686.3 312.5,686.7 313.5,687.0 314.4,687.4 315.4,687.7 316.4,688.1 317.3,688.4 318.3,688.7 319.2,688.9 320.2,689.2 321.2,689.5 322.1,689.7 323.1,689.9 324.0,690.1 325.0,690.3 326.0,690.5 326.9,690.7 327.9,690.8 328.8,691.0 329.8,691.1 330.8,691.2 331.7,691.3 332.7,691.4 333.6,691.5 334.6,691.6 335.6,691.6 336.5,691.7 337.5,691.7 338.4,691.7 339.4,691.7 340.4,691.7 341.3,691.7 342.3,691.7 343.2,691.7 344.2,691.6 345.2,691.6 346.1,691.5 347.1,691.4 348.0,691.4 349.0,691.3 350.0,691.2 350.9,691.1 351.9,691.0 352.8,690.9 353.8,690.8 354.8,690.7 355.7,690.5 356.7,690.4 357.6,690.3 358.6,690.2 359.6,690.0 360.5,689.9 361.5,689.7 362.4,689.6 363.4,689.5 364.4,689.3 365.3,689.2 366.3,689.0 367.2,688.9 368.2,688.8 369.2,688.6 370.1,688.5 371.1,688.4 372.0,688.2 373.0,688.1 374.0,688.0 374.9,687.9 375.9,687.7 376.8,687.6 377.8,687.5 378.8,687.4 379.7,687.3 380.7,687.2 381.6,687.1 382.6,687.0 383.6,686.9 384.5,686.8 385.5,686.8 386.4,686.7 387.4,686.6 388.4,686.6 389.3,686.5 390.3,686.4 391.2,686.4 392.2,686.4 393.2,686.3 394.1,686.3 395.1,686.3 396.0,686.2 397.0,686.2 398.0,686.2 398.9,686.2 399.9,686.2 400.8,686.2 401.8,686.2 402.8,686.2 403.7,686.2 404.7,686.3 405.6,686.3 406.6,686.3 407.6,686.3 408.5,686.4 409.5,686.4 410.4,686.4 411.4,686.5 412.4,686.5 413.3,686.6 414.3,686.6 415.2,686.7 416.2,686.7 417.2,686.8 418.1,686.9 419.1,686.9 420.0,687.0 421.0,687.0 422.0,687.1 422.9,687.2 423.9,687.2 424.8,687.3 425.8,687.4 426.8,687.4 427.7,687.5 428.7,687.6 429.6,687.6 430.6,687.7 431.6,687.8 432.5,687.8 433.5,687.9 434.4,688.0 435.4,688.1 436.4,688.1 437.3,688.2 438.3,688.3 439.2,688.3 440.2,688.4 441.2,688.5 442.1,688.5 443.1,688.6 444.0,688.7 445.0,688.8 446.0,688.8 446.9,688.9 447.9,689.0 448.8,689.1 449.8,689.1 450.8,689.2 451.7,689.3 452.7,689.4 453.6,689.5 454.6,689.6 455.6,689.7 456.5,689.7 457.5,689.8 458.4,689.9 459.4,690.1 460.4,690.2 461.3,690.3 462.3,690.4 463.2,690.5 464.2,690.7 465.2,690.8 466.1,690.9 467.1,691.1 468.0,691.2 469.0,691.4 470.0,691.6 470.9,691.7 471.9,691.9 472.8,692.1 473.8,692.3 474.8,692.5 475.7,692.7 476.7,692.9 477.6,693.2 478.6,693.4 479.6,693.7 480.5,693.9 481.5,694.2 482.4,694.5 483.4,694.7 484.4,695.0 485.3,695.4 486.3,695.7 487.2,696.0 488.2,696.3 489.2,696.7 490.1,697.0 491.1,697.4 492.0,697.8 493.0,698.2 494.0,698.6 494.9,699.0 495.9,699.4 496.8,699.8 497.8,700.3 498.8,700.7 499.7,701.2 500.7,701.6 501.6,702.1 502.6,702.6 503.6,703.1 504.5,703.6 505.5,704.1 506.4,704.6 507.4,705.1 508.4,705.7 509.3,706.2 510.3,706.7 511.2,707.3 512.2,707.8 513.2,708.4 514.1,709.0 515.1,709.5 516.0,710.1 517.0,710.7 518.0,711.3 518.9,711.9 519.9,712.4 520.8,713.0 521.8,713.6 522.8,714.2 523.7,714.8 524.7,715.4 525.6,716.0 526.6,716.6 527.6,717.1 528.5,717.7 529.5,718.3 530.4,718.9 531.4,719.5 532.4,720.0 533.3,720.6 534.3,721.1 535.2,721.7 536.2,722.2 537.2,722.8 538.1,723.3 539.1,723.8 540.0,724.4 541.0,724.9 542.0,725.4 542.9,725.8 543.9,726.3 544.8,726.8 545.8,727.2 546.8,727.7 547.7,728.1 548.7,728.6 549.6,729.0 550.6,729.4 551.6,729.8 552.5,730.1 553.5,730.5 554.4,730.8 555.4,731.2 556.4,731.5 557.3,731.8 558.3,732.1 559.2,732.4 560.2,732.6 561.2,732.9 562.1,733.1 563.1,733.4 564.0,733.6 565.0,733.8 566.0,734.0 566.9,734.1 567.9,734.3 568.8,734.4 569.8,734.6 570.8,734.7 571.7,734.8 572.7,734.9 573.6,734.9 574.6,735.0 575.6,735.1 576.5,735.1 577.5,735.1 578.4,735.2 579.4,735.2 580.4,735.2 581.3,735.1 582.3,735.1 583.2,735.1 584.2,735.1 585.2,735.0 586.1,734.9 587.1,734.9 588.0,734.8 589.0,734.7 590.0,734.6 590.9,734.5 591.9,734.4 592.8,734.3 593.8,734.2 594.8,734.1 595.7,734.0 596.7,733.9 597.6,733.7 598.6,733.6 599.6,733.5 600.5,733.3 601.5,733.2 602.4,733.0 603.4,732.9 604.4,732.8 605.3,732.6 606.3,732.5 607.2,732.4 608.2,732.2 609.2,732.1 610.1,731.9 611.1,731.8 612.0,731.7 613.0,731.5 614.0,731.4 614.9,731.3 615.9,731.2 616.8,731.1 617.8,730.9 618.8,730.8 619.7,730.7 620.7,730.6 621.6,730.5 622.6,730.4 623.6,730.4 624.5,730.3 625.5,730.2 626.4,730.1 627.4,730.1 628.4,730.0 629.3,729.9 630.3,729.9 631.2,729.8 632.2,729.8 633.2,729.8 634.1,729.7 635.1,729.7 636.0,729.7 637.0,729.7 638.0,729.7 638.9,729.6 639.9,729.6 640.8,729.6 641.8,729.7 642.8,729.7 643.7,729.7 644.7,729.7 645.6,729.7 646.6,729.8 647.6,729.8 648.5,729.8 649.5,729.9 650.4,729.9 651.4,729.9 652.4,730.0 653.3,730.0 654.3,730.1 655.2,730.1 656.2,730.2 657.2,730.2 658.1,730.3 659.1,730.4 660.0,730.4 661.0,730.5 662.0,730.5 662.9,730.6 663.9,730.7 664.8,730.7 665.8,730.8 666.8,730.9 667.7,730.9 668.7,731.0 669.6,731.1 670.6,731.1 671.6,731.2 672.5,731.3 673.5,731.4 674.4,731.4 675.4,731.5 676.4,731.6 677.3,731.6 678.3,731.7 679.2,731.8 680.2,731.8 681.2,731.9 682.1,732.0 683.1,732.1 684.0,732.1 685.0,732.2 686.0,732.3 686.9,732.3 687.9,732.4 688.8,732.5 689.8,732.6 690.8,732.7 691.7,732.7 692.7,732.8 693.6,732.9 694.6,733.0 695.6,733.1 696.5,733.2 697.5,733.3 698.4,733.4 699.4,733.5 700.4,733.6 701.3,733.7 702.3,733.8 703.2,734.0 704.2,734.1 705.2,734.2 706.1,734.4 707.1,734.5 708.0,734.7 709.0,734.8 710.0,735.0 710.9,735.2 711.9,735.4 712.8,735.5 713.8,735.7 714.8,736.0 715.7,736.2 716.7,736.4 717.6,736.6 718.6,736.9 719.6,737.1 720.5,737.4 721.5,737.6 722.4,737.9 723.4,738.2 724.4,738.5 725.3,738.8 726.3,739.1 727.2,739.4 728.2,739.8 729.2,740.1 730.1,740.5 731.1,740.8 732.0,741.2 733.0,741.6 734.0,742.0 734.9,742.4 735.9,742.8 736.8,743.3 737.8,743.7 738.8,744.1 739.7,744.6 740.7,745.1 741.6,745.5 742.6,746.0 743.6,746.5 744.5,747.0 745.5,747.5 746.4,748.0 747.4,748.6 748.4,749.1 749.3,749.6 750.3,750.2 751.2,750.7 752.2,751.3 753.2,751.8 754.1,752.4 755.1,753.0 756.0,753.6 757.0,754.1 758.0,754.7 758.9,755.3 759.9,755.9 760.8,756.5 761.8,757.1 762.8,757.6 763.7,758.2 764.7,758.8 765.6,759.4 766.6,760.0 767.6,760.6 768.5,761.2 769.5,761.7 770.4,762.3 771.4,762.9 772.4,763.5 773.3,764.0 774.3,764.6 775.2,765.1 776.2,765.7 777.2,766.2 778.1,766.8 779.1,767.3 780.0,767.8 781.0,768.3 782.0,768.8 782.9,769.3 783.9,769.8 784.8,770.2 785.8,770.7 786.8,771.1 787.7,771.6 788.7,772.0 789.6,772.4 790.6,772.8 791.6,773.2 792.5,773.6 793.5,773.9 794.4,774.3 795.4,774.6 796.4,774.9 797.3,775.2 798.3,775.5 799.2,775.8 800.2,776.1 801.2,776.3 802.1,776.6 803.1,776.8 804.0,777.0 805.0,777.2 806.0,777.4 806.9,777.6 807.9,777.7 808.8,777.9 809.8,778.0 810.8,778.1 811.7,778.2 812.7,778.3 813.6,778.4 814.6,778.5 815.6,778.5 816.5,778.5 817.5,778.6 818.4,778.6 819.4,778.6 820.4,778.6 821.3,778.6 822.3,778.6 823.2,778.5 824.2,778.5 825.2,778.4 826.1,778.4 827.1,778.3 828.0,778.2 829.0,778.2 830.0,778.1 830.9,778.0 831.9,777.9 832.8,777.8 833.8,777.7 834.8,777.5 835.7,777.4 836.7,777.3 837.6,777.2 838.6,777.0 839.6,776.9 840.5,776.8 841.5,776.6 842.4,776.5 843.4,776.4 844.4,776.2 845.3,776.1 846.3,775.9 847.2,775.8 848.2,775.7 849.2,775.5 850.1,775.4 851.1,775.2 852.0,775.1 853.0,775.0 854.0,774.9 854.9,774.7 855.9,774.6 856.8,774.5 857.8,774.4 858.8,774.3 859.7,774.2 860.7,774.1 861.6,774.0 862.6,773.9 863.6,773.8 864.5,773.7 865.5,773.6 866.4,773.6 867.4,773.5 868.4,773.4 869.3,773.4 870.3,773.3 871.2,773.3 872.2,773.2 873.2,773.2 874.1,773.2 875.1,773.1 876.0,773.1 877.0,773.1 878.0,773.1 878.9,773.1 879.9,773.1 880.8,773.1 881.8,773.1 882.8,773.1 883.7,773.1 884.7,773.1 885.6,773.2 886.6,773.2 887.6,773.2 888.5,773.3 889.5,773.3 890.4,773.3 891.4,773.4 892.4,773.4 893.3,773.5 894.3,773.5 895.2,773.6 896.2,773.6 897.2,773.7 898.1,773.7 899.1,773.8 900.0,773.9 901.0,773.9 902.0,774.0 902.9,774.1 903.9,774.1 904.8,774.2 905.8,774.3 906.8,774.3 907.7,774.4 908.7,774.5 909.6,774.5 910.6,774.6 911.6,774.7 912.5,774.7 913.5,774.8 914.4,774.9 915.4,774.9 916.4,775.0 917.3,775.1 918.3,775.1 919.2,775.2 920.2,775.3 921.2,775.4 922.1,775.4 923.1,775.5 924.0,775.6 925.0,775.6 926.0,775.7 926.9,775.8 927.9,775.9 928.8,775.9 929.8,776.0 930.8,776.1 931.7,776.2 932.7,776.3 933.6,776.4 934.6,776.4 935.6,776.5 936.5,776.6 937.5,776.7 938.4,776.8 939.4,776.9 940.4,777.1 941.3,777.2 942.3,777.3 943.2,777.4 944.2,777.5 945.2,777.7 946.1,777.8 947.1,778.0 948.0,778.1 949.0,778.3 950.0,778.4 950.9,778.6 951.9,778.8 952.8,779.0 953.8,779.2 954.8,779.4 955.7,779.6 956.7,779.8 957.6,780.1 958.6,780.3 959.6,780.5 960.5,780.8 961.5,781.1 962.4,781.3 963.4,781.6 964.4,781.9 965.3,782.2 966.3,782.6 967.2,782.9 968.2,783.2 969.2,783.6 970.1,783.9 971.1,784.3 972.0,784.7 973.0,785.1 974.0,785.4 974.9,785.9 975.9,786.3 976.8,786.7 977.8,787.1 978.8,787.6 979.7,788.0 980.7,788.5 981.6,789.0 982.6,789.5 983.6,790.0 984.5,790.5 985.5,791.0 986.4,791.5 987.4,792.0 988.4,792.5 989.3,793.1 990.3,793.6 991.2,794.2 992.2,794.7 993.2,795.3 994.1,795.8 995.1,796.4 996.0,797.0 997.0,797.6 998.0,798.2 998.9,798.7 999.9,799.3 1000.8,799.9 1001.8,800.5 1002.8,801.1 1003.7,801.7 1004.7,802.3 1005.6,802.9 1006.6,803.4 1007.6,804.0 1008.5,804.6 1009.5,805.2 1010.4,805.8 1011.4,806.3 1012.4,806.9 1013.3,807.5 1014.3,808.0 1015.2,808.6 1016.2,809.1 1017.2,809.7 1018.1,810.2 1019.1,810.7 1020.0,811.2 1021.0,811.7 1022.0,812.2 1022.9,812.7 1023.9,813.2 1024.8,813.7 1025.8,814.1 1026.8,814.6 1027.7,815.0 1028.7,815.4 1029.6,815.8 1030.6,816.2 1031.6,816.6 1032.5,817.0 1033.5,817.4 1034.4,817.7 1035.4,818.1 1036.4,818.4 1037.3,818.7 1038.3,819.0 1039.2,819.3 1040.2,819.5 1041.2,819.8 1042.1,820.0 1043.1,820.2 1044.0,820.5 1045.0,820.7 1046.0,820.8 1046.9,821.0 1047.9,821.2 1048.8,821.3 1049.8,821.4 1050.8,821.6 1051.7,821.7 1052.7,821.8 1053.6,821.8 1054.6,821.9 1055.6,821.9 1056.5,822.0 1057.5,822.0 1058.4,822.0 1059.4,822.0 1060.4,822.0 1061.3,822.0 1062.3,822.0 1063.2,822.0 1064.2,821.9 1065.2,821.9 1066.1,821.8 1067.1,821.8 1068.0,821.7 1069.0,821.6 1070.0,821.5 1070.9,821.4 1071.9,821.3 1072.8,821.2 1073.8,821.1 1074.8,821.0 1075.7,820.9 1076.7,820.7 1077.6,820.6 1078.6,820.5 1079.6,820.3 1080.5,820.2 1081.5,820.1 1082.4,819.9 1083.4,819.8 1084.4,819.7 1085.3,819.5 1086.3,819.4 1087.2,819.2 1088.2,819.1 1089.2,819.0 1090.1,818.8 1091.1,818.7 1092.0,818.6 1093.0,818.4 1094.0,818.3 1094.9,818.2 1095.9,818.1 1096.8,817.9 1097.8,817.8 1098.8,817.7 1099.7,817.6 1100.7,817.5 1101.6,817.4 1102.6,817.3 1103.6,817.2 1104.5,817.2 1105.5,817.1 1106.4,817.0 1107.4,816.9 1108.4,816.9 1109.3,816.8 1110.3,816.8 1111.2,816.7 1112.2,816.7 1113.2,816.6 1114.1,816.6 1115.1,816.6 1116.0,816.6 1117.0,816.5 1118.0,816.5 1118.9,816.5 1119.9,816.5 1120.8,816.5 1121.8,816.5 1122.8,816.5 1123.7,816.6 1124.7,816.6 1125.6,816.6 1126.6,816.6 1127.6,816.7 1128.5,816.7 1129.5,816.7 1130.4,816.8 1131.4,816.8 1132.4,816.9 1133.3,816.9 1134.3,817.0 1135.2,817.0 1136.2,817.1 1137.2,817.1 1138.1,817.2 1139.1,817.2 1140.0,817.3 1141.0,817.4 1142.0,817.4 1142.9,817.5 1143.9,817.6 1144.8,817.6 1145.8,817.7 1146.8,817.8 1147.7,817.8 1148.7,817.9 1149.6,818.0 1150.6,818.0 1151.6,818.1 1152.5,818.2 1153.5,818.2 1154.4,818.3 1155.4,818.4 1156.4,818.4 1157.3,818.5 1158.3,818.6 1159.2,818.7 1160.2,818.7 1161.2,818.8 1162.1,818.9 1163.1,818.9 1164.0,819.0 1165.0,819.1 1166.0,819.2 1166.9,819.2 1167.9,819.3 1168.8,819.4 1169.8,819.5 1170.8,819.5 1171.7,819.6 1172.7,819.7 1173.6,819.8 1174.6,819.9 1175.6,820.0 1176.5,820.1 1177.5,820.2 1178.4,820.3 1179.4,820.4 1180.4,820.5 1181.3,820.6 1182.3,820.7 1183.2,820.9 1184.2,821.0 1185.2,821.1 1186.1,821.3 1187.1,821.4 1188.0,821.6 1189.0,821.7 1190.0,821.9 1190.9,822.1 1191.9,822.2 1192.8,822.4 1193.8,822.6 1194.8,822.8 1195.7,823.0 1196.7,823.3 1197.6,823.5 1198.6,823.7 1199.6,824.0 1200.5,824.2 1201.5,824.5 1202.4,824.8 1203.4,825.1 1204.4,825.4 1205.3,825.7 1206.3,826.0 1207.2,826.3 1208.2,826.7 1209.2,827.0 1210.1,827.4 1211.1,827.7 1212.0,828.1 1213.0,828.5 1214.0,828.9 1214.9,829.3 1215.9,829.7 1216.8,830.1 1217.8,830.6 1218.8,831.0 1219.7,831.5 1220.7,831.9 1221.6,832.4 1222.6,832.9 1223.6,833.4 1224.5,833.9 1225.5,834.4 1226.4,834.9 1227.4,835.4 1228.4,836.0 1229.3,836.5 1230.3,837.1 1231.2,837.6 1232.2,838.2 1233.2,838.7 1234.1,839.3 1235.1,839.9 1236.0,840.4 1237.0,841.0 1238.0,841.6 1238.9,842.2 1239.9,842.8 1240.8,843.4 1241.8,843.9 1242.8,844.5 1243.7,845.1 1244.7,845.7 1245.6,846.3 1246.6,846.9 1247.6,847.5 1248.5,848.1 1249.5,848.6 1250.4,849.2 1251.4,849.8 1252.4,850.3 1253.3,850.9 1254.3,851.5 1255.2,852.0 1256.2,852.6 1257.2,853.1 1258.1,853.6 1259.1,854.2 1260.0,854.7 1261.0,855.2 1262.0,855.7 1262.9,856.2 1263.9,856.6 1264.8,857.1 1265.8,857.6 1266.8,858.0 1267.7,858.5 1268.7,858.9 1269.6,859.3 1270.6,859.7 1271.6,860.1 1272.5,860.5 1273.5,860.8 1274.4,861.2 1275.4,861.5 1276.4,861.8 1277.3,862.1 1278.3,862.4 1279.2,862.7 1280.2,863.0 1281.2,863.2 1282.1,863.5 1283.1,863.7 1284.0,863.9 1285.0,864.1 1286.0,864.3 1286.9,864.5 1287.9,864.6 1288.8,864.8 1289.8,864.9 1290.8,865.0 1291.7,865.1 1292.7,865.2 1293.6,865.3 1294.6,865.3 1295.6,865.4 1296.5,865.4 1297.5,865.5 1298.4,865.5 1299.4,865.5 1300.4,865.5 1301.3,865.5 1302.3,865.5 1303.2,865.4 1304.2,865.4 1305.2,865.3 1306.1,865.3 1307.1,865.2 1308.0,865.1 1309.0,865.0 1310.0,865.0 1310.9,864.9 1311.9,864.8 1312.8,864.7 1313.8,864.5 1314.8,864.4 1315.7,864.3 1316.7,864.2 1317.6,864.1 1318.6,863.9 1319.6,863.8 1320.5,863.7 1321.5,863.5 1322.4,863.4 1323.4,863.2 1324.4,863.1 1325.3,863.0 1326.3,862.8 1327.2,862.7 1328.2,862.5 1329.2,862.4 1330.1,862.3 1331.1,862.1 1332.0,862.0 1333.0,861.9 1334.0,861.7 1334.9,861.6 1335.9,861.5 1336.8,861.4 1337.8,861.3 1338.8,861.2 1339.7,861.1 1340.7,861.0 1341.6,860.9 1342.6,860.8 1343.6,860.7 1344.5,860.6 1345.5,860.5 1346.4,860.4 1347.4,860.4 1348.4,860.3 1349.3,860.3 1350.3,860.2 1351.2,860.2 1352.2,860.1 1353.2,860.1 1354.1,860.1 1355.1,860.0 1356.0,860.0 1357.0,860.0 1358.0,860.0 1358.9,860.0 1359.9,860.0 1360.8,860.0 1361.8,860.0 1362.8,860.0 1363.7,860.0 1364.7,860.0 1365.6,860.0 1366.6,860.1 1367.6,860.1 1368.5,860.1 1369.5,860.2 1370.4,860.2 1371.4,860.3 1372.4,860.3 1373.3,860.4 1374.3,860.4 1375.2,860.5 1376.2,860.5 1377.2,860.6 1378.1,860.6 1379.1,860.7 1380.0,860.7 1381.0,860.8 1382.0,860.9 1382.9,860.9 1383.9,861.0 1384.8,861.1 1385.8,861.1 1386.8,861.2 1387.7,861.3 1388.7,861.3 1389.6,861.4 1390.6,861.5 1391.6,861.5 1392.5,861.6 1393.5,861.7 1394.4,861.7 1395.4,861.8 1396.4,861.9 1397.3,862.0 1398.3,862.0 1399.2,862.1 1400.2,862.2 1401.2,862.2 1402.1,862.3 1403.1,862.4 1404.0,862.4 1405.0,862.5 1406.0,862.6 1406.9,862.7 1407.9,862.7 1408.8,862.8 1409.8,862.9 1410.8,863.0 1411.7,863.1 1412.7,863.2 1413.6,863.2 1414.6,863.3 1415.6,863.4 1416.5,863.5 1417.5,863.6 1418.4,863.7 1419.4,863.8 1420.4,863.9 1421.3,864.1 1422.3,864.2 1423.2,864.3 1424.2,864.4 1425.2,864.6 1426.1,864.7 1427.1,864.8 1428.0,865.0 1429.0,865.2 1430.0,865.3 1430.9,865.5 1431.9,865.7 1432.8,865.9 1433.8,866.1 1434.8,866.3 1435.7,866.5 1436.7,866.7 1437.6,866.9 1438.6,867.2 1439.6,867.4 1440.5,867.7 1441.5,868.0 1442.4,868.2 1443.4,868.5 1444.4,868.8 1445.3,869.1 1446.3,869.4 1447.2,869.8 1448.2,870.1 1449.2,870.4 1450.1,870.8 1451.1,871.2 1452.0,871.5 1453.0,871.9 1454.0,872.3 1454.9,872.7 1455.9,873.2 1456.8,873.6 1457.8,874.0 1458.8,874.5 1459.7,874.9 1460.7,875.4 1461.6,875.9 1462.6,876.3 1463.6,876.8 1464.5,877.3 1465.5,877.8 1466.4,878.4 1467.4,878.9 1468.4,879.4 1469.3,880.0 1470.3,880.5 1471.2,881.1 1472.2,881.6 1473.2,882.2 1474.1,882.7 1475.1,883.3 1476.0,883.9 1477.0,884.5 1478.0,885.0 1478.9,885.6 1479.9,886.2 1480.8,886.8 1481.8,887.4 1482.8,888.0 1483.7,888.6 1484.7,889.2 1485.6,889.7 1486.6,890.3 1487.6,890.9 1488.5,891.5 1489.5,892.1 1490.4,892.7 1491.4,893.2 1492.4,893.8 1493.3,894.4 1494.3,894.9 1495.2,895.5 1496.2,896.0 1497.2,896.5 1498.1,897.1 1499.1,897.6 1500.0,898.1 1501.0,898.6 1502.0,899.1 1502.9,899.6 1503.9,900.1 1504.8,900.6 1505.8,901.0 1506.8,901.5 1507.7,901.9 1508.7,902.3 1509.6,902.7 1510.6,903.1 1511.6,903.5 1512.5,903.9 1513.5,904.3 1514.4,904.6 1515.4,904.9 1516.4,905.3 1517.3,905.6 1518.3,905.9 1519.2,906.1 1520.2,906.4 1521.2,906.7 1522.1,906.9 1523.1,907.1 1524.0,907.3 1525.0,907.5 1526.0,907.7 1526.9,907.9 1527.9,908.1 1528.8,908.2 1529.8,908.3 1530.8,908.4 1531.7,908.5 1532.7,908.6 1533.6,908.7 1534.6,908.8 1535.6,908.8 1536.5,908.9 1537.5,908.9 1538.4,908.9 1539.4,908.9 1540.4,908.9 1541.3,908.9 1542.3,908.9 1543.2,908.9 1544.2,908.8 1545.2,908.8 1546.1,908.7 1547.1,908.6 1548.0,908.6 1549.0,908.5 1550.0,908.4 1550.9,908.3 1551.9,908.2 1552.8,908.1 1553.8,908.0 1554.8,907.9 1555.7,907.7 1556.7,907.6 1557.6,907.5 1558.6,907.4 1559.6,907.2 1560.5,907.1 1561.5,907.0 1562.4,906.8 1563.4,906.7 1564.4,906.5 1565.3,906.4 1566.3,906.3 1567.2,906.1 1568.2,906.0 1569.2,905.8 1570.1,905.7 1571.1,905.6 1572.0,905.4 1573.0,905.3 1574.0,905.2 1574.9,905.1 1575.9,904.9 1576.8,904.8 1577.8,904.7 1578.8,904.6 1579.7,904.5 1580.7,904.4 1581.6,904.3 1582.6,904.2 1583.6,904.1 1584.5,904.0 1585.5,904.0 1586.4,903.9 1587.4,903.8 1588.4,903.8 1589.3,903.7 1590.3,903.7 1591.2,903.6 1592.2,903.6 1593.2,903.5 1594.1,903.5 1595.1,903.5 1596.0,903.4 1597.0,903.4 1598.0,903.4 1598.9,903.4 1599.9,903.4 1600.8,903.4 1601.8,903.4 1602.8,903.4 1603.7,903.4 1604.7,903.5 1605.6,903.5 1606.6,903.5 1607.6,903.5 1608.5,903.6 1609.5,903.6 1610.4,903.7 1611.4,903.7 1612.4,903.7 1613.3,903.8 1614.3,903.8 1615.2,903.9 1616.2,904.0 1617.2,904.0 1618.1,904.1 1619.1,904.1 1620.0,904.2 1621.0,904.3 1622.0,904.3 1622.9,904.4 1623.9,904.4 1624.8,904.5 1625.8,904.6 1626.8,904.6 1627.7,904.7 1628.7,904.8 1629.6,904.8 1630.6,904.9 1631.6,905.0 1632.5,905.1 1633.5,905.1 1634.4,905.2 1635.4,905.3 1636.4,905.3 1637.3,905.4 1638.3,905.5 1639.2,905.5 1640.2,905.6 1641.2,905.7 1642.1,905.7 1643.1,905.8 1644.0,905.9 1645.0,906.0 1646.0,906.0 1646.9,906.1 1647.9,906.2 1648.8,906.3 1649.8,906.3 1650.8,906.4 1651.7,906.5 1652.7,906.6 1653.6,906.7 1654.6,906.8 1655.6,906.9 1656.5,907.0 1657.5,907.1 1658.4,907.2 1659.4,907.3 1660.4,907.4 1661.3,907.5 1662.3,907.6 1663.2,907.7 1664.2,907.9 1665.2,908.0 1666.1,908.1 1667.1,908.3 1668.0,908.4 1669.0,908.6 1670.0,908.8 1670.9,908.9 1671.9,909.1 1672.8,909.3 1673.8,909.5 1674.8,909.7 1675.7,909.9 1676.7,910.2 1677.6,910.4 1678.6,910.6 1679.6,910.9 1680.5,911.1 1681.5,911.4 1682.4,911.7 1683.4,912.0 1684.4,912.3 1685.3,912.6 1686.3,912.9 1687.2,913.2 1688.2,913.5 1689.2,913.9 1690.1,914.2 1691.1,914.6 1692.0,915.0 1693.0,915.4 1694.0,915.8 1694.9,916.2 1695.9,916.6 1696.8,917.0 1697.8,917.5 1698.8,917.9 1699.7,918.4 1700.7,918.8 1701.6,919.3 1702.6,919.8 1703.6,920.3 1704.5,920.8 1705.5,921.3 1706.4,921.8 1707.4,922.3 1708.4,922.9 1709.3,923.4 1710.3,923.9 1711.2,924.5 1712.2,925.0 1713.2,925.6 1714.1,926.2 1715.1,926.7 1716.0,927.3 1717.0,927.9 1718.0,928.5 1718.9,929.1 1719.9,929.6 1720.8,930.2 1721.8,930.8 1722.8,931.4 1723.7,932.0 1724.7,932.6 1725.6,933.2 1726.6,933.8 1727.6,934.4 1728.5,934.9 1729.5,935.5 1730.4,936.1 1731.4,936.7 1732.4,937.2 1733.3,937.8 1734.3,938.4 1735.2,938.9 1736.2,939.5 1737.2,940.0 1738.1,940.5 1739.1,941.0 1740.0,941.6 1741.0,942.1 1742.0,942.6 1742.9,943.1 1743.9,943.5 1744.8,944.0 1745.8,944.5 1746.8,944.9 1747.7,945.3 1748.7,945.8 1749.6,946.2 1750.6,946.6 1751.6,947.0 1752.5,947.3 1753.5,947.7 1754.4,948.0 1755.4,948.4 1756.4,948.7 1757.3,949.0 1758.3,949.3 1759.2,949.6 1760.2,949.9 1761.2,950.1 1762.1,950.3 1763.1,950.6 1764.0,950.8 1765.0,951.0 1766.0,951.2 1766.9,951.3 1767.9,951.5 1768.8,951.6 1769.8,951.8 1770.8,951.9 1771.7,952.0 1772.7,952.1 1773.6,952.2 1774.6,952.2 1775.6,952.3 1776.5,952.3 1777.5,952.3 1778.4,952.4 1779.4,952.4 1780.4,952.4 1781.3,952.4 1782.3,952.3 1783.2,952.3 1784.2,952.3 1785.2,952.2 1786.1,952.2 1787.1,952.1 1788.0,952.0 1789.0,951.9 1790.0,951.8 1790.9,951.7 1791.9,951.6 1792.8,951.5 1793.8,951.4 1794.8,951.3 1795.7,951.2 1796.7,951.1 1797.6,950.9 1798.6,950.8 1799.6,950.7 1800.5,950.5 1801.5,950.4 1802.4,950.3 1803.4,950.1 1804.4,950.0 1805.3,949.8 1806.3,949.7 1807.2,949.6 1808.0,949.5 1808.0,942.6 1808.0,942.6 1808.0,942.6 1808.0,942.6 1808.0,942.6 1808.0,942.6 1808.0,942.6 1808.1,942.7 1808.1,942.7 1808.2,942.7 1808.2,942.7 1808.2,942.8 1808.3,942.8 1808.4,942.9 1808.5,943.0 1808.7,943.1 1808.9,943.2 1809.2,943.4 1809.2,943.4 1809.6,943.6 1810.0,943.9 1810.1,943.9 1810.6,944.2 1811.1,944.4 1811.5,944.6 1812.0,944.8 1812.5,945.0 1813.0,945.2 1813.9,945.5 1814.0,945.5 1814.9,945.8 1815.6,946.0 1815.9,946.1 1816.8,946.3 1817.8,946.5 1817.9,946.6 1818.8,946.7 1819.7,946.9 1820.7,947.1 1820.9,947.2 1821.6,947.3 1822.6,947.5 1823.6,947.6 1824.5,947.8 1824.8,947.8 1825.5,947.9 1826.4,948.1 1827.4,948.2 1828.4,948.4 1829.3,948.5 1829.8,948.6 1830.3,948.6 1831.2,948.8 1832.2,948.9 1833.2,949.0 1834.1,949.2 1835.1,949.3 1836.0,949.4 1836.4,949.5 1837.0,949.6 1838.0,949.7 1838.9,949.8 1839.9,950.0 1840.8,950.1 1841.8,950.2 1842.8,950.4 1843.7,950.5 1844.7,950.7 1844.9,950.7 1845.6,950.8 1846.6,950.9 1847.6,951.1 1848.5,951.2 1849.5,951.4 1850.4,951.5 1851.4,951.7 1852.4,951.8 1853.3,952.0 1853.3,952.0 1853.3,855.8 1853.3,855.8 1853.4,855.8 1853.4,855.8 1853.4,855.8 1853.4,855.7 1853.4,855.7 1853.4,855.7 1853.5,855.6 1853.5,855.6 1853.6,855.5 1853.6,855.5 1853.7,855.4 1853.9,855.2 1854.0,855.0 1854.3,854.8 1854.3,854.8 1854.5,854.5 1854.9,854.2 1855.2,853.8 1855.4,853.7 1856.0,853.2 1856.0,853.1 1856.2,853.0 1856.8,852.4 1857.2,852.1 1857.9,851.5 1858.1,851.3 1859.1,850.5 1859.2,850.4 1860.0,849.8 1861.0,849.2 1861.0,849.1 1862.0,848.5 1862.9,847.9 1863.3,847.6 1863.9,847.3 1864.8,846.7 1865.8,846.2 1866.3,845.9 1866.8,845.6 1867.7,845.1 1868.7,844.6 1869.6,844.2 1870.1,843.9 1870.6,843.7 1871.6,843.3 1872.5,842.9 1873.5,842.5 1874.4,842.1 1875.2,841.8 1875.4,841.7 1876.4,841.3 1877.3,841.0 1878.3,840.6 1879.2,840.3 1880.2,840.0 1881.2,839.6 1881.7,839.5 1882.1,839.3 1883.1,839.0 1884.0,838.8 1885.0,838.5 1886.0,838.2 1886.9,837.9 1887.9,837.7 1888.8,837.4 1889.8,837.2 1890.3,837.1 1890.8,837.0 1891.7,836.7 1892.7,836.5 1893.6,836.3 1894.6,836.1 1895.6,835.9 1896.5,835.7 1897.5,835.6 1898.4,835.4 1899.4,835.2 1900.4,835.1 1901.3,834.9 1901.3,834.9 1902.3,834.8 1903.2,834.7 1904.2,834.6 1905.2,834.5 1906.1,834.4 1907.1,834.3 1908.0,834.2 1909.0,834.1 1910.0,834.1 1910.9,834.0 1911.9,834.0 1912.8,834.0 1913.8,833.9 1914.8,833.9 1915.7,834.0 1916.7,834.0 1917.6,834.0 1918.6,834.0 1919.6,834.1 1920.5,834.2 1921.5,834.2 1922.4,834.3 1923.4,834.4 1924.4,834.5 1925.3,834.6 1926.3,834.8 1927.2,834.9 1928.2,835.1 1929.2,835.3 1930.1,835.4 1931.1,835.6 1932.0,835.8 1933.0,836.1 1934.0,836.3 1934.9,836.5 1935.9,836.8 1936.8,837.1 1937.8,837.3 1938.8,837.6 1939.7,837.9 1940.7,838.2 1941.6,838.6 1942.6,838.9 1943.6,839.2 1944.5,839.6 1945.5,840.0 1946.4,840.3 1947.4,840.7 1948.4,841.1 1949.3,841.5 1950.3,841.9 1951.2,842.3 1952.2,842.7 1953.2,843.1 1954.1,843.6 1955.1,844.0 1956.0,844.4 1957.0,844.9 1958.0,845.3 1958.9,845.8 1959.9,846.3 1960.8,846.7 1961.8,847.2 1962.8,847.6 1963.7,848.1 1964.7,848.6 1965.6,849.0 1966.6,849.5 1967.6,850.0 1968.5,850.4 1969.5,850.9 1970.4,851.3 1971.4,851.8 1972.4,852.3 1973.3,852.7 1974.3,853.1 1975.2,853.6 1976.2,854.0 1977.2,854.4 1978.1,854.9 1979.1,855.3 1980.0,855.7 1981.0,856.1 1982.0,856.5 1982.9,856.8 1983.9,857.2 1984.8,857.6 1985.8,857.9 1986.8,858.3 1987.7,858.6 1988.7,858.9 1989.6,859.2 1990.6,859.5 1991.6,859.8 1992.5,860.1 1993.5,860.4 1994.4,860.6 1995.4,860.8 1996.4,861.1 1997.3,861.3 1998.3,861.5 1999.2,861.7 2000.2,861.8 2001.2,862.0 2002.1,862.1 2003.1,862.3 2004.0,862.4 2005.0,862.5 2006.0,862.6 2006.9,862.7 2007.9,862.7 2008.8,862.8 2009.8,862.8 2010.8,862.8 2011.7,862.9 2012.7,862.9 2013.6,862.9 2014.6,862.8 2015.6,862.8 2016.5,862.8 2017.5,862.7 2018.4,862.6 2019.4,862.6 2020.4,862.5 2021.3,862.4 2022.3,862.3 2023.2,862.1 2024.2,862.0 2025.2,861.9 2026.1,861.7 2027.1,861.6 2028.0,861.4 2029.0,861.3 2030.0,861.1 2030.9,860.9 2031.9,860.8 2032.8,860.6 2033.8,860.4 2034.8,860.2 2035.7,860.0 2036.7,859.8 2037.6,859.6 2038.6,859.4 2039.6,859.2 2040.5,859.0 2041.5,858.7 2042.4,858.5 2043.4,858.3 2044.4,858.1 2045.3,857.9 2046.3,857.7 2047.2,857.5 2048.2,857.2 2049.2,857.0 2050.1,856.8 2051.1,856.6 2052.0,856.4 2053.0,856.2 2054.0,856.0 2054.9,855.8 2055.9,855.6 2056.8,855.4 2057.8,855.3 2058.8,855.1 2059.7,854.9 2060.7,854.7 2061.6,854.6 2062.6,854.4 2063.6,854.3 2064.5,854.1 2065.5,854.0 2066.4,853.8 2067.4,853.7 2068.4,853.6 2069.3,853.4 2070.3,853.3 2071.2,853.2 2072.2,853.1 2073.2,853.0 2074.1,852.9 2075.1,852.8 2076.0,852.7 2077.0,852.7 2078.0,852.6 2078.9,852.5 2079.9,852.4 2080.8,852.4 2081.8,852.3 2082.8,852.3 2083.7,852.2 2084.7,852.2 2085.6,852.2 2086.6,852.1 2087.6,852.1 2088.5,852.1 2089.5,852.0 2090.4,852.0 2091.4,852.0 2092.4,852.0 2093.3,852.0 2094.3,852.0 2095.2,852.0 2096.2,852.0 2097.2,851.9 2098.1,851.9 2099.1,851.9 2100.0,852.0 2101.0,852.0 2102.0,852.0 2102.9,852.0 2103.9,852.0 2104.8,852.0 2105.8,852.0 2106.8,852.0 2107.7,852.0 2108.7,852.0 2109.6,852.0 2110.6,852.1 2111.6,852.1 2112.5,852.1 2113.5,852.1 2114.4,852.1 2115.4,852.1 2116.4,852.1 2117.3,852.2 2118.3,852.2 2119.2,852.2 2120.2,852.2 2121.2,852.2 2122.1,852.2 2123.1,852.2 2124.0,852.3 2125.0,852.3 2126.0,852.3 2126.9,852.3 2127.9,852.4 2128.8,852.4 2129.8,852.4 2130.8,852.4 2131.7,852.5 2132.7,852.5 2133.6,852.5 2134.6,852.6 2135.6,852.6 2136.5,852.7 2137.5,852.7 2138.4,852.8 2139.4,852.8 2140.4,852.9 2141.3,852.9 2142.3,853.0 2143.2,853.1 2144.2,853.2 2145.2,853.3 2146.1,853.3 2147.1,853.4 2148.0,853.6 2149.0,853.7 2150.0,853.8 2150.9,853.9 2151.9,854.0 2152.8,854.2 2153.8,854.3 2154.8,854.5 2155.7,854.7 2156.7,854.8 2157.6,855.0 2158.6,855.2 2159.6,855.4 2160.5,855.6 2161.5,855.8 2162.4,856.1 2163.4,856.3 2164.4,856.6 2165.3,856.8 2166.3,857.1 2167.2,857.4 2168.2,857.7 2169.2,858.0 2170.1,858.3 2171.1,858.6 2172.0,858.9 2173.0,859.3 2174.0,859.6 2174.9,860.0 2175.9,860.4 2176.8,860.7 2177.8,861.1 2178.8,861.5 2179.7,861.9 2180.7,862.4 2181.6,862.8 2182.6,863.2 2183.6,863.7 2184.5,864.1 2185.5,864.6 2186.4,865.1 2187.4,865.6 2188.4,866.0 2189.3,866.5 2190.3,867.0 2191.2,867.5 2192.2,868.1 2193.2,868.6 2194.1,869.1 2195.1,869.6 2196.0,870.2 2197.0,870.7 2198.0,871.2 2198.9,871.8 2199.9,872.3 2200.8,872.9 2201.8,873.4 2202.8,874.0 2203.7,874.5 2204.7,875.1 2205.6,875.6 2206.6,876.2 2207.6,876.7 2208.5,877.2 2209.5,877.8 2210.4,878.3 2211.4,878.8 2212.4,879.4 2213.3,879.9 2214.3,880.4 2215.2,880.9 2216.2,881.4 2217.2,881.9 2218.1,882.4 2219.1,882.9 2220.0,883.4 2221.0,883.9 2222.0,884.3 2222.9,884.8 2223.9,885.2 2224.8,885.6 2225.8,886.0 2226.8,886.5 2227.7,886.9 2228.7,887.2 2229.6,887.6 2230.6,888.0 2231.6,888.3 2232.5,888.7 2233.5,889.0 2234.4,889.3 2235.4,889.6 2236.4,889.9 2237.3,890.1 2238.3,890.4"/>
<rect class="ax" x="170.2" y="648.2" width="2160.0" height="449.4"/>
<path class="tk" d="M410.2 1097.6v-21.6M410.2 648.2v21.6M650.2 1097.6v-21.6M650.2 648.2v21.6M890.2 1097.6v-21.6M890.2 648.2v21.6M1130.2 1097.6v-21.6M1130.2 648.2v21.6M1370.2 1097.6v-21.6M1370.2 648.2v21.6M1610.2 1097.6v-21.6M1610.2 648.2v21.6M1850.2 1097.6v-21.6M1850.2 648.2v21.6M2090.2 1097.6v-21.6M2090.2 648.2v21.6M170.2 798.0h21.6M2330.2 798.0h-21.6M170.2 947.8h21.6M2330.2 947.8h-21.6"/>
<text x="170.2" y="1148.1" text-anchor="middle">2006</text><text x="410.2" y="1148.1" text-anchor="middle">2007</text><text x="650.2" y="1148.1" text-anchor="middle">2008</text><text x="890.2" y="1148.1" text-anchor="middle">2009</text><text x="1130.2" y="1148.1" text-anchor="middle">2010</text><text x="1370.2" y="1148.1" text-anchor="middle">2011</text><text x="1610.2" y="1148.1" text-anchor="middle">2012</text><text x="1850.2" y="1148.1" text-anchor="middle">2013</text><text x="2090.2" y="1148.1" text-anchor="middle">2014</text><text x="2330.2" y="1148.1" text-anchor="middle">2015</text>
<text x="158" y="663.2" text-anchor="end">0</text><text x="158" y="813.0" text-anchor="end">−50</text><text x="158" y="962.8" text-anchor="end">−100</text><text x="158" y="1112.6" text-anchor="end">−150</text>
<text transform="translate(35.4,871.9) rotate(-90)" text-anchor="middle">E Disp. (mm)</text>
</g>
<g id="panelU">
<text x="1260.5" y="1216.0" text-anchor="middle" style="font-size:41.67px">a: 3.2/0.1 b: 1.4/0.0 c: 5.1/0.1 d: −3.3/0.1 e: −0.6/0.1 f: −1.0/0.1 g1: −12.5/1.0 k1: 3.8/0.6 g2: −0.6/0.6 k2: −7.0/0.5</text>
<defs><polyline id="dU" points="250.1,1477.0 250.8,1432.4 251.4,1431.6 252.1,1423.8 252.7,1449.8 253.4,1441.7 254.1,1416.4 254.7,1451.1 255.4,1450.4 256.0,1422.8 256.7,1434.6 257.3,1451.8 258.0,1429.2 258.7,1428.0 259.3,1397.0 260.0,1409.0 260.6,1450.3 261.3,1438.4 261.9,1455.2 262.6,1423.1 263.3,1414.2 263.8,1461.6 263.9,1429.3 264.6,1424.2 265.2,1406.9 265.9,1360.8 266.5,1379.3 267.2,1383.1 267.9,1398.8 268.5,1379.1 269.2,1415.5 269.8,1408.7 270.5,1430.5 271.1,1373.8 271.8,1405.5 272.5,1401.1 273.1,1401.5 273.8,1404.3 274.4,1404.2 275.1,1406.3 275.7,1431.3 275.8,1323.9 276.4,1440.7 277.1,1417.2 277.7,1407.4 278.4,1380.1 279.0,1369.2 279.7,1401.0 280.3,1356.5 281.0,1386.8 281.7,1402.0 282.3,1422.7 283.0,1391.2 283.6,1384.8 284.3,1401.8 284.9,1402.5 285.6,1405.7 286.3,1357.0 286.9,1394.6 287.6,1384.9 288.2,1396.4 288.9,1392.1 289.5,1393.9 290.2,1353.6 290.9,1351.7 291.5,1353.2 292.2,1384.7 292.8,1366.8 293.5,1395.1 294.1,1355.4 294.8,1355.3 295.5,1320.6 296.1,1355.8 296.8,1331.7 297.4,1364.5 298.1,1362.2 298.7,1322.9 299.4,1360.3 300.1,1352.6 300.7,1371.7 301.2,1296.9 301.4,1336.4 302.0,1307.0 302.7,1350.3 303.3,1350.6 304.0,1308.2 304.7,1330.9 305.3,1352.4 306.0,1329.8 306.6,1345.5 307.3,1367.6 307.9,1344.3 308.6,1321.3 309.3,1327.1 309.9,1329.8 310.6,1351.9 311.2,1365.9 311.9,1326.4 312.5,1344.5 313.2,1306.6 313.9,1374.9 314.5,1323.0 315.2,1336.4 315.8,1350.5 316.5,1394.7 317.1,1397.4 317.8,1337.7 318.5,1327.2 319.1,1334.8 319.8,1365.3 320.4,1350.6 321.1,1347.7 321.7,1378.2 322.4,1350.1 323.1,1341.5 323.7,1334.5 324.4,1370.4 325.0,1318.0 325.7,1342.2 326.3,1343.7 327.0,1368.8 327.7,1364.1 328.3,1314.4 329.0,1363.1 329.6,1344.0 330.3,1341.3 330.9,1347.5 331.6,1367.4 332.3,1317.8 332.9,1304.1 333.4,1280.6 333.6,1302.9 334.2,1342.6 334.9,1337.7 335.5,1390.7 336.2,1324.8 336.9,1328.3 337.5,1323.5 338.2,1327.4 338.8,1345.0 339.5,1329.4 340.1,1407.0 340.8,1319.8 341.5,1383.6 342.1,1301.2 342.8,1382.2 343.4,1361.8 344.1,1349.3 344.7,1322.7 345.4,1400.4 346.1,1391.4 346.7,1348.9 347.4,1390.1 348.0,1317.5 348.7,1427.3 349.3,1389.8 350.0,1337.7 350.7,1349.1 351.3,1373.5 352.0,1341.1 352.6,1359.2 353.3,1338.5 353.9,1353.2 354.6,1328.7 355.3,1339.9 355.9,1355.4 356.6,1376.8 357.2,1390.7 357.9,1360.1 358.5,1354.7 359.2,1355.2 359.9,1380.0 360.5,1373.7 361.2,1359.7 361.8,1355.9 362.5,1322.2 363.1,1403.9 363.4,1257.0 363.8,1368.7 364.5,1383.8 365.1,1371.8 365.8,1341.0 366.4,1401.7 367.1,1369.8 367.7,1349.5 368.4,1376.9 369.1,1401.5 369.7,1396.0 370.4,1344.0 371.0,1358.9 371.7,1394.2 372.3,1342.2 373.0,1332.5 373.7,1382.3 374.3,1379.3 375.0,1388.1 375.6,1416.2 376.3,1370.2 376.9,1390.6 377.6,1376.5 378.3,1391.9 378.9,1392.6 379.6,1383.1 380.2,1380.0 380.9,1380.9 381.4,1471.8 381.5,1393.4 382.2,1362.5 382.9,1382.1 383.5,1378.1 384.2,1366.1 384.8,1373.7 385.5,1408.4 386.1,1403.0 386.8,1431.3 387.5,1387.6 388.1,1433.5 388.8,1398.7 389.4,1419.2 390.1,1409.8 390.7,1411.3 391.4,1490.0 392.1,1404.7 392.7,1423.8 393.4,1425.7 394.0,1428.0 394.7,1373.9 395.3,1420.3 396.0,1395.8 396.6,1401.1 397.3,1383.7 398.0,1398.5 398.6,1422.6 399.3,1400.8 399.9,1378.3 400.6,1382.8 401.2,1429.3 401.9,1378.2 402.6,1392.1 403.2,1407.2 403.9,1389.5 404.5,1422.8 405.2,1397.7 405.4,1479.1 405.8,1437.9 406.5,1392.6 407.2,1388.9 407.8,1416.6 408.5,1421.2 409.1,1400.3 409.8,1429.9 410.4,1396.9 411.1,1405.9 411.8,1357.4 412.4,1430.9 413.1,1445.9 413.7,1342.2 414.4,1406.6 415.0,1381.1 415.7,1420.7 416.4,1410.5 417.0,1419.4 417.7,1423.9 418.3,1438.4 419.0,1405.1 419.6,1413.1 420.3,1433.4 421.0,1410.0 421.6,1412.4 422.2,1304.8 422.3,1436.2 422.9,1442.7 423.6,1423.7 424.2,1399.1 424.6,1331.8 424.9,1409.6 425.6,1413.8 426.2,1445.7 426.9,1423.5 427.5,1422.6 428.2,1408.9 428.8,1419.7 429.5,1435.2 430.2,1439.7 430.8,1418.8 431.5,1428.8 432.1,1489.9 432.8,1450.2 433.4,1437.3 434.1,1403.8 434.8,1401.7 435.4,1401.1 436.1,1402.9 436.7,1425.2 437.4,1436.0 438.0,1405.2 438.7,1403.9 439.4,1371.8 440.0,1424.8 440.7,1412.2 441.3,1420.7 442.0,1361.2 442.6,1391.6 443.3,1378.9 444.0,1400.2 444.6,1408.0 445.3,1389.0 445.9,1454.8 446.6,1425.3 447.2,1412.8 447.9,1422.2 448.6,1457.3 449.2,1432.0 449.9,1434.2 450.5,1445.4 451.2,1412.2 451.8,1432.3 452.5,1415.3 453.2,1443.7 453.8,1422.1 454.5,1398.3 455.1,1399.5 455.8,1440.5 456.4,1414.2 457.1,1427.3 457.8,1422.3 458.4,1430.3 459.1,1428.9 459.7,1412.3 460.4,1375.8 461.0,1402.4 461.7,1372.1 462.4,1422.8 463.0,1438.3 463.7,1415.7 464.3,1399.3 465.0,1404.6 465.4,1466.7 465.6,1417.8 466.3,1368.1 467.0,1367.2 467.6,1379.4 467.8,1517.3 468.3,1398.9 468.9,1403.6 469.6,1422.5 470.2,1420.3 470.9,1412.9 471.6,1409.7 472.2,1408.6 472.9,1403.4 473.5,1409.2 474.2,1412.1 474.8,1409.6 475.5,1382.5 476.2,1426.0 476.8,1428.2 477.5,1408.6 478.1,1385.9 478.8,1398.0 479.4,1430.5 480.1,1419.7 480.8,1379.7 481.4,1447.1 482.1,1395.4 482.7,1357.3 483.4,1433.5 484.0,1392.1 484.7,1428.8 485.4,1406.2 486.0,1415.0 486.7,1449.1 487.3,1412.5 488.0,1400.9 488.6,1409.4 489.3,1370.3 490.0,1445.4 490.6,1427.0 491.3,1443.8 491.9,1432.1 492.6,1407.9 493.2,1369.5 493.9,1375.1 494.6,1384.7 495.2,1379.4 495.9,1354.9 496.5,1355.6 497.2,1388.6 497.8,1361.2 498.5,1383.2 499.2,1452.1 499.8,1372.1 500.5,1393.0 501.1,1409.6 501.8,1392.6 502.4,1394.0 503.1,1397.8 503.8,1393.5 504.4,1405.5 505.1,1392.2 505.7,1396.7 506.4,1368.7 507.0,1398.5 507.7,1343.7 508.4,1409.6 509.0,1405.7 509.7,1409.8 510.3,1407.7 511.0,1379.7 511.6,1356.7 512.3,1395.5 513.0,1336.5 513.6,1397.9 514.3,1372.7 514.9,1415.9 515.6,1376.7 516.2,1371.4 516.9,1343.7 517.6,1382.2 518.2,1375.8 518.9,1374.5 519.5,1391.0 520.2,1343.9 520.8,1358.7 521.5,1316.3 522.2,1369.1 522.8,1355.7 523.5,1400.0 524.1,1381.3 524.8,1370.9 525.4,1315.1 526.1,1352.5 526.8,1392.7 527.4,1366.4 528.1,1386.6 528.7,1318.7 529.4,1370.6 530.0,1383.3 530.7,1374.4 531.4,1331.1 532.0,1366.7 532.7,1326.2 533.3,1357.7 534.0,1354.0 534.6,1331.8 535.3,1375.4 536.0,1356.7 536.6,1373.5 537.3,1399.8 537.9,1368.7 538.6,1366.8 539.2,1376.4 539.9,1414.6 540.6,1367.4 541.2,1332.6 541.9,1349.9 542.5,1374.2 543.2,1351.6 543.8,1344.1 544.5,1334.1 545.2,1336.7 545.8,1372.1 546.5,1329.3 547.1,1338.0 547.8,1352.2 548.4,1351.2 549.1,1392.0 549.8,1302.6 550.4,1316.4 551.1,1322.4 551.7,1362.9 552.4,1357.3 553.0,1337.8 553.7,1326.8 554.3,1347.5 555.0,1333.7 555.7,1307.9 556.3,1379.3 557.0,1336.1 557.6,1335.3 558.3,1359.0 558.9,1350.7 559.6,1345.0 560.3,1341.7 560.9,1326.2 561.6,1360.8 562.2,1287.0 562.9,1314.1 563.5,1334.8 564.2,1318.3 564.9,1329.7 565.5,1289.5 566.2,1289.6 566.2,1277.8 566.8,1343.9 567.5,1307.9 568.1,1306.5 568.8,1335.1 569.5,1329.0 570.1,1338.9 570.8,1339.4 571.4,1341.1 572.1,1327.9 572.7,1331.2 573.4,1331.8 574.1,1315.0 574.7,1329.2 575.4,1351.1 576.0,1352.8 576.7,1350.5 577.3,1335.4 578.0,1309.0 578.7,1373.6 579.3,1294.1 580.0,1335.4 580.6,1316.0 581.3,1346.8 581.9,1341.5 582.6,1321.4 583.3,1352.4 583.9,1291.8 584.6,1351.5 585.2,1365.5 585.9,1325.2 586.5,1322.4 587.2,1358.1 587.9,1321.6 588.5,1367.6 589.2,1306.0 589.8,1347.6 590.5,1362.4 591.1,1317.2 591.8,1336.3 592.5,1329.4 593.1,1354.9 593.8,1316.8 594.4,1421.6 595.1,1371.2 595.7,1356.3 596.4,1378.7 597.1,1381.5 597.7,1331.5 598.4,1328.0 599.0,1318.8 599.7,1378.7 600.3,1358.4 601.0,1345.8 601.7,1390.0 602.3,1397.2 603.0,1324.7 603.6,1356.9 604.3,1374.2 604.9,1392.5 605.6,1320.4 606.3,1370.3 606.9,1379.7 607.6,1316.6 608.2,1354.6 608.9,1398.4 609.5,1347.4 610.2,1355.0 610.9,1378.9 611.5,1357.2 612.2,1331.5 612.8,1329.3 613.5,1346.5 614.1,1383.7 614.8,1342.3 615.5,1358.3 616.1,1401.2 616.8,1373.9 617.4,1391.6 618.1,1364.6 618.7,1394.3 619.0,1444.8 619.4,1343.8 620.1,1383.1 620.7,1385.5 621.4,1387.3 621.4,1285.1 622.0,1345.1 622.7,1384.0 623.3,1400.4 624.0,1393.4 624.7,1368.9 625.3,1373.9 626.0,1325.4 626.6,1376.6 627.3,1380.7 627.9,1389.4 628.6,1363.1 629.3,1365.3 629.9,1362.0 630.6,1409.9 631.0,1479.1 631.2,1344.8 631.9,1372.1 632.5,1377.9 633.2,1386.0 633.9,1363.6 634.5,1351.0 635.2,1342.7 635.8,1273.3 635.8,1361.3 636.5,1322.3 637.1,1400.3 637.8,1359.3 638.5,1339.8 639.1,1342.3 639.8,1352.9 640.4,1377.4 641.1,1370.9 641.7,1349.2 642.4,1373.6 643.1,1345.2 643.7,1379.7 644.4,1372.6 645.0,1413.4 645.7,1385.1 646.3,1360.3 647.0,1382.7 647.7,1393.5 648.3,1332.8 649.0,1388.8 649.6,1376.5 650.3,1354.9 650.9,1398.5 651.6,1380.3 652.3,1377.7 652.9,1357.7 653.6,1360.9 654.2,1389.4 654.9,1399.4 655.5,1398.1 656.2,1360.4 656.9,1355.3 657.5,1383.3 658.2,1379.8 658.8,1354.1 659.5,1386.3 660.1,1378.9 660.8,1329.0 661.5,1357.3 662.1,1371.3 662.2,1297.5 662.8,1421.4 663.4,1356.9 664.1,1385.2 664.7,1354.3 665.4,1378.0 666.1,1390.8 666.7,1377.4 667.4,1357.4 668.0,1357.4 668.7,1384.1 669.3,1378.2 670.0,1387.5 670.7,1379.8 671.3,1408.0 672.0,1363.8 672.6,1387.6 673.3,1372.5 673.9,1407.5 674.6,1427.2 675.3,1394.5 675.9,1370.7 676.6,1371.6 677.2,1339.5 677.9,1369.2 678.5,1377.0 679.2,1364.4 679.9,1382.3 680.5,1369.9 681.2,1349.4 681.8,1420.0 682.5,1363.9 683.1,1440.2 683.8,1403.4 684.5,1408.5 685.1,1397.0 685.8,1363.0 686.4,1396.5 687.1,1337.2 687.7,1379.7 688.4,1409.2 689.1,1429.3 689.7,1391.6 690.4,1391.6 691.0,1393.3 691.7,1403.2 692.3,1422.5 693.0,1386.9 693.7,1410.8 694.3,1379.2 695.0,1418.1 695.6,1403.7 696.3,1404.1 696.9,1358.6 697.6,1397.2 698.3,1385.2 698.9,1419.0 699.6,1365.7 700.2,1390.9 700.9,1384.2 701.5,1398.5 702.2,1396.7 702.9,1383.5 703.0,1484.1 703.5,1391.3 704.2,1364.6 704.8,1432.4 705.5,1425.9 706.1,1384.2 706.8,1385.5 707.5,1442.6 708.1,1407.6 708.8,1417.4 709.4,1396.1 710.1,1381.4 710.7,1389.5 711.4,1402.9 712.1,1398.1 712.7,1403.0 713.4,1427.7 714.0,1391.9 714.7,1407.1 715.3,1457.1 716.0,1406.0 716.6,1389.9 717.3,1364.1 718.0,1392.3 718.6,1384.5 719.3,1399.8 719.9,1385.8 720.6,1383.4 721.2,1388.2 721.9,1402.0 722.6,1408.3 723.2,1371.2 723.9,1393.0 724.5,1375.6 725.2,1403.5 725.8,1397.9 726.5,1446.5 727.2,1418.1 727.8,1391.2 728.5,1403.1 729.1,1387.5 729.8,1431.7 730.4,1419.9 731.1,1378.4 731.8,1447.2 732.4,1383.2 733.1,1378.7 733.7,1378.0 734.4,1359.7 735.0,1355.6 735.7,1386.5 736.4,1382.6 737.0,1402.9 737.7,1404.2 738.3,1421.2 739.0,1412.7 739.6,1367.1 740.3,1370.6 741.0,1378.1 741.6,1379.2 742.3,1398.9 742.9,1391.7 743.6,1426.0 744.2,1391.2 744.9,1395.7 745.6,1395.3 746.2,1412.4 746.9,1406.3 747.5,1398.0 748.2,1361.0 748.8,1366.8 749.5,1391.4 750.2,1363.6 750.8,1359.9 751.0,1286.3 751.5,1354.9 752.1,1403.5 752.8,1362.2 753.4,1369.4 754.1,1382.4 754.8,1415.3 755.4,1393.5 756.1,1405.0 756.7,1365.3 757.4,1331.3 758.0,1404.5 758.7,1383.1 759.4,1366.1 760.0,1412.5 760.7,1388.2 761.3,1364.2 762.0,1409.8 762.6,1339.5 763.3,1350.9 764.0,1371.0 764.6,1372.2 765.3,1386.7 765.9,1398.1 766.6,1374.3 767.2,1350.9 767.9,1345.2 768.6,1356.5 769.2,1386.2 769.9,1377.6 770.5,1330.2 771.2,1347.4 771.8,1347.1 772.5,1311.5 772.6,1263.2 773.2,1371.6 773.8,1335.0 774.5,1331.5 775.1,1366.7 775.8,1378.9 776.4,1362.9 777.1,1340.4 777.8,1378.1 778.4,1374.0 779.1,1347.7 779.7,1365.2 779.8,1285.1 780.4,1345.1 781.0,1370.1 781.7,1361.5 782.4,1352.8 783.0,1368.9 783.7,1358.5 784.3,1354.3 785.0,1341.0 785.6,1346.2 786.3,1359.1 787.0,1346.9 787.6,1329.5 788.3,1353.5 788.9,1333.4 789.6,1344.2 790.2,1322.1 790.9,1311.8 791.6,1301.2 792.2,1336.8 792.9,1322.1 793.5,1321.1 794.2,1334.6 794.8,1342.2 795.5,1381.2 796.2,1300.3 796.8,1335.6 797.5,1312.8 798.1,1335.9 798.8,1316.9 799.4,1325.5 800.1,1309.3 800.8,1348.8 801.4,1329.2 802.1,1365.1 802.7,1362.2 803.4,1363.8 804.0,1339.2 804.7,1299.7 805.4,1357.2 806.0,1305.0 806.7,1335.2 807.3,1353.9 808.0,1354.0 808.6,1308.3 809.3,1317.4 810.0,1309.3 810.6,1337.3 811.3,1366.2 811.9,1368.1 812.6,1314.1 813.2,1349.5 813.9,1329.4 814.6,1344.3 815.2,1336.4 815.9,1373.9 816.5,1312.5 817.2,1385.1 817.8,1353.2 818.5,1319.3 819.2,1383.0 819.8,1332.1 820.5,1307.8 821.1,1289.9 821.8,1333.9 822.4,1322.5 823.1,1350.8 823.8,1308.9 824.4,1333.5 825.1,1355.6 825.7,1344.2 826.4,1325.9 827.0,1341.2 827.7,1305.3 828.4,1335.7 829.0,1342.4 829.7,1308.2 830.3,1333.2 831.0,1358.9 831.6,1311.9 832.3,1346.9 833.0,1323.5 833.6,1337.7 834.3,1260.4 834.9,1336.8 835.6,1320.7 836.2,1228.9 836.2,1321.8 836.9,1342.9 837.6,1295.8 838.2,1329.8 838.9,1335.0 839.5,1315.3 839.8,1255.9 840.2,1375.6 840.8,1328.7 841.5,1327.3 842.2,1312.3 842.8,1329.9 843.5,1361.9 844.1,1337.2 844.8,1326.2 845.4,1356.5 846.1,1389.7 846.8,1372.2 847.4,1364.1 848.1,1351.1 848.7,1384.1 849.4,1383.8 850.0,1356.4 850.7,1364.4 851.4,1334.7 852.0,1375.4 852.7,1370.5 853.3,1320.2 854.0,1378.9 854.6,1395.3 855.3,1352.3 856.0,1339.6 856.6,1339.6 857.3,1334.7 857.9,1338.1 858.6,1343.3 859.2,1338.5 859.9,1363.7 860.6,1332.4 861.2,1311.7 861.9,1340.7 862.5,1345.0 863.2,1335.3 863.8,1343.9 864.5,1336.2 865.2,1375.9 865.8,1373.0 866.5,1390.2 867.1,1369.3 867.8,1396.5 868.4,1368.6 869.1,1378.0 869.8,1376.8 870.4,1343.5 871.1,1398.4 871.7,1356.9 872.4,1364.7 873.0,1357.6 873.7,1375.1 874.3,1332.7 875.0,1377.1 875.7,1393.1 876.3,1401.0 877.0,1349.1 877.6,1359.8 878.3,1344.9 878.9,1372.8 879.6,1384.2 880.3,1415.5 880.9,1397.1 881.6,1387.2 882.2,1417.2 882.9,1374.7 883.5,1394.9 884.2,1414.2 884.9,1382.3 885.5,1407.7 886.2,1395.3 886.8,1385.5 887.5,1369.2 888.1,1370.0 888.8,1395.3 889.5,1367.2 890.1,1406.5 890.8,1399.1 891.4,1378.0 892.1,1390.8 892.7,1411.8 893.4,1411.3 894.1,1428.6 894.7,1413.1 895.4,1342.9 896.0,1389.9 896.7,1401.6 897.3,1399.8 898.0,1365.0 898.7,1379.5 899.3,1392.2 900.0,1413.7 900.6,1399.4 901.3,1367.8 901.9,1387.0 902.6,1398.5 903.3,1373.7 903.9,1382.4 904.6,1407.4 905.2,1409.3 905.9,1382.3 906.5,1369.1 907.2,1419.4 907.9,1383.3 908.5,1422.8 909.2,1378.6 909.8,1382.1 910.5,1396.5 911.1,1414.6 911.8,1423.4 912.5,1436.6 913.1,1409.6 913.8,1417.2 914.4,1398.5 915.1,1386.0 915.7,1426.1 916.4,1426.0 917.1,1456.5 917.7,1396.1 918.4,1412.4 919.0,1416.3 919.7,1413.2 920.3,1453.9 921.0,1445.1 921.7,1426.3 922.3,1411.7 923.0,1430.3 923.6,1406.9 924.3,1403.4 924.9,1433.6 925.6,1407.8 926.3,1423.6 926.9,1420.2 927.6,1424.6 928.2,1443.6 928.9,1409.8 929.5,1411.9 930.2,1440.6 930.9,1437.1 931.0,1484.1 931.5,1443.3 932.2,1381.6 932.8,1418.1 933.5,1437.1 934.1,1452.6 934.8,1432.4 935.5,1417.2 936.1,1444.0 936.8,1426.4 937.4,1448.3 938.1,1461.6 938.7,1419.6 939.4,1470.0 940.1,1397.7 940.7,1457.4 941.4,1435.0 942.0,1431.1 942.7,1423.4 943.0,1476.8 943.3,1428.1 944.0,1438.1 944.7,1391.5 945.3,1454.0 946.0,1397.3 946.6,1415.7 947.3,1383.6 947.9,1403.6 948.6,1384.1 949.3,1451.8 949.9,1392.2 950.6,1392.5 951.2,1437.8 951.9,1427.4 952.5,1376.7 953.2,1413.7 953.9,1409.0 954.5,1407.5 955.2,1376.2 955.8,1423.0 956.5,1382.7 957.1,1411.4 957.8,1408.1 958.5,1422.1 959.1,1430.1 959.8,1379.6 960.4,1370.9 961.1,1395.2 961.7,1361.4 962.4,1442.8 963.1,1431.7 963.7,1388.0 964.4,1384.4 965.0,1440.9 965.7,1421.6 966.3,1409.1 967.0,1421.5 967.7,1413.2 968.3,1461.2 969.0,1442.8 969.6,1408.1 970.3,1409.8 970.9,1394.0 971.6,1397.6 972.3,1448.9 972.9,1417.8 973.6,1407.5 974.2,1429.2 974.9,1408.0 975.5,1414.0 976.2,1429.3 976.9,1373.0 977.5,1387.2 978.2,1370.8 978.8,1364.9 979.5,1392.1 980.1,1385.2 980.8,1375.7 981.5,1416.5 982.1,1353.7 982.8,1397.2 983.4,1395.5 984.1,1419.2 984.7,1362.6 985.4,1387.4 986.1,1358.1 986.7,1397.0 987.4,1396.6 988.0,1412.9 988.7,1354.1 989.3,1387.3 990.0,1374.9 990.7,1414.8 991.3,1412.9 992.0,1375.2 992.6,1395.6 993.3,1386.3 993.9,1401.0 994.6,1391.7 995.3,1392.4 995.9,1372.1 996.6,1390.3 997.2,1313.9 997.9,1358.7 998.5,1322.2 999.2,1338.9 999.9,1376.2 1000.5,1341.2 1001.2,1397.8 1001.8,1401.8 1002.5,1375.6 1003.1,1364.2 1003.8,1320.3 1004.5,1352.2 1005.1,1317.0 1005.8,1324.5 1006.4,1361.0 1007.1,1327.2 1007.7,1314.9 1008.4,1320.1 1009.1,1349.1 1009.7,1337.3 1010.4,1340.0 1011.0,1361.3 1011.7,1377.9 1012.3,1341.5 1013.0,1322.9 1013.7,1356.7 1014.3,1315.8 1015.0,1360.3 1015.6,1323.2 1016.3,1352.5 1016.9,1337.2 1017.6,1359.2 1018.3,1335.6 1018.9,1345.4 1019.6,1344.6 1020.2,1336.2 1020.9,1320.2 1021.5,1309.0 1022.2,1326.9 1022.9,1316.9 1023.5,1319.4 1024.2,1296.6 1024.8,1368.7 1025.5,1339.5 1026.1,1338.9 1026.8,1348.8 1027.5,1345.9 1028.1,1341.2 1028.8,1321.5 1029.4,1314.5 1030.1,1316.6 1030.7,1322.5 1031.4,1336.9 1031.8,1239.0 1032.1,1347.0 1032.7,1309.0 1033.4,1302.8 1034.0,1314.6 1034.2,1258.2 1034.7,1342.0 1035.3,1333.1 1036.0,1273.4 1036.6,1346.0 1037.3,1287.3 1038.0,1294.7 1038.6,1313.1 1039.3,1325.4 1039.9,1292.4 1040.6,1307.5 1041.2,1312.8 1041.9,1326.2 1042.6,1331.8 1043.2,1321.5 1043.9,1331.1 1044.5,1318.8 1045.2,1334.8 1045.8,1327.4 1046.2,1418.9 1046.5,1293.2 1047.2,1329.6 1047.8,1356.6 1048.5,1347.0 1049.1,1317.4 1049.8,1327.7 1050.4,1360.7 1051.1,1306.4 1051.8,1264.2 1052.4,1327.1 1053.1,1352.9 1053.7,1292.8 1054.4,1306.8 1055.0,1346.8 1055.7,1342.3 1056.4,1326.6 1057.0,1347.1 1057.7,1322.7 1058.3,1345.3 1059.0,1320.4 1059.6,1300.4 1060.3,1316.8 1061.0,1313.1 1061.6,1325.4 1062.3,1297.7 1062.9,1309.7 1063.6,1360.1 1064.2,1223.3 1064.2,1302.8 1064.9,1347.7 1065.6,1303.3 1066.2,1355.6 1066.9,1339.5 1067.5,1340.4 1068.2,1337.2 1068.8,1340.7 1069.5,1377.5 1070.2,1328.1 1070.8,1299.3 1071.5,1319.7 1072.1,1347.0 1072.8,1316.6 1073.4,1298.6 1074.1,1362.4 1074.8,1365.4 1075.4,1320.2 1076.1,1332.3 1076.7,1316.7 1077.4,1342.5 1078.0,1313.0 1078.7,1343.6 1079.4,1349.3 1080.0,1337.2 1080.7,1334.7 1081.3,1346.9 1082.0,1341.6 1082.6,1349.4 1083.3,1331.6 1084.0,1370.6 1084.6,1352.6 1085.3,1328.5 1085.9,1335.1 1086.6,1343.5 1087.2,1367.9 1087.9,1391.1 1088.6,1361.8 1089.2,1366.9 1089.9,1355.2 1090.5,1332.2 1091.2,1377.2 1091.8,1370.2 1092.5,1346.3 1093.2,1335.1 1093.8,1358.2 1094.5,1394.5 1095.1,1352.5 1095.8,1336.3 1096.4,1356.0 1097.1,1315.6 1097.8,1349.1 1098.4,1357.1 1099.1,1364.7 1099.7,1310.0 1100.4,1372.3 1101.0,1365.3 1101.7,1359.4 1102.4,1384.5 1103.0,1338.7 1103.7,1343.2 1104.3,1359.0 1105.0,1366.7 1105.6,1343.2 1106.2,1427.4 1106.3,1319.6 1107.0,1337.6 1107.6,1365.4 1108.3,1391.6 1108.9,1363.0 1109.6,1402.9 1110.2,1327.2 1110.9,1376.4 1111.6,1353.9 1112.2,1387.5 1112.9,1403.6 1113.5,1335.2 1114.2,1363.8 1114.8,1402.0 1115.5,1377.2 1116.2,1367.2 1116.8,1410.5 1117.5,1369.7 1118.1,1374.2 1118.8,1408.0 1119.4,1373.0 1120.1,1393.6 1120.8,1379.1 1121.4,1372.1 1122.1,1378.0 1122.7,1354.7 1123.4,1353.3 1124.0,1381.2 1124.7,1387.0 1125.4,1380.8 1126.0,1388.2 1126.7,1332.0 1127.3,1357.2 1128.0,1378.5 1128.6,1396.0 1129.3,1395.1 1130.0,1356.2 1130.6,1388.1 1131.3,1360.8 1131.9,1354.9 1132.6,1364.1 1133.2,1380.8 1133.9,1386.5 1134.6,1359.1 1135.2,1396.7 1135.9,1392.1 1136.5,1375.0 1137.2,1399.5 1137.8,1382.8 1138.5,1386.7 1139.2,1399.6 1139.8,1381.7 1140.5,1407.2 1141.1,1345.6 1141.8,1407.4 1142.4,1376.5 1143.1,1414.1 1143.8,1372.9 1144.4,1382.4 1145.1,1418.0 1145.7,1369.3 1146.4,1337.5 1147.0,1371.1 1147.7,1412.3 1148.4,1353.9 1149.0,1408.7 1149.7,1396.9 1150.3,1413.0 1151.0,1400.7 1151.6,1415.5 1152.3,1393.3 1153.0,1382.7 1153.6,1334.3 1154.3,1391.7 1154.9,1394.0 1155.6,1392.0 1156.2,1387.0 1156.9,1454.6 1157.6,1415.1 1158.2,1375.2 1158.9,1454.6 1159.5,1416.3 1160.2,1410.2 1160.8,1388.4 1161.5,1431.4 1162.2,1439.1 1162.8,1374.5 1163.5,1389.2 1164.1,1407.3 1164.8,1370.1 1165.4,1430.3 1166.1,1389.3 1166.8,1367.5 1167.4,1343.2 1168.1,1396.9 1168.7,1385.0 1169.4,1385.1 1170.0,1377.6 1170.7,1433.7 1171.4,1402.9 1172.0,1417.5 1172.7,1416.2 1173.3,1385.5 1174.0,1377.8 1174.6,1389.0 1175.3,1374.1 1176.0,1433.1 1176.6,1406.3 1177.3,1406.5 1177.9,1430.5 1178.6,1411.5 1179.2,1411.8 1179.9,1402.5 1180.6,1394.2 1181.2,1418.9 1181.9,1394.7 1182.5,1410.5 1183.2,1425.5 1183.8,1409.7 1184.5,1381.9 1185.2,1380.3 1185.8,1394.3 1186.5,1379.7 1187.1,1394.2 1187.8,1435.6 1188.4,1419.0 1189.1,1386.7 1189.8,1389.8 1190.4,1420.1 1191.1,1379.6 1191.7,1362.6 1192.4,1386.2 1193.0,1407.9 1193.7,1398.9 1194.3,1395.6 1195.0,1388.0 1195.7,1361.8 1196.2,1439.7 1196.3,1367.3 1197.0,1342.2 1197.6,1362.0 1198.3,1355.8 1198.9,1359.7 1199.6,1349.5 1200.3,1363.1 1200.9,1379.7 1201.6,1387.5 1202.2,1321.9 1202.9,1390.0 1203.5,1397.9 1204.2,1335.8 1204.9,1354.6 1205.5,1348.1 1206.2,1345.5 1206.8,1375.1 1207.5,1391.9 1208.1,1360.1 1208.8,1364.9 1209.5,1348.5 1210.1,1350.6 1210.8,1370.2 1211.4,1355.3 1212.1,1397.5 1212.7,1363.0 1213.4,1349.8 1214.1,1365.6 1214.7,1370.3 1215.4,1356.8 1216.0,1370.8 1216.7,1375.9 1217.3,1376.8 1218.0,1331.3 1218.7,1402.6 1219.3,1369.9 1220.0,1364.3 1220.6,1351.4 1221.3,1392.2 1221.9,1366.0 1222.6,1386.6 1223.3,1353.2 1223.9,1388.9 1224.6,1367.4 1225.2,1328.1 1225.9,1390.9 1226.5,1366.1 1227.2,1331.3 1227.9,1344.3 1228.5,1384.0 1229.2,1339.9 1229.8,1261.5 1229.8,1350.7 1230.5,1344.6 1231.1,1395.5 1231.8,1325.9 1232.5,1353.7 1233.1,1375.2 1233.8,1352.4 1234.4,1346.0 1235.1,1312.5 1235.7,1336.0 1236.4,1356.1 1237.1,1336.7 1237.7,1328.2 1238.4,1334.4 1239.0,1334.1 1239.7,1352.2 1240.3,1356.2 1241.0,1348.2 1241.7,1330.6 1242.3,1346.4 1243.0,1329.4 1243.0,1263.2 1243.6,1304.4 1244.3,1328.8 1244.9,1315.9 1245.6,1327.2 1246.3,1335.8 1246.9,1243.9 1247.6,1293.7 1247.8,1383.0 1248.2,1345.1 1248.9,1329.2 1249.5,1317.6 1250.2,1351.2 1250.9,1342.0 1251.5,1320.6 1252.2,1324.2 1252.8,1346.5 1253.5,1330.8 1254.1,1315.6 1254.3,1404.9 1254.8,1319.8 1255.0,1403.2 1255.5,1318.7 1256.1,1326.5 1256.8,1322.4 1257.4,1290.2 1258.1,1327.3 1258.7,1327.5 1259.4,1331.6 1260.1,1323.2 1260.7,1322.3 1261.4,1291.3 1262.0,1305.9 1262.2,1228.9 1262.7,1334.2 1263.3,1301.7 1263.9,1228.9 1264.0,1315.0 1264.7,1298.8 1265.3,1308.6 1266.0,1305.5 1266.6,1326.3 1267.3,1299.5 1267.9,1279.8 1268.6,1261.9 1269.3,1303.4 1269.9,1303.3 1270.6,1324.9 1271.2,1312.1 1271.9,1344.3 1272.5,1334.2 1273.2,1265.9 1273.9,1237.3 1274.5,1293.5 1275.2,1294.0 1275.8,1296.3 1276.5,1265.3 1277.1,1325.0 1277.8,1316.5 1278.5,1307.2 1279.1,1275.1 1279.8,1287.8 1280.2,1230.6 1280.4,1307.0 1281.1,1313.9 1281.7,1318.4 1282.4,1322.5 1283.1,1312.7 1283.7,1339.8 1284.4,1318.5 1285.0,1327.8 1285.7,1288.8 1286.3,1309.9 1287.0,1296.8 1287.7,1287.2 1288.3,1315.3 1289.0,1342.2 1289.6,1319.3 1290.3,1345.6 1290.9,1253.0 1291.6,1289.3 1292.3,1284.4 1292.9,1343.1 1293.6,1327.9 1294.2,1331.2 1294.9,1349.4 1295.5,1290.0 1296.2,1277.6 1296.9,1313.4 1297.5,1287.7 1298.2,1295.5 1298.8,1347.3 1299.5,1326.3 1300.1,1335.5 1300.8,1314.8 1301.5,1283.7 1302.1,1314.4 1302.8,1293.0 1303.4,1316.1 1304.1,1286.8 1304.7,1295.7 1305.4,1296.3 1306.1,1300.8 1306.7,1315.5 1307.4,1288.9 1308.0,1328.6 1308.7,1370.7 1309.3,1291.6 1310.0,1311.6 1310.7,1330.8 1311.3,1337.9 1312.0,1313.5 1312.6,1246.9 1312.6,1330.5 1313.3,1327.2 1313.9,1290.4 1314.6,1306.1 1315.3,1388.1 1315.9,1361.9 1316.6,1329.4 1317.2,1328.0 1317.9,1356.8 1318.5,1294.0 1319.2,1308.9 1319.9,1335.3 1320.5,1335.9 1321.0,1259.3 1321.0,1418.4 1321.2,1339.8 1321.8,1342.9 1322.5,1315.8 1323.1,1375.2 1323.8,1327.1 1324.5,1339.3 1325.1,1348.7 1325.8,1357.8 1326.4,1384.2 1327.1,1378.4 1327.7,1389.7 1328.4,1370.4 1329.1,1380.0 1329.7,1372.9 1330.4,1369.2 1331.0,1401.9 1331.7,1385.3 1332.3,1377.7 1333.0,1359.5 1333.7,1374.5 1334.3,1361.6 1335.0,1381.0 1335.6,1375.4 1336.3,1376.9 1336.9,1387.3 1337.6,1397.1 1338.3,1379.0 1338.9,1375.9 1339.6,1357.8 1340.2,1375.1 1340.9,1419.0 1341.5,1399.5 1342.2,1366.7 1342.9,1377.6 1343.5,1371.0 1344.2,1349.1 1344.8,1368.9 1345.5,1363.6 1346.1,1390.8 1346.8,1363.6 1347.5,1404.4 1348.1,1378.2 1348.8,1384.7 1349.4,1381.2 1349.6,1422.6 1350.1,1385.5 1350.7,1374.2 1351.4,1396.2 1352.1,1365.7 1352.7,1363.9 1353.4,1404.5 1354.0,1364.2 1354.7,1409.1 1355.3,1383.1 1356.0,1350.1 1356.6,1403.8 1357.3,1309.0 1358.0,1334.8 1358.6,1357.1 1359.3,1330.1 1359.9,1370.4 1360.6,1347.0 1361.2,1384.5 1361.9,1399.4 1362.6,1393.9 1363.2,1369.1 1363.9,1388.6 1364.5,1396.3 1365.2,1368.1 1365.8,1376.3 1366.5,1335.5 1367.2,1365.8 1367.8,1343.0 1368.5,1352.6 1369.1,1377.4 1369.8,1392.0 1370.4,1379.5 1371.1,1381.8 1371.8,1374.4 1372.4,1337.1 1373.1,1387.0 1373.7,1400.3 1374.0,1411.6 1374.4,1399.2 1375.0,1357.2 1375.7,1392.4 1376.4,1406.1 1377.0,1387.8 1377.7,1375.1 1378.3,1377.5 1379.0,1362.6 1379.6,1348.4 1380.3,1398.8 1381.0,1364.0 1381.6,1372.1 1382.3,1378.8 1382.9,1346.1 1383.6,1330.3 1384.1,1285.1 1384.2,1354.2 1384.9,1392.3 1385.6,1338.5 1386.2,1348.7 1386.9,1353.8 1387.5,1367.8 1388.2,1358.6 1388.8,1370.1 1389.5,1319.0 1390.2,1316.7 1390.4,1257.0 1390.8,1403.3 1391.5,1348.2 1392.1,1365.7 1392.8,1356.2 1393.4,1371.3 1394.1,1369.2 1394.8,1326.6 1395.4,1371.4 1396.1,1345.5 1396.6,1306.5 1396.7,1301.2 1397.4,1388.7 1398.0,1371.0 1398.7,1381.6 1399.4,1350.0 1400.0,1342.7 1400.7,1350.1 1401.3,1366.4 1402.0,1368.7 1402.6,1350.2 1403.3,1364.8 1404.0,1361.6 1404.6,1383.9 1405.3,1358.8 1405.9,1317.5 1406.6,1332.7 1407.2,1342.0 1407.9,1328.1 1408.6,1359.0 1409.2,1394.4 1409.9,1355.0 1410.5,1356.5 1411.2,1407.8 1411.8,1362.8 1412.5,1353.2 1413.2,1302.2 1413.8,1349.6 1414.5,1295.9 1415.1,1320.6 1415.8,1338.5 1416.4,1365.5 1417.1,1341.0 1417.8,1348.1 1418.4,1380.8 1419.1,1354.4 1419.7,1400.1 1420.4,1409.3 1420.6,1445.9 1421.0,1372.8 1421.7,1372.8 1422.4,1363.8 1423.0,1355.7 1423.7,1350.2 1424.3,1376.4 1425.0,1420.4 1425.6,1335.9 1426.3,1322.0 1427.0,1317.9 1427.6,1312.0 1428.3,1390.2 1428.9,1371.3 1429.6,1370.8 1430.2,1383.6 1430.9,1376.4 1431.6,1373.2 1432.2,1403.7 1432.9,1364.2 1433.5,1366.2 1434.2,1386.3 1434.8,1389.2 1435.5,1314.3 1436.2,1370.6 1436.8,1358.2 1437.5,1344.6 1438.1,1373.2 1438.8,1353.4 1439.4,1363.2 1440.1,1372.2 1440.8,1367.8 1441.4,1372.5 1442.1,1347.9 1442.7,1361.9 1443.4,1367.4 1444.0,1330.1 1444.7,1327.2 1445.4,1358.5 1446.0,1375.4 1446.7,1330.6 1447.3,1350.7 1448.0,1356.5 1448.6,1375.2 1449.3,1349.1 1450.0,1374.7 1450.4,1434.7 1450.6,1344.8 1451.3,1374.5 1451.9,1355.4 1452.6,1331.4 1453.2,1379.5 1453.9,1401.4 1454.6,1358.8 1455.2,1378.9 1455.9,1382.2 1456.5,1397.8 1457.2,1384.0 1457.8,1377.3 1458.5,1363.2 1459.2,1397.9 1459.8,1391.5 1460.5,1349.7 1461.1,1353.7 1461.8,1368.9 1462.4,1329.2 1463.1,1349.3 1463.8,1368.1 1464.4,1370.6 1465.1,1357.0 1465.7,1362.4 1466.4,1379.8 1467.0,1317.6 1467.7,1321.3 1468.4,1325.7 1469.0,1338.2 1469.7,1349.2 1470.3,1353.5 1471.0,1341.7 1471.6,1349.9 1472.3,1358.2 1473.0,1349.0 1473.4,1253.7 1473.6,1363.6 1474.3,1366.1 1474.9,1370.5 1475.6,1343.4 1476.2,1379.3 1476.9,1333.8 1477.6,1317.2 1478.2,1289.1 1478.9,1346.6 1479.5,1332.9 1480.2,1345.1 1480.8,1343.9 1481.5,1371.1 1482.2,1337.0 1482.8,1325.2 1483.5,1325.1 1484.1,1349.6 1484.8,1322.1 1485.4,1344.7 1486.1,1337.4 1486.8,1331.7 1487.4,1288.4 1488.1,1320.9 1488.7,1322.7 1489.4,1363.5 1490.0,1341.2 1490.7,1320.4 1491.4,1351.1 1492.0,1353.3 1492.7,1337.5 1493.3,1338.3 1494.0,1352.8 1494.6,1334.3 1495.0,1399.3 1495.3,1325.7 1496.0,1360.0 1496.6,1308.3 1497.3,1245.0 1497.9,1275.0 1498.6,1342.3 1499.2,1299.7 1499.9,1292.3 1500.6,1340.5 1501.2,1317.0 1501.9,1307.6 1502.5,1321.9 1503.2,1262.7 1503.8,1258.1 1504.5,1275.7 1505.2,1333.3 1505.8,1307.8 1506.5,1262.6 1507.1,1279.0 1507.8,1358.4 1508.4,1253.7 1509.1,1282.6 1509.8,1311.4 1510.4,1309.1 1511.1,1309.8 1511.7,1294.4 1512.4,1284.3 1513.0,1238.5 1513.0,1271.4 1513.7,1269.1 1514.3,1254.2 1515.0,1307.3 1515.7,1237.2 1516.3,1271.2 1517.0,1285.7 1517.6,1291.1 1518.3,1261.7 1518.9,1305.7 1519.6,1266.6 1520.3,1317.1 1520.9,1251.8 1521.6,1243.4 1522.2,1299.6 1522.9,1243.8 1523.5,1280.5 1523.8,1384.6 1524.2,1293.2 1524.9,1239.1 1525.5,1288.8 1526.2,1247.7 1526.8,1259.2 1527.5,1307.3 1528.1,1324.0 1528.8,1301.8 1529.5,1335.2 1530.1,1304.8 1530.8,1292.1 1531.4,1293.6 1532.0,1222.2 1532.1,1292.8 1532.7,1312.6 1533.4,1296.6 1534.1,1262.3 1534.7,1272.1 1535.4,1272.0 1536.0,1325.4 1536.7,1260.4 1537.3,1311.1 1538.0,1262.4 1538.7,1281.3 1539.3,1302.7 1540.0,1317.7 1540.6,1268.6 1541.3,1301.7 1541.9,1295.8 1542.6,1280.5 1543.3,1305.1 1543.9,1276.3 1544.2,1384.6 1544.6,1295.0 1545.2,1269.2 1545.9,1273.1 1546.5,1283.7 1547.2,1284.9 1547.9,1247.9 1548.5,1299.8 1549.2,1321.6 1549.8,1284.2 1550.5,1322.3 1551.1,1337.8 1551.8,1299.9 1552.5,1276.6 1553.1,1271.6 1553.8,1286.4 1554.4,1279.6 1555.1,1315.2 1555.7,1276.4 1556.4,1275.6 1557.1,1290.6 1557.7,1281.0 1558.4,1341.4 1559.0,1316.7 1559.7,1332.5 1560.3,1252.1 1561.0,1277.2 1561.7,1293.0 1562.2,1227.8 1562.3,1269.0 1563.0,1308.6 1563.6,1312.7 1564.3,1338.2 1564.9,1311.6 1565.6,1332.7 1566.3,1301.7 1566.9,1330.9 1567.6,1305.4 1568.2,1321.3 1568.9,1314.5 1569.5,1329.7 1570.2,1351.5 1570.9,1291.3 1571.5,1295.5 1572.2,1282.6 1572.8,1296.5 1573.5,1346.6 1574.1,1271.8 1574.8,1287.3 1575.5,1254.6 1576.1,1296.0 1576.8,1335.2 1577.4,1326.4 1578.1,1299.0 1578.3,1411.6 1578.3,1249.2 1578.7,1290.1 1579.4,1326.5 1580.1,1346.3 1580.7,1329.0 1581.4,1313.7 1582.0,1355.9 1582.7,1362.0 1583.3,1333.5 1584.0,1328.9 1584.7,1324.1 1585.0,1450.4 1585.3,1378.9 1586.0,1334.7 1586.6,1330.5 1587.3,1344.8 1587.9,1367.9 1588.6,1365.4 1589.3,1430.2 1589.9,1354.9 1590.6,1333.0 1591.2,1364.6 1591.9,1389.2 1592.5,1330.1 1593.2,1358.0 1593.9,1351.4 1594.5,1356.9 1595.2,1396.3 1595.8,1381.7 1596.5,1397.0 1597.1,1390.5 1597.8,1345.8 1598.5,1401.5 1599.1,1362.5 1599.8,1385.2 1600.4,1383.3 1601.1,1374.7 1601.7,1398.6 1602.4,1396.5 1603.1,1405.0 1603.7,1379.0 1604.4,1377.2 1605.0,1402.6 1605.7,1394.5 1606.3,1369.4 1607.0,1399.3 1607.7,1382.4 1608.3,1407.4 1609.0,1399.0 1609.6,1395.7 1610.3,1374.3 1610.9,1372.8 1611.6,1389.9 1612.3,1366.2 1612.9,1384.4 1613.6,1391.2 1614.2,1375.0 1614.9,1410.1 1615.5,1388.5 1616.2,1368.2 1616.9,1337.7 1617.5,1324.8 1618.2,1367.9 1618.8,1387.8 1619.5,1377.1 1620.1,1388.2 1620.8,1378.6 1621.5,1349.7 1622.1,1418.1 1622.8,1405.2 1623.2,1295.8 1623.4,1391.0 1624.1,1408.8 1624.7,1380.7 1625.4,1410.3 1626.1,1387.6 1626.7,1410.6 1627.4,1442.0 1628.0,1374.2 1628.7,1388.4 1629.3,1383.7 1630.0,1396.5 1630.7,1364.4 1631.3,1366.0 1632.0,1383.1 1632.6,1368.8 1633.3,1431.0 1633.9,1360.2 1634.6,1428.1 1635.3,1376.1 1635.9,1376.2 1636.6,1377.4 1637.2,1371.3 1637.9,1399.7 1638.5,1423.8 1639.2,1379.3 1639.9,1381.9 1640.5,1382.0 1641.2,1423.1 1641.8,1370.7 1642.5,1381.6 1643.1,1368.9 1643.8,1386.4 1644.5,1388.5 1645.1,1376.4 1645.8,1388.7 1646.2,1465.0 1646.4,1398.0 1647.1,1385.9 1647.7,1380.3 1648.4,1382.8 1649.1,1395.3 1649.7,1403.7 1650.4,1374.8 1651.0,1391.5 1651.7,1387.7 1652.3,1379.4 1653.0,1383.9 1653.7,1386.6 1654.3,1394.9 1655.0,1357.5 1655.6,1384.3 1656.3,1367.3 1656.9,1395.1 1657.2,1458.0 1657.6,1380.4 1658.3,1397.7 1658.9,1376.9 1659.6,1390.7 1660.2,1366.0 1660.9,1376.3 1661.5,1332.9 1662.2,1330.1 1662.9,1357.5 1663.5,1353.8 1664.2,1380.2 1664.8,1408.9 1665.5,1371.1 1666.1,1380.3 1666.8,1365.2 1667.5,1295.5 1668.1,1362.1 1668.8,1371.1 1669.4,1327.1 1670.1,1340.8 1670.7,1340.0 1671.4,1373.0 1672.1,1394.1 1672.7,1368.0 1673.4,1376.2 1674.0,1371.0 1674.7,1360.8 1675.3,1338.0 1676.0,1370.5 1676.6,1372.6 1677.3,1379.8 1678.0,1373.3 1678.6,1362.9 1679.3,1364.8 1679.9,1349.6 1680.6,1381.4 1681.2,1331.6 1681.9,1388.2 1682.6,1327.4 1683.2,1364.9 1683.9,1353.8 1684.5,1342.3 1685.2,1322.3 1685.8,1401.7 1686.5,1403.2 1687.2,1382.3 1687.8,1357.5 1688.5,1369.6 1689.1,1393.8 1689.8,1352.8 1690.4,1345.3 1691.1,1374.8 1691.8,1409.1 1692.4,1374.5 1693.1,1351.9 1693.7,1345.2 1694.4,1345.2 1695.0,1395.3 1695.7,1384.4 1696.4,1379.2 1697.0,1344.6 1697.7,1352.1 1698.3,1346.3 1699.0,1361.3 1699.6,1374.7 1700.3,1404.2 1701.0,1384.3 1701.6,1390.1 1702.3,1366.0 1702.9,1354.1 1703.6,1365.5 1704.2,1394.1 1704.9,1351.5 1705.6,1322.3 1706.2,1276.7 1706.2,1363.5 1706.9,1372.8 1707.5,1339.6 1708.2,1339.2 1708.8,1322.3 1709.5,1292.8 1710.2,1332.9 1710.8,1331.9 1711.5,1320.7 1712.1,1341.2 1712.8,1310.6 1713.4,1437.5 1713.4,1345.9 1714.1,1367.1 1714.8,1335.8 1715.4,1342.4 1716.1,1316.4 1716.7,1282.2 1717.2,1436.4 1717.4,1294.7 1718.0,1314.3 1718.7,1342.3 1719.4,1289.7 1720.0,1354.9 1720.7,1342.3 1721.3,1310.9 1722.0,1331.7 1722.6,1321.8 1723.3,1339.4 1724.0,1319.2 1724.6,1296.2 1725.3,1342.6 1725.9,1351.9 1726.6,1339.0 1727.2,1317.1 1727.9,1283.2 1728.6,1324.2 1729.2,1348.6 1729.9,1338.9 1730.5,1305.5 1731.2,1319.1 1731.8,1325.2 1732.5,1370.0 1733.2,1338.5 1733.8,1368.8 1734.5,1297.0 1735.1,1302.4 1735.8,1300.9 1736.4,1296.3 1737.1,1313.6 1737.8,1316.4 1738.4,1307.8 1739.1,1316.8 1739.7,1341.5 1740.4,1359.5 1741.0,1329.7 1741.7,1313.9 1742.4,1295.1 1743.0,1312.6 1743.7,1290.2 1744.3,1313.7 1745.0,1338.5 1745.6,1297.4 1746.3,1322.1 1747.0,1286.8 1747.6,1310.1 1748.3,1317.4 1748.9,1349.8 1749.6,1273.3 1750.2,1283.8 1750.9,1325.3 1751.6,1331.7 1752.2,1326.9 1752.9,1285.1 1753.5,1370.8 1754.2,1348.7 1754.8,1330.2 1755.4,1249.4 1755.5,1349.4 1756.2,1314.2 1756.8,1312.4 1757.5,1309.9 1758.1,1293.8 1758.8,1286.8 1759.4,1297.1 1760.1,1278.0 1760.7,1214.0 1760.8,1325.0 1761.4,1339.1 1762.1,1315.2 1762.7,1292.3 1763.4,1272.7 1764.0,1320.0 1764.7,1328.1 1765.0,1250.9 1765.4,1299.0 1766.0,1297.8 1766.7,1277.1 1767.3,1288.3 1768.0,1307.8 1768.6,1357.1 1769.3,1313.9 1770.0,1278.6 1770.6,1315.6 1771.3,1312.3 1771.9,1329.9 1772.6,1312.0 1773.2,1308.1 1773.9,1332.7 1774.6,1318.1 1775.2,1359.5 1775.9,1304.2 1776.5,1316.9 1777.2,1321.2 1777.8,1391.8 1778.5,1295.8 1779.2,1331.3 1779.8,1305.0 1780.5,1296.9 1781.1,1278.5 1781.8,1311.3 1782.4,1344.9 1783.1,1309.9 1783.8,1293.3 1784.4,1276.7 1785.1,1335.4 1785.7,1287.1 1786.4,1316.7 1787.0,1287.4 1787.7,1262.2 1788.4,1301.8 1789.0,1288.4 1789.7,1316.2 1790.3,1332.1 1791.0,1326.8 1791.6,1347.0 1792.3,1314.7 1793.0,1316.5 1793.6,1298.1 1794.3,1282.6 1794.9,1309.6 1795.6,1308.0 1796.2,1344.1 1796.9,1289.0 1797.6,1345.1 1798.2,1338.7 1798.9,1334.9 1799.5,1329.2 1800.2,1303.1 1800.8,1326.0 1801.5,1284.3 1802.2,1300.3 1802.8,1306.7 1803.5,1322.0 1804.1,1302.9 1804.8,1313.8 1805.4,1317.6 1806.1,1329.0 1806.8,1319.4 1807.4,1265.0 1808.1,1363.9 1808.7,1360.7 1809.4,1361.8 1810.0,1380.1 1810.7,1377.4 1811.4,1367.1 1812.0,1384.4 1812.7,1382.8 1813.3,1383.1 1814.0,1370.2 1814.6,1409.8 1815.3,1374.1 1816.0,1348.1 1816.6,1362.1 1817.3,1373.8 1817.9,1404.5 1818.6,1390.2 1819.2,1386.0 1819.9,1360.0 1820.6,1381.8 1821.2,1377.8 1821.9,1327.9 1822.5,1357.6 1823.2,1369.4 1823.8,1397.3 1824.5,1404.6 1825.2,1398.8 1825.8,1378.7 1826.5,1384.2 1827.1,1336.3 1827.8,1399.5 1828.4,1398.7 1828.6,1298.6 1829.1,1376.7 1829.8,1365.8 1830.4,1396.6 1831.1,1367.0 1831.7,1369.6 1832.4,1399.8 1833.0,1366.9 1833.7,1389.9 1834.3,1370.2 1835.0,1344.9 1835.7,1372.8 1836.3,1422.1 1837.0,1417.1 1837.6,1361.1 1838.3,1379.5 1838.9,1393.3 1839.6,1406.9 1840.3,1344.8 1840.9,1397.9 1841.6,1387.4 1842.2,1374.4 1842.9,1390.8 1843.5,1347.5 1844.2,1356.6 1844.9,1355.2 1845.5,1369.0 1846.2,1377.4 1846.8,1386.7 1847.5,1347.0 1848.1,1345.4 1848.8,1354.5 1849.5,1328.5 1850.1,1350.0 1850.8,1377.1 1851.4,1395.1 1852.1,1384.8 1852.7,1380.5 1853.4,1360.7 1854.1,1358.5 1854.7,1356.0 1855.4,1373.6 1856.0,1394.0 1856.7,1353.3 1857.3,1348.5 1858.0,1383.5 1858.7,1369.7 1859.3,1355.7 1860.0,1372.7 1860.6,1379.6 1861.3,1380.0 1861.9,1382.7 1862.6,1409.9 1863.3,1390.6 1863.9,1414.9 1864.6,1415.7 1865.2,1336.5 1865.9,1395.8 1866.5,1398.9 1867.0,1503.2 1867.2,1396.4 1867.9,1387.9 1868.5,1353.2 1869.2,1373.5 1869.8,1345.8 1870.5,1379.8 1871.1,1390.2 1871.8,1397.9 1872.5,1395.7 1873.1,1386.9 1873.8,1395.7 1874.4,1410.8 1875.1,1380.8 1875.7,1403.2 1876.4,1371.2 1877.1,1407.3 1877.7,1392.2 1878.4,1413.8 1879.0,1424.7 1879.7,1385.9 1880.3,1382.5 1881.0,1397.1 1881.7,1418.5 1882.3,1391.7 1883.0,1371.1 1883.6,1437.8 1884.3,1377.7 1884.9,1422.3 1885.6,1419.9 1886.3,1402.9 1886.9,1384.3 1887.6,1399.4 1888.2,1394.2 1888.9,1352.4 1889.5,1430.9 1890.2,1399.0 1890.9,1433.4 1891.5,1375.8 1892.2,1435.0 1892.8,1392.8 1893.5,1421.0 1894.1,1434.0 1894.8,1385.2 1895.5,1440.6 1896.1,1450.9 1896.8,1410.7 1897.4,1418.5 1898.1,1419.5 1898.7,1470.6 1899.4,1416.0 1900.1,1450.9 1900.7,1427.9 1901.4,1472.2 1902.0,1453.6 1902.7,1418.1 1903.3,1479.9 1904.0,1448.1 1904.7,1418.9 1905.3,1463.9 1906.0,1453.3 1906.6,1492.3 1907.3,1443.0 1907.9,1392.7 1908.6,1464.5 1909.3,1412.3 1909.9,1437.9 1910.6,1457.1 1911.2,1434.3 1911.9,1421.8 1912.5,1446.9 1913.2,1457.7 1913.9,1463.2 1914.5,1395.3 1915.2,1390.7 1915.8,1417.0 1916.5,1423.8 1917.1,1421.7 1917.4,1510.0 1917.8,1398.8 1918.5,1405.9 1919.1,1377.4 1919.8,1431.5 1920.4,1438.8 1921.1,1435.4 1921.7,1422.2 1922.4,1390.9 1923.1,1413.1 1923.7,1454.6 1924.4,1384.1 1925.0,1410.2 1925.7,1396.7 1926.3,1400.9 1927.0,1395.9 1927.7,1483.0 1928.3,1405.0 1929.0,1429.0 1929.6,1426.9 1930.3,1403.7 1930.9,1399.7 1931.6,1463.6 1932.3,1405.1 1932.9,1425.1 1933.6,1398.3 1934.2,1481.6 1934.9,1435.5 1935.5,1458.6 1936.2,1461.1 1936.9,1421.5 1937.5,1406.9 1938.2,1463.0 1938.8,1352.4 1939.5,1427.9 1940.1,1398.1 1940.8,1427.3 1941.5,1430.4 1942.1,1410.2 1942.8,1479.2 1943.4,1437.4 1944.1,1414.3 1944.7,1400.0 1945.4,1378.2 1946.1,1498.7 1946.7,1430.9 1947.4,1436.4 1948.0,1423.8 1948.7,1435.1 1949.3,1387.5 1950.0,1444.6 1950.7,1398.5 1951.3,1412.2 1952.0,1429.2 1952.6,1366.1 1953.3,1468.9 1953.4,1497.6 1953.9,1382.9 1954.6,1423.3 1955.3,1403.1 1955.9,1404.3 1956.6,1392.9 1957.2,1398.8 1957.9,1406.4 1958.5,1436.5 1959.2,1442.9 1959.9,1387.8 1960.5,1390.5 1961.2,1361.4 1961.8,1438.3 1962.5,1379.9 1963.0,1274.5 1963.1,1410.5 1963.8,1402.7 1964.5,1367.1 1965.1,1352.0 1965.8,1392.9 1966.4,1451.1 1967.1,1381.5 1967.7,1427.0 1968.4,1369.5 1969.1,1381.8 1969.7,1402.0 1970.4,1386.0 1971.0,1402.4 1971.7,1365.2 1972.3,1387.0 1973.0,1367.7 1973.7,1351.0 1974.3,1392.4 1975.0,1368.9 1975.0,1272.8 1975.6,1372.5 1976.3,1374.7 1976.9,1380.3 1977.6,1403.1 1978.3,1352.3 1978.9,1319.9 1979.6,1388.7 1980.2,1366.8 1980.9,1420.6 1981.5,1370.1 1982.2,1371.7 1982.2,1311.0 1982.9,1428.6 1983.5,1394.0 1984.2,1361.6 1984.8,1338.5 1985.5,1356.1 1985.8,1467.8 1986.1,1382.6 1986.8,1355.0 1987.5,1379.6 1988.1,1356.2 1988.8,1394.2 1989.4,1391.5 1990.1,1375.0 1990.7,1337.9 1991.4,1403.7 1992.1,1394.3 1992.7,1356.9 1993.4,1389.5 1994.0,1366.1 1994.7,1417.8 1995.3,1339.2 1996.0,1366.1 1996.6,1361.1 1997.3,1398.8 1998.0,1356.0 1998.6,1354.6 1999.3,1371.0 1999.9,1347.8 2000.6,1371.8 2001.2,1416.4 2001.9,1361.9 2002.6,1301.4 2003.2,1383.5 2003.9,1363.6 2004.5,1351.0 2005.2,1362.0 2005.8,1357.8 2006.5,1314.0 2007.2,1349.8 2007.8,1360.6 2008.5,1364.3 2009.1,1349.6 2009.8,1380.1 2010.4,1355.7 2011.1,1384.0 2011.8,1332.8 2012.4,1389.8 2013.1,1387.4 2013.7,1363.8 2014.4,1363.0 2015.0,1334.4 2015.7,1412.8 2015.8,1273.9 2015.8,1285.1 2016.4,1367.9 2017.0,1370.1 2017.7,1363.7 2018.3,1388.1 2019.0,1425.9 2019.6,1422.7 2020.3,1312.1 2021.0,1305.8 2021.6,1398.7 2022.3,1363.5 2022.9,1376.1 2023.6,1359.7 2024.2,1368.2 2024.9,1382.4 2025.6,1361.5 2026.2,1431.3 2026.9,1413.5 2027.5,1389.4 2028.2,1371.1 2028.8,1470.9 2029.5,1410.1 2030.2,1420.1 2030.8,1400.8 2031.5,1370.4 2032.1,1415.8 2032.8,1442.4 2033.4,1411.2 2034.1,1448.1 2034.8,1379.7 2035.4,1441.7 2036.1,1413.5 2036.7,1402.6 2037.4,1380.1 2038.0,1378.8 2038.7,1385.5 2039.4,1413.8 2040.0,1439.0 2040.7,1429.7 2041.3,1403.6 2042.0,1420.2 2042.6,1421.0 2043.3,1408.1 2044.0,1406.9 2044.6,1443.9 2045.3,1422.9 2045.9,1400.3 2046.6,1491.5 2047.2,1393.7 2047.9,1393.0 2048.6,1434.0 2049.2,1444.0 2049.4,1507.2 2049.9,1426.8 2050.5,1451.9 2051.2,1399.3 2051.8,1431.9 2052.5,1500.4 2053.2,1400.2 2053.8,1439.1 2054.5,1417.9 2055.1,1488.1 2055.8,1415.6 2056.4,1457.4 2057.1,1447.7 2057.8,1431.4 2058.4,1449.6 2059.1,1435.3 2059.7,1460.4 2060.4,1393.9 2061.0,1488.5 2061.7,1470.4 2062.4,1488.8 2063.0,1443.9 2063.7,1452.7 2064.3,1459.7 2065.0,1492.8 2065.6,1381.1 2066.3,1423.8 2067.0,1442.8 2067.6,1429.0 2068.3,1446.6 2068.6,1510.0 2068.9,1471.6 2069.6,1400.8 2070.2,1422.7 2070.9,1444.0 2071.6,1427.4 2072.2,1442.5 2072.9,1440.7 2073.5,1477.2 2074.2,1442.4 2074.8,1477.4 2075.5,1400.2 2076.2,1412.0 2076.8,1432.4 2077.5,1469.2 2078.1,1481.0 2078.2,1334.0 2078.8,1491.3 2079.4,1438.1 2080.1,1451.3 2080.8,1467.2 2081.4,1500.0 2082.1,1445.2 2082.7,1533.8 2083.4,1469.1 2084.0,1501.3 2084.7,1485.5 2085.4,1534.1 2086.0,1455.3 2086.7,1551.7 2087.3,1502.5 2088.0,1486.4 2088.6,1463.6 2089.3,1475.1 2090.0,1464.6 2090.6,1462.9 2091.3,1416.2 2091.9,1510.3 2092.6,1422.8 2093.2,1442.0 2093.9,1426.1 2094.6,1468.5 2095.2,1387.0 2095.9,1494.6 2096.5,1413.6 2097.2,1478.1 2097.8,1434.7 2098.5,1431.5 2099.2,1464.7 2099.8,1468.2 2100.5,1489.6 2101.1,1502.8 2101.8,1504.7 2102.2,1347.5 2102.2,1531.9 2102.4,1489.0 2103.1,1479.2 2103.8,1510.7 2104.4,1454.4 2105.1,1487.0 2105.7,1480.0 2106.4,1497.6 2107.0,1490.9 2107.7,1498.6 2108.4,1466.3 2109.0,1474.2 2109.7,1500.3 2110.3,1464.0 2111.0,1488.4 2111.6,1493.4 2112.3,1470.2 2113.0,1490.2 2113.6,1481.6 2114.3,1476.2 2114.9,1480.6 2115.6,1493.2 2116.2,1409.2 2116.9,1488.0 2117.6,1464.5 2118.2,1427.5 2118.9,1431.2 2119.5,1411.6 2120.2,1420.8 2120.8,1474.4 2121.5,1473.2 2122.2,1421.3 2122.8,1438.3 2123.5,1464.2 2123.8,1520.7 2124.1,1514.0 2124.8,1451.1 2125.4,1463.2 2126.1,1454.0 2126.8,1460.3 2127.4,1466.1 2128.1,1442.1 2128.6,1368.3 2128.7,1464.0 2129.4,1450.2 2130.0,1478.0 2130.7,1441.6 2131.4,1487.4 2132.0,1426.0 2132.7,1423.6 2133.3,1456.3 2133.4,1315.5 2134.0,1470.7 2134.6,1438.8 2135.3,1477.2 2136.0,1472.2 2136.6,1454.3 2137.3,1469.3 2137.9,1429.1 2138.6,1471.1 2139.2,1468.8 2139.9,1535.3 2140.6,1437.4 2141.2,1505.7 2141.9,1463.4 2142.5,1480.5 2143.2,1487.9 2143.8,1541.1 2144.5,1496.8 2145.2,1484.0 2145.8,1498.5 2146.5,1494.9 2147.1,1447.8 2147.8,1526.7 2148.4,1448.8 2149.1,1493.2 2149.8,1463.5 2150.4,1430.1 2151.1,1453.9 2151.7,1482.0 2152.4,1388.2 2153.0,1416.4 2153.7,1443.0 2154.3,1444.3 2155.0,1365.5 2155.0,1519.5 2155.0,1481.7 2155.7,1461.4 2156.3,1439.0 2157.0,1445.1 2157.6,1452.2 2158.3,1430.8 2158.9,1463.8 2159.6,1430.3 2160.3,1381.9 2160.9,1493.8 2161.6,1477.2 2162.2,1460.7 2162.9,1437.9 2163.5,1464.9 2164.2,1460.1 2164.9,1481.3 2165.5,1413.5 2166.2,1462.6 2166.8,1470.5 2167.5,1442.6 2168.1,1466.4 2168.8,1467.4 2169.4,1531.9 2169.5,1505.7 2170.1,1479.0 2170.8,1451.8 2171.4,1488.5 2172.1,1450.4 2172.7,1469.0 2173.4,1440.3 2174.1,1361.8 2174.7,1431.2 2175.4,1413.5 2176.0,1435.1 2176.6,1354.3 2176.7,1427.1 2177.3,1435.3 2178.0,1455.5 2178.7,1462.7 2179.3,1431.6 2180.0,1460.8 2180.6,1444.9 2181.3,1414.1 2181.9,1447.9 2182.6,1463.1 2183.3,1438.3 2183.9,1433.9 2184.6,1537.4 2185.2,1499.9 2185.9,1441.4 2186.5,1466.1 2187.2,1440.0 2187.9,1426.2 2188.5,1391.4 2189.2,1450.1 2189.8,1443.7 2190.5,1446.5 2191.0,1566.2 2191.1,1385.8 2191.8,1394.0 2192.5,1490.2 2193.1,1475.1 2193.8,1500.4 2194.4,1475.3 2195.1,1519.2 2195.7,1425.9 2196.4,1446.4 2197.1,1434.2 2197.7,1459.8 2198.2,1350.3 2198.4,1443.2 2199.0,1410.4 2199.7,1437.4 2200.3,1462.1 2201.0,1439.4 2201.7,1474.8 2201.8,1601.1 2202.3,1440.5 2203.0,1373.1 2203.6,1482.4 2204.3,1415.6 2204.9,1431.4 2205.6,1408.8 2206.3,1435.1 2206.9,1455.6 2207.6,1446.0 2208.2,1440.5 2208.9,1486.9 2209.5,1455.1 2210.2,1314.9 2210.2,1508.3 2210.9,1458.9 2211.5,1467.0 2212.2,1467.0 2212.8,1430.1 2213.5,1413.2 2214.1,1445.5 2214.8,1382.1 2215.5,1472.8 2216.1,1438.9 2216.8,1387.4 2217.4,1440.3 2218.1,1437.4 2218.7,1393.1 2219.4,1439.4 2220.1,1462.9 2220.7,1434.3 2221.4,1397.9 2222.0,1430.9 2222.7,1453.2 2223.3,1443.7 2224.0,1415.3 2224.7,1433.1 2225.3,1375.8 2226.0,1442.1 2226.6,1426.9 2227.3,1409.2 2227.9,1430.4 2228.6,1484.8 2229.3,1424.0 2229.9,1445.8 2230.6,1423.1 2231.2,1440.8 2231.9,1412.4 2232.5,1414.6 2233.2,1457.7 2233.9,1478.2 2234.5,1408.0 2235.2,1403.2 2235.8,1389.0 2236.5,1415.5 2236.6,1316.1 2237.1,1436.0 2237.8,1456.9 2238.5,1398.9 2239.0,1331.2 2239.0,1350.3 2239.1,1405.3"/></defs>
<use href="#dU" class="fc"/><use href="#dU" class="ed"/>
<polyline class="fit" points="250.1,1409.9 251.1,1409.3 252.0,1408.7 253.0,1408.1 254.0,1407.4 254.9,1406.7 255.9,1406.0 256.8,1405.2 257.8,1404.5 258.8,1403.7 259.7,1402.8 260.7,1402.0 261.6,1401.1 262.6,1400.2 263.6,1399.3 264.5,1398.4 265.5,1397.4 266.4,1396.5 267.4,1395.5 268.4,1394.5 269.3,1393.4 270.3,1392.4 271.2,1391.3 272.2,1390.3 273.2,1389.2 274.1,1388.1 275.1,1387.0 276.0,1385.8 277.0,1384.7 278.0,1383.6 278.9,1382.4 279.9,1381.3 280.8,1380.1 281.8,1379.0 282.8,1377.8 283.7,1376.7 284.7,1375.5 285.6,1374.3 286.6,1373.2 287.6,1372.0 288.5,1370.9 289.5,1369.8 290.4,1368.6 291.4,1367.5 292.4,1366.4 293.3,1365.3 294.3,1364.2 295.2,1363.2 296.2,1362.1 297.2,1361.1 298.1,1360.1 299.1,1359.1 300.0,1358.1 301.0,1357.2 302.0,1356.3 302.9,1355.4 303.9,1354.5 304.8,1353.6 305.8,1352.8 306.8,1352.0 307.7,1351.3 308.7,1350.5 309.6,1349.8 310.6,1349.2 311.6,1348.5 312.5,1347.9 313.5,1347.4 314.4,1346.8 315.4,1346.3 316.4,1345.9 317.3,1345.5 318.3,1345.1 319.2,1344.7 320.2,1344.4 321.2,1344.1 322.1,1343.9 323.1,1343.7 324.0,1343.5 325.0,1343.4 326.0,1343.3 326.9,1343.2 327.9,1343.2 328.8,1343.2 329.8,1343.3 330.8,1343.4 331.7,1343.5 332.7,1343.7 333.6,1343.9 334.6,1344.1 335.6,1344.4 336.5,1344.6 337.5,1345.0 338.4,1345.3 339.4,1345.7 340.4,1346.2 341.3,1346.6 342.3,1347.1 343.2,1347.6 344.2,1348.1 345.2,1348.7 346.1,1349.3 347.1,1349.9 348.0,1350.5 349.0,1351.2 350.0,1351.9 350.9,1352.6 351.9,1353.3 352.8,1354.0 353.8,1354.7 354.8,1355.5 355.7,1356.3 356.7,1357.1 357.6,1357.9 358.6,1358.7 359.6,1359.5 360.5,1360.3 361.5,1361.2 362.4,1362.0 363.4,1362.9 364.4,1363.7 365.3,1364.6 366.3,1365.5 367.2,1366.3 368.2,1367.2 369.2,1368.0 370.1,1368.9 371.1,1369.8 372.0,1370.6 373.0,1371.5 374.0,1372.3 374.9,1373.1 375.9,1374.0 376.8,1374.8 377.8,1375.6 378.8,1376.4 379.7,1377.2 380.7,1378.0 381.6,1378.8 382.6,1379.6 383.6,1380.3 384.5,1381.1 385.5,1381.8 386.4,1382.5 387.4,1383.2 388.4,1383.9 389.3,1384.6 390.3,1385.3 391.2,1385.9 392.2,1386.6 393.2,1387.2 394.1,1387.8 395.1,1388.4 396.0,1389.0 397.0,1389.6 398.0,1390.2 398.9,1390.7 399.9,1391.2 400.8,1391.8 401.8,1392.3 402.8,1392.8 403.7,1393.3 404.7,1393.7 405.6,1394.2 406.6,1394.6 407.6,1395.1 408.5,1395.5 409.5,1395.9 410.4,1396.3 411.4,1396.7 412.4,1397.1 413.3,1397.5 414.3,1397.8 415.2,1398.2 416.2,1398.5 417.2,1398.9 418.1,1399.2 419.1,1399.5 420.0,1399.9 421.0,1400.2 422.0,1400.5 422.9,1400.8 423.9,1401.1 424.8,1401.4 425.8,1401.7 426.8,1402.0 427.7,1402.2 428.7,1402.5 429.6,1402.8 430.6,1403.0 431.6,1403.3 432.5,1403.6 433.5,1403.8 434.4,1404.1 435.4,1404.3 436.4,1404.6 437.3,1404.8 438.3,1405.0 439.2,1405.3 440.2,1405.5 441.2,1405.7 442.1,1405.9 443.1,1406.1 444.0,1406.4 445.0,1406.6 446.0,1406.8 446.9,1407.0 447.9,1407.2 448.8,1407.3 449.8,1407.5 450.8,1407.7 451.7,1407.9 452.7,1408.0 453.6,1408.2 454.6,1408.3 455.6,1408.4 456.5,1408.5 457.5,1408.7 458.4,1408.7 459.4,1408.8 460.4,1408.9 461.3,1409.0 462.3,1409.0 463.2,1409.1 464.2,1409.1 465.2,1409.1 466.1,1409.1 467.1,1409.0 468.0,1409.0 469.0,1408.9 470.0,1408.9 470.9,1408.8 471.9,1408.6 472.8,1408.5 473.8,1408.3 474.8,1408.2 475.7,1408.0 476.7,1407.7 477.6,1407.5 478.6,1407.2 479.6,1406.9 480.5,1406.6 481.5,1406.3 482.4,1405.9 483.4,1405.5 484.4,1405.1 485.3,1404.7 486.3,1404.2 487.2,1403.7 488.2,1403.2 489.2,1402.6 490.1,1402.1 491.1,1401.5 492.0,1400.8 493.0,1400.2 494.0,1399.5 494.9,1398.8 495.9,1398.1 496.8,1397.4 497.8,1396.6 498.8,1395.8 499.7,1395.0 500.7,1394.1 501.6,1393.3 502.6,1392.4 503.6,1391.5 504.5,1390.5 505.5,1389.6 506.4,1388.6 507.4,1387.6 508.4,1386.6 509.3,1385.6 510.3,1384.5 511.2,1383.5 512.2,1382.4 513.2,1381.3 514.1,1380.2 515.1,1379.1 516.0,1378.0 517.0,1376.8 518.0,1375.7 518.9,1374.6 519.9,1373.4 520.8,1372.3 521.8,1371.1 522.8,1369.9 523.7,1368.8 524.7,1367.6 525.6,1366.5 526.6,1365.3 527.6,1364.2 528.5,1363.0 529.5,1361.9 530.4,1360.8 531.4,1359.6 532.4,1358.5 533.3,1357.4 534.3,1356.4 535.2,1355.3 536.2,1354.3 537.2,1353.2 538.1,1352.2 539.1,1351.2 540.0,1350.3 541.0,1349.3 542.0,1348.4 542.9,1347.5 543.9,1346.6 544.8,1345.8 545.8,1345.0 546.8,1344.2 547.7,1343.4 548.7,1342.7 549.6,1342.0 550.6,1341.3 551.6,1340.7 552.5,1340.1 553.5,1339.5 554.4,1339.0 555.4,1338.5 556.4,1338.0 557.3,1337.6 558.3,1337.2 559.2,1336.8 560.2,1336.5 561.2,1336.2 562.1,1336.0 563.1,1335.8 564.0,1335.6 565.0,1335.5 566.0,1335.4 566.9,1335.4 567.9,1335.3 568.8,1335.4 569.8,1335.4 570.8,1335.5 571.7,1335.6 572.7,1335.8 573.6,1336.0 574.6,1336.2 575.6,1336.5 576.5,1336.8 577.5,1337.1 578.4,1337.5 579.4,1337.9 580.4,1338.3 581.3,1338.7 582.3,1339.2 583.2,1339.7 584.2,1340.3 585.2,1340.8 586.1,1341.4 587.1,1342.0 588.0,1342.7 589.0,1343.3 590.0,1344.0 590.9,1344.7 591.9,1345.4 592.8,1346.1 593.8,1346.9 594.8,1347.6 595.7,1348.4 596.7,1349.2 597.6,1350.0 598.6,1350.8 599.6,1351.6 600.5,1352.5 601.5,1353.3 602.4,1354.2 603.4,1355.0 604.4,1355.9 605.3,1356.7 606.3,1357.6 607.2,1358.4 608.2,1359.3 609.2,1360.2 610.1,1361.0 611.1,1361.9 612.0,1362.7 613.0,1363.6 614.0,1364.4 614.9,1365.3 615.9,1366.1 616.8,1366.9 617.8,1367.7 618.8,1368.6 619.7,1369.4 620.7,1370.1 621.6,1370.9 622.6,1371.7 623.6,1372.5 624.5,1373.2 625.5,1373.9 626.4,1374.7 627.4,1375.4 628.4,1376.1 629.3,1376.7 630.3,1377.4 631.2,1378.1 632.2,1378.7 633.2,1379.3 634.1,1380.0 635.1,1380.6 636.0,1381.1 637.0,1381.7 638.0,1382.3 638.9,1382.8 639.9,1383.4 640.8,1383.9 641.8,1384.4 642.8,1384.9 643.7,1385.4 644.7,1385.9 645.6,1386.3 646.6,1386.8 647.6,1387.2 648.5,1387.6 649.5,1388.0 650.4,1388.4 651.4,1388.8 652.4,1389.2 653.3,1389.6 654.3,1390.0 655.2,1390.3 656.2,1390.7 657.2,1391.0 658.1,1391.4 659.1,1391.7 660.0,1392.0 661.0,1392.3 662.0,1392.6 662.9,1392.9 663.9,1393.2 664.8,1393.5 665.8,1393.8 666.8,1394.1 667.7,1394.4 668.7,1394.6 669.6,1394.9 670.6,1395.2 671.6,1395.4 672.5,1395.7 673.5,1395.9 674.4,1396.2 675.4,1396.4 676.4,1396.7 677.3,1396.9 678.3,1397.2 679.2,1397.4 680.2,1397.6 681.2,1397.8 682.1,1398.1 683.1,1398.3 684.0,1398.5 685.0,1398.7 686.0,1398.9 686.9,1399.1 687.9,1399.3 688.8,1399.5 689.8,1399.6 690.8,1399.8 691.7,1400.0 692.7,1400.1 693.6,1400.3 694.6,1400.4 695.6,1400.6 696.5,1400.7 697.5,1400.8 698.4,1400.9 699.4,1401.0 700.4,1401.0 701.3,1401.1 702.3,1401.1 703.2,1401.2 704.2,1401.2 705.2,1401.2 706.1,1401.2 707.1,1401.2 708.0,1401.1 709.0,1401.1 710.0,1401.0 710.9,1400.9 711.9,1400.8 712.8,1400.6 713.8,1400.5 714.8,1400.3 715.7,1400.1 716.7,1399.9 717.6,1399.6 718.6,1399.3 719.6,1399.1 720.5,1398.7 721.5,1398.4 722.4,1398.0 723.4,1397.6 724.4,1397.2 725.3,1396.8 726.3,1396.3 727.2,1395.8 728.2,1395.3 729.2,1394.8 730.1,1394.2 731.1,1393.6 732.0,1393.0 733.0,1392.3 734.0,1391.7 734.9,1391.0 735.9,1390.2 736.8,1389.5 737.8,1388.7 738.8,1387.9 739.7,1387.1 740.7,1386.3 741.6,1385.4 742.6,1384.5 743.6,1383.6 744.5,1382.7 745.5,1381.7 746.4,1380.7 747.4,1379.7 748.4,1378.7 749.3,1377.7 750.3,1376.7 751.2,1375.6 752.2,1374.5 753.2,1373.4 754.1,1372.3 755.1,1371.2 756.0,1370.1 757.0,1369.0 758.0,1367.8 758.9,1366.7 759.9,1365.5 760.8,1364.4 761.8,1363.2 762.8,1362.1 763.7,1360.9 764.7,1359.8 765.6,1358.6 766.6,1357.4 767.6,1356.3 768.5,1355.2 769.5,1354.0 770.4,1352.9 771.4,1351.8 772.4,1350.7 773.3,1349.6 774.3,1348.5 775.2,1347.4 776.2,1346.4 777.2,1345.4 778.1,1344.4 779.1,1343.4 780.0,1342.4 781.0,1341.4 782.0,1340.5 782.9,1339.6 783.9,1338.7 784.8,1337.9 785.8,1337.1 786.8,1336.3 787.7,1335.5 788.7,1334.8 789.6,1334.1 790.6,1333.4 791.6,1332.8 792.5,1332.2 793.5,1331.6 794.4,1331.1 795.4,1330.6 796.4,1330.1 797.3,1329.7 798.3,1329.3 799.2,1329.0 800.2,1328.7 801.2,1328.4 802.1,1328.1 803.1,1327.9 804.0,1327.8 805.0,1327.6 806.0,1327.5 806.9,1327.5 807.9,1327.5 808.8,1327.5 809.8,1327.5 810.8,1327.6 811.7,1327.8 812.7,1327.9 813.6,1328.1 814.6,1328.3 815.6,1328.6 816.5,1328.9 817.5,1329.2 818.4,1329.6 819.4,1330.0 820.4,1330.4 821.3,1330.9 822.3,1331.4 823.2,1331.9 824.2,1332.4 825.2,1333.0 826.1,1333.5 827.1,1334.2 828.0,1334.8 829.0,1335.4 830.0,1336.1 830.9,1336.8 831.9,1337.5 832.8,1338.3 833.8,1339.0 834.8,1339.8 835.7,1340.5 836.7,1341.3 837.6,1342.1 838.6,1343.0 839.6,1343.8 840.5,1344.6 841.5,1345.4 842.4,1346.3 843.4,1347.1 844.4,1348.0 845.3,1348.9 846.3,1349.7 847.2,1350.6 848.2,1351.4 849.2,1352.3 850.1,1353.2 851.1,1354.0 852.0,1354.9 853.0,1355.7 854.0,1356.6 854.9,1357.4 855.9,1358.2 856.8,1359.1 857.8,1359.9 858.8,1360.7 859.7,1361.5 860.7,1362.3 861.6,1363.1 862.6,1363.8 863.6,1364.6 864.5,1365.3 865.5,1366.1 866.4,1366.8 867.4,1367.5 868.4,1368.2 869.3,1368.9 870.3,1369.5 871.2,1370.2 872.2,1370.8 873.2,1371.5 874.1,1372.1 875.1,1372.7 876.0,1373.3 877.0,1373.9 878.0,1374.4 878.9,1375.0 879.9,1375.5 880.8,1376.0 881.8,1376.5 882.8,1377.0 883.7,1377.5 884.7,1378.0 885.6,1378.4 886.6,1378.9 887.6,1379.3 888.5,1379.8 889.5,1380.2 890.4,1380.6 891.4,1381.0 892.4,1381.4 893.3,1381.7 894.3,1382.1 895.2,1382.5 896.2,1382.8 897.2,1383.1 898.1,1383.5 899.1,1383.8 900.0,1384.1 901.0,1384.4 902.0,1384.8 902.9,1385.1 903.9,1385.4 904.8,1385.6 905.8,1385.9 906.8,1386.2 907.7,1386.5 908.7,1386.8 909.6,1387.0 910.6,1387.3 911.6,1387.6 912.5,1387.8 913.5,1388.1 914.4,1388.3 915.4,1388.6 916.4,1388.8 917.3,1389.1 918.3,1389.3 919.2,1389.5 920.2,1389.7 921.2,1390.0 922.1,1390.2 923.1,1390.4 924.0,1390.6 925.0,1390.8 926.0,1391.0 926.9,1391.2 927.9,1391.4 928.8,1391.6 929.8,1391.8 930.8,1391.9 931.7,1392.1 932.7,1392.3 933.6,1392.4 934.6,1392.6 935.6,1392.7 936.5,1392.8 937.5,1392.9 938.4,1393.0 939.4,1393.1 940.4,1393.2 941.3,1393.2 942.3,1393.3 943.2,1393.3 944.2,1393.3 945.2,1393.3 946.1,1393.3 947.1,1393.3 948.0,1393.3 949.0,1393.2 950.0,1393.1 950.9,1393.0 951.9,1392.9 952.8,1392.8 953.8,1392.6 954.8,1392.4 955.7,1392.2 956.7,1392.0 957.6,1391.7 958.6,1391.5 959.6,1391.2 960.5,1390.9 961.5,1390.5 962.4,1390.2 963.4,1389.8 964.4,1389.4 965.3,1388.9 966.3,1388.4 967.2,1388.0 968.2,1387.4 969.2,1386.9 970.1,1386.3 971.1,1385.7 972.0,1385.1 973.0,1384.5 974.0,1383.8 974.9,1383.1 975.9,1382.4 976.8,1381.6 977.8,1380.8 978.8,1380.0 979.7,1379.2 980.7,1378.4 981.6,1377.5 982.6,1376.6 983.6,1375.7 984.5,1374.8 985.5,1373.8 986.4,1372.9 987.4,1371.9 988.4,1370.9 989.3,1369.8 990.3,1368.8 991.2,1367.7 992.2,1366.7 993.2,1365.6 994.1,1364.5 995.1,1363.4 996.0,1362.2 997.0,1361.1 998.0,1360.0 998.9,1358.8 999.9,1357.7 1000.8,1356.5 1001.8,1355.4 1002.8,1354.2 1003.7,1353.0 1004.7,1351.9 1005.6,1350.7 1006.6,1349.6 1007.6,1348.4 1008.5,1347.3 1009.5,1346.2 1010.4,1345.0 1011.4,1343.9 1012.4,1342.8 1013.3,1341.7 1014.3,1340.6 1015.2,1339.6 1016.2,1338.5 1017.2,1337.5 1018.1,1336.5 1019.1,1335.5 1020.0,1334.5 1021.0,1333.6 1022.0,1332.7 1022.9,1331.8 1023.9,1330.9 1024.8,1330.0 1025.8,1329.2 1026.8,1328.4 1027.7,1327.7 1028.7,1326.9 1029.6,1326.2 1030.6,1325.6 1031.6,1324.9 1032.5,1324.3 1033.5,1323.8 1034.4,1323.2 1035.4,1322.7 1036.4,1322.3 1037.3,1321.8 1038.3,1321.5 1039.2,1321.1 1040.2,1320.8 1041.2,1320.5 1042.1,1320.3 1043.1,1320.1 1044.0,1319.9 1045.0,1319.8 1046.0,1319.7 1046.9,1319.6 1047.9,1319.6 1048.8,1319.6 1049.8,1319.7 1050.8,1319.8 1051.7,1319.9 1052.7,1320.0 1053.6,1320.2 1054.6,1320.5 1055.6,1320.7 1056.5,1321.0 1057.5,1321.4 1058.4,1321.7 1059.4,1322.1 1060.4,1322.5 1061.3,1323.0 1062.3,1323.5 1063.2,1324.0 1064.2,1324.5 1065.2,1325.1 1066.1,1325.7 1067.1,1326.3 1068.0,1326.9 1069.0,1327.6 1070.0,1328.2 1070.9,1328.9 1071.9,1329.7 1072.8,1330.4 1073.8,1331.1 1074.8,1331.9 1075.7,1332.7 1076.7,1333.5 1077.6,1334.3 1078.6,1335.1 1079.6,1335.9 1080.5,1336.7 1081.5,1337.6 1082.4,1338.4 1083.4,1339.3 1084.4,1340.1 1085.3,1341.0 1086.3,1341.8 1087.2,1342.7 1088.2,1343.6 1089.2,1344.4 1090.1,1345.3 1091.1,1346.1 1092.0,1347.0 1093.0,1347.8 1094.0,1348.7 1094.9,1349.5 1095.9,1350.4 1096.8,1351.2 1097.8,1352.0 1098.8,1352.8 1099.7,1353.6 1100.7,1354.4 1101.6,1355.2 1102.6,1356.0 1103.6,1356.7 1104.5,1357.5 1105.5,1358.2 1106.4,1358.9 1107.4,1359.6 1108.4,1360.3 1109.3,1361.0 1110.3,1361.7 1111.2,1362.3 1112.2,1363.0 1113.2,1363.6 1114.1,1364.2 1115.1,1364.8 1116.0,1365.4 1117.0,1366.0 1118.0,1366.5 1118.9,1367.1 1119.9,1367.6 1120.8,1368.2 1121.8,1368.7 1122.8,1369.2 1123.7,1369.6 1124.7,1370.1 1125.6,1370.6 1126.6,1371.0 1127.6,1371.5 1128.5,1371.9 1129.5,1372.3 1130.4,1372.7 1131.4,1373.1 1132.4,1373.5 1133.3,1373.9 1134.3,1374.2 1135.2,1374.6 1136.2,1374.9 1137.2,1375.3 1138.1,1375.6 1139.1,1375.9 1140.0,1376.3 1141.0,1376.6 1142.0,1376.9 1142.9,1377.2 1143.9,1377.5 1144.8,1377.8 1145.8,1378.1 1146.8,1378.3 1147.7,1378.6 1148.7,1378.9 1149.6,1379.2 1150.6,1379.4 1151.6,1379.7 1152.5,1379.9 1153.5,1380.2 1154.4,1380.5 1155.4,1380.7 1156.4,1380.9 1157.3,1381.2 1158.3,1381.4 1159.2,1381.7 1160.2,1381.9 1161.2,1382.1 1162.1,1382.3 1163.1,1382.5 1164.0,1382.8 1165.0,1383.0 1166.0,1383.2 1166.9,1383.4 1167.9,1383.5 1168.8,1383.7 1169.8,1383.9 1170.8,1384.1 1171.7,1384.2 1172.7,1384.4 1173.6,1384.5 1174.6,1384.7 1175.6,1384.8 1176.5,1384.9 1177.5,1385.0 1178.4,1385.1 1179.4,1385.2 1180.4,1385.3 1181.3,1385.4 1182.3,1385.4 1183.2,1385.4 1184.2,1385.5 1185.2,1385.5 1186.1,1385.5 1187.1,1385.4 1188.0,1385.4 1189.0,1385.3 1190.0,1385.2 1190.9,1385.1 1191.9,1385.0 1192.8,1384.9 1193.8,1384.7 1194.8,1384.5 1195.7,1384.3 1196.7,1384.1 1197.6,1383.9 1198.6,1383.6 1199.6,1383.3 1200.5,1383.0 1201.5,1382.7 1202.4,1382.3 1203.4,1381.9 1204.4,1381.5 1205.3,1381.0 1206.3,1380.6 1207.2,1380.1 1208.2,1379.6 1209.2,1379.0 1210.1,1378.5 1211.1,1377.9 1212.0,1377.2 1213.0,1376.6 1214.0,1375.9 1214.9,1375.2 1215.9,1374.5 1216.8,1373.7 1217.8,1373.0 1218.8,1372.2 1219.7,1371.4 1220.7,1370.5 1221.6,1369.6 1222.6,1368.8 1223.6,1367.8 1224.5,1366.9 1225.5,1366.0 1226.4,1365.0 1227.4,1364.0 1228.4,1363.0 1229.3,1362.0 1230.3,1360.9 1231.2,1359.9 1232.2,1358.8 1233.2,1357.7 1234.1,1356.6 1235.1,1355.5 1236.0,1354.4 1237.0,1353.2 1238.0,1352.1 1238.9,1351.0 1239.9,1349.8 1240.8,1348.7 1241.8,1347.5 1242.8,1346.3 1243.7,1345.2 1244.7,1344.0 1245.6,1342.9 1246.6,1341.7 1247.6,1340.6 1248.5,1339.4 1249.5,1338.3 1250.4,1337.2 1251.4,1336.0 1252.4,1334.9 1253.3,1333.8 1254.3,1332.8 1255.2,1331.7 1256.2,1330.7 1257.2,1329.6 1258.1,1328.6 1259.1,1327.6 1260.0,1326.7 1261.0,1325.7 1262.0,1324.8 1262.9,1323.9 1263.9,1323.0 1264.8,1322.2 1265.8,1321.3 1266.8,1320.6 1267.7,1319.8 1268.7,1319.1 1269.6,1318.4 1270.6,1317.7 1271.6,1317.1 1272.5,1316.5 1273.5,1315.9 1274.4,1315.4 1275.4,1314.9 1276.4,1314.4 1277.3,1314.0 1278.3,1313.6 1279.2,1313.2 1280.2,1312.9 1281.2,1312.6 1282.1,1312.4 1283.1,1312.2 1284.0,1312.0 1285.0,1311.9 1286.0,1311.8 1286.9,1311.7 1287.9,1311.7 1288.8,1311.7 1289.8,1311.8 1290.8,1311.9 1291.7,1312.0 1292.7,1312.2 1293.6,1312.4 1294.6,1312.6 1295.6,1312.9 1296.5,1313.2 1297.5,1313.5 1298.4,1313.9 1299.4,1314.3 1300.4,1314.7 1301.3,1315.1 1302.3,1315.6 1303.2,1316.1 1304.2,1316.7 1305.2,1317.2 1306.1,1317.8 1307.1,1318.4 1308.0,1319.0 1309.0,1319.7 1310.0,1320.4 1310.9,1321.1 1311.9,1321.8 1312.8,1322.5 1313.8,1323.3 1314.8,1324.0 1315.7,1324.8 1316.7,1325.6 1317.6,1326.4 1318.6,1327.2 1319.6,1328.0 1320.5,1328.9 1321.5,1329.7 1322.4,1330.6 1323.4,1331.4 1324.4,1332.3 1325.3,1333.1 1326.3,1334.0 1327.2,1334.8 1328.2,1335.7 1329.2,1336.6 1330.1,1337.4 1331.1,1338.3 1332.0,1339.1 1333.0,1340.0 1334.0,1340.8 1334.9,1341.7 1335.9,1342.5 1336.8,1343.3 1337.8,1344.1 1338.8,1344.9 1339.7,1345.7 1340.7,1346.5 1341.6,1347.3 1342.6,1348.1 1343.6,1348.8 1344.5,1349.6 1345.5,1350.3 1346.4,1351.0 1347.4,1351.8 1348.4,1352.5 1349.3,1353.1 1350.3,1353.8 1351.2,1354.5 1352.2,1355.1 1353.2,1355.7 1354.1,1356.3 1355.1,1357.0 1356.0,1357.5 1357.0,1358.1 1358.0,1358.7 1358.9,1359.2 1359.9,1359.8 1360.8,1360.3 1361.8,1360.8 1362.8,1361.3 1363.7,1361.8 1364.7,1362.2 1365.6,1362.7 1366.6,1363.2 1367.6,1363.6 1368.5,1364.0 1369.5,1364.4 1370.4,1364.8 1371.4,1365.2 1372.4,1365.6 1373.3,1366.0 1374.3,1366.4 1375.2,1366.7 1376.2,1367.1 1377.2,1367.4 1378.1,1367.7 1379.1,1368.1 1380.0,1368.4 1381.0,1368.7 1382.0,1369.0 1382.9,1369.3 1383.9,1369.6 1384.8,1369.9 1385.8,1370.2 1386.8,1370.5 1387.7,1370.8 1388.7,1371.0 1389.6,1371.3 1390.6,1371.6 1391.6,1371.8 1392.5,1372.1 1393.5,1372.3 1394.4,1372.6 1395.4,1372.8 1396.4,1373.1 1397.3,1373.3 1398.3,1373.5 1399.2,1373.8 1400.2,1374.0 1401.2,1374.2 1402.1,1374.5 1403.1,1374.7 1404.0,1374.9 1405.0,1375.1 1406.0,1375.3 1406.9,1375.5 1407.9,1375.7 1408.8,1375.9 1409.8,1376.0 1410.8,1376.2 1411.7,1376.4 1412.7,1376.5 1413.6,1376.7 1414.6,1376.8 1415.6,1376.9 1416.5,1377.1 1417.5,1377.2 1418.4,1377.3 1419.4,1377.4 1420.4,1377.4 1421.3,1377.5 1422.3,1377.5 1423.2,1377.6 1424.2,1377.6 1425.2,1377.6 1426.1,1377.6 1427.1,1377.6 1428.0,1377.5 1429.0,1377.5 1430.0,1377.4 1430.9,1377.3 1431.9,1377.2 1432.8,1377.0 1433.8,1376.9 1434.8,1376.7 1435.7,1376.5 1436.7,1376.3 1437.6,1376.0 1438.6,1375.7 1439.6,1375.4 1440.5,1375.1 1441.5,1374.8 1442.4,1374.4 1443.4,1374.0 1444.4,1373.6 1445.3,1373.2 1446.3,1372.7 1447.2,1372.2 1448.2,1371.7 1449.2,1371.2 1450.1,1370.6 1451.1,1370.0 1452.0,1369.4 1453.0,1368.7 1454.0,1368.0 1454.9,1367.4 1455.9,1366.6 1456.8,1365.9 1457.8,1365.1 1458.8,1364.3 1459.7,1363.5 1460.7,1362.6 1461.6,1361.8 1462.6,1360.9 1463.6,1360.0 1464.5,1359.0 1465.5,1358.1 1466.4,1357.1 1467.4,1356.1 1468.4,1355.1 1469.3,1354.1 1470.3,1353.0 1471.2,1352.0 1472.2,1350.9 1473.2,1349.8 1474.1,1348.7 1475.1,1347.6 1476.0,1346.5 1477.0,1345.4 1478.0,1344.2 1478.9,1343.1 1479.9,1341.9 1480.8,1340.8 1481.8,1339.6 1482.8,1338.5 1483.7,1337.3 1484.7,1336.1 1485.6,1335.0 1486.6,1333.8 1487.6,1332.7 1488.5,1331.5 1489.5,1330.4 1490.4,1329.3 1491.4,1328.2 1492.4,1327.1 1493.3,1326.0 1494.3,1324.9 1495.2,1323.8 1496.2,1322.8 1497.2,1321.8 1498.1,1320.7 1499.1,1319.8 1500.0,1318.8 1501.0,1317.8 1502.0,1316.9 1502.9,1316.0 1503.9,1315.1 1504.8,1314.3 1505.8,1313.5 1506.8,1312.7 1507.7,1311.9 1508.7,1311.2 1509.6,1310.5 1510.6,1309.8 1511.6,1309.2 1512.5,1308.6 1513.5,1308.0 1514.4,1307.5 1515.4,1307.0 1516.4,1306.5 1517.3,1306.1 1518.3,1305.7 1519.2,1305.4 1520.2,1305.0 1521.2,1304.8 1522.1,1304.5 1523.1,1304.3 1524.0,1304.2 1525.0,1304.0 1526.0,1303.9 1526.9,1303.9 1527.9,1303.9 1528.8,1303.9 1529.8,1303.9 1530.8,1304.0 1531.7,1304.1 1532.7,1304.3 1533.6,1304.5 1534.6,1304.7 1535.6,1305.0 1536.5,1305.3 1537.5,1305.6 1538.4,1306.0 1539.4,1306.4 1540.4,1306.8 1541.3,1307.3 1542.3,1307.7 1543.2,1308.3 1544.2,1308.8 1545.2,1309.4 1546.1,1309.9 1547.1,1310.5 1548.0,1311.2 1549.0,1311.8 1550.0,1312.5 1550.9,1313.2 1551.9,1313.9 1552.8,1314.7 1553.8,1315.4 1554.8,1316.2 1555.7,1316.9 1556.7,1317.7 1557.6,1318.5 1558.6,1319.3 1559.6,1320.2 1560.5,1321.0 1561.5,1321.8 1562.4,1322.7 1563.4,1323.5 1564.4,1324.4 1565.3,1325.2 1566.3,1326.1 1567.2,1327.0 1568.2,1327.8 1569.2,1328.7 1570.1,1329.5 1571.1,1330.4 1572.0,1331.3 1573.0,1332.1 1574.0,1333.0 1574.9,1333.8 1575.9,1334.6 1576.8,1335.5 1577.8,1336.3 1578.8,1337.1 1579.7,1337.9 1580.7,1338.7 1581.6,1339.4 1582.6,1340.2 1583.6,1341.0 1584.5,1341.7 1585.5,1342.5 1586.4,1343.2 1587.4,1343.9 1588.4,1344.6 1589.3,1345.3 1590.3,1345.9 1591.2,1346.6 1592.2,1347.2 1593.2,1347.9 1594.1,1348.5 1595.1,1349.1 1596.0,1349.7 1597.0,1350.2 1598.0,1350.8 1598.9,1351.4 1599.9,1351.9 1600.8,1352.4 1601.8,1352.9 1602.8,1353.4 1603.7,1353.9 1604.7,1354.4 1605.6,1354.8 1606.6,1355.3 1607.6,1355.7 1608.5,1356.1 1609.5,1356.6 1610.4,1357.0 1611.4,1357.4 1612.4,1357.7 1613.3,1358.1 1614.3,1358.5 1615.2,1358.8 1616.2,1359.2 1617.2,1359.5 1618.1,1359.9 1619.1,1360.2 1620.0,1360.5 1621.0,1360.8 1622.0,1361.1 1622.9,1361.4 1623.9,1361.7 1624.8,1362.0 1625.8,1362.3 1626.8,1362.6 1627.7,1362.9 1628.7,1363.2 1629.6,1363.4 1630.6,1363.7 1631.6,1364.0 1632.5,1364.2 1633.5,1364.5 1634.4,1364.7 1635.4,1365.0 1636.4,1365.2 1637.3,1365.4 1638.3,1365.7 1639.2,1365.9 1640.2,1366.1 1641.2,1366.4 1642.1,1366.6 1643.1,1366.8 1644.0,1367.0 1645.0,1367.2 1646.0,1367.4 1646.9,1367.6 1647.9,1367.8 1648.8,1368.0 1649.8,1368.2 1650.8,1368.3 1651.7,1368.5 1652.7,1368.7 1653.6,1368.8 1654.6,1368.9 1655.6,1369.1 1656.5,1369.2 1657.5,1369.3 1658.4,1369.4 1659.4,1369.5 1660.4,1369.6 1661.3,1369.6 1662.3,1369.7 1663.2,1369.7 1664.2,1369.7 1665.2,1369.7 1666.1,1369.7 1667.1,1369.7 1668.0,1369.6 1669.0,1369.6 1670.0,1369.5 1670.9,1369.4 1671.9,1369.3 1672.8,1369.1 1673.8,1369.0 1674.8,1368.8 1675.7,1368.6 1676.7,1368.4 1677.6,1368.1 1678.6,1367.9 1679.6,1367.6 1680.5,1367.3 1681.5,1366.9 1682.4,1366.5 1683.4,1366.2 1684.4,1365.7 1685.3,1365.3 1686.3,1364.8 1687.2,1364.3 1688.2,1363.8 1689.2,1363.3 1690.1,1362.7 1691.1,1362.1 1692.0,1361.5 1693.0,1360.9 1694.0,1360.2 1694.9,1359.5 1695.9,1358.8 1696.8,1358.0 1697.8,1357.2 1698.8,1356.4 1699.7,1355.6 1700.7,1354.8 1701.6,1353.9 1702.6,1353.0 1703.6,1352.1 1704.5,1351.2 1705.5,1350.2 1706.4,1349.2 1707.4,1348.3 1708.4,1347.2 1709.3,1346.2 1710.3,1345.2 1711.2,1344.1 1712.2,1343.0 1713.2,1342.0 1714.1,1340.9 1715.1,1339.7 1716.0,1338.6 1717.0,1337.5 1718.0,1336.4 1718.9,1335.2 1719.9,1334.1 1720.8,1332.9 1721.8,1331.8 1722.8,1330.6 1723.7,1329.4 1724.7,1328.3 1725.6,1327.1 1726.6,1326.0 1727.6,1324.8 1728.5,1323.7 1729.5,1322.5 1730.4,1321.4 1731.4,1320.3 1732.4,1319.2 1733.3,1318.1 1734.3,1317.0 1735.2,1316.0 1736.2,1314.9 1737.2,1313.9 1738.1,1312.9 1739.1,1311.9 1740.0,1310.9 1741.0,1310.0 1742.0,1309.0 1742.9,1308.1 1743.9,1307.3 1744.8,1306.4 1745.8,1305.6 1746.8,1304.8 1747.7,1304.1 1748.7,1303.3 1749.6,1302.6 1750.6,1302.0 1751.6,1301.3 1752.5,1300.7 1753.5,1300.2 1754.4,1299.6 1755.4,1299.1 1756.4,1298.7 1757.3,1298.2 1758.3,1297.8 1759.2,1297.5 1760.2,1297.2 1761.2,1296.9 1762.1,1296.7 1763.1,1296.5 1764.0,1296.3 1765.0,1296.2 1766.0,1296.1 1766.9,1296.0 1767.9,1296.0 1768.8,1296.0 1769.8,1296.1 1770.8,1296.2 1771.7,1296.3 1772.7,1296.4 1773.6,1296.6 1774.6,1296.9 1775.6,1297.1 1776.5,1297.4 1777.5,1297.8 1778.4,1298.1 1779.4,1298.5 1780.4,1298.9 1781.3,1299.4 1782.3,1299.9 1783.2,1300.4 1784.2,1300.9 1785.2,1301.5 1786.1,1302.1 1787.1,1302.7 1788.0,1303.3 1789.0,1304.0 1790.0,1304.6 1790.9,1305.3 1791.9,1306.0 1792.8,1306.8 1793.8,1307.5 1794.8,1308.3 1795.7,1309.1 1796.7,1309.9 1797.6,1310.7 1798.6,1311.5 1799.6,1312.3 1800.5,1313.1 1801.5,1314.0 1802.4,1314.8 1803.4,1315.7 1804.4,1316.5 1805.3,1317.4 1806.3,1318.2 1807.2,1319.1 1808.0,1319.7 1808.0,1390.0 1808.0,1389.9 1808.0,1389.9 1808.0,1389.9 1808.0,1389.9 1808.0,1389.8 1808.0,1389.8 1808.1,1389.7 1808.1,1389.6 1808.2,1389.5 1808.2,1389.4 1808.2,1389.3 1808.3,1389.1 1808.4,1388.9 1808.5,1388.6 1808.7,1388.2 1808.9,1387.7 1809.2,1387.1 1809.2,1387.1 1809.6,1386.4 1810.0,1385.5 1810.1,1385.3 1810.6,1384.4 1811.1,1383.8 1811.5,1383.2 1812.0,1382.5 1812.5,1381.9 1813.0,1381.4 1813.9,1380.5 1814.0,1380.4 1814.9,1379.6 1815.6,1379.1 1815.9,1378.9 1816.8,1378.3 1817.8,1377.8 1817.9,1377.7 1818.8,1377.3 1819.7,1376.9 1820.7,1376.6 1820.9,1376.5 1821.6,1376.3 1822.6,1376.0 1823.6,1375.8 1824.5,1375.6 1824.8,1375.6 1825.5,1375.5 1826.4,1375.3 1827.4,1375.2 1828.4,1375.1 1829.3,1375.0 1829.8,1375.0 1830.3,1375.0 1831.2,1374.9 1832.2,1374.9 1833.2,1374.8 1834.1,1374.8 1835.1,1374.8 1836.0,1374.8 1836.4,1374.7 1837.0,1374.7 1838.0,1374.7 1838.9,1374.7 1839.9,1374.7 1840.8,1374.7 1841.8,1374.7 1842.8,1374.6 1843.7,1374.6 1844.7,1374.6 1844.9,1374.6 1845.6,1374.6 1846.6,1374.6 1847.6,1374.6 1848.5,1374.5 1849.5,1374.5 1850.4,1374.5 1851.4,1374.5 1852.4,1374.5 1853.3,1374.4 1853.3,1374.4 1853.3,1377.8 1853.3,1377.9 1853.4,1377.9 1853.4,1377.9 1853.4,1377.9 1853.4,1378.0 1853.4,1378.0 1853.4,1378.1 1853.5,1378.1 1853.5,1378.3 1853.6,1378.4 1853.6,1378.6 1853.7,1378.8 1853.9,1379.1 1854.0,1379.5 1854.3,1379.9 1854.3,1380.0 1854.5,1380.6 1854.9,1381.4 1855.2,1382.1 1855.4,1382.4 1856.0,1383.5 1856.0,1383.6 1856.2,1384.0 1856.8,1385.2 1857.2,1385.9 1857.9,1387.2 1858.1,1387.7 1859.1,1389.3 1859.2,1389.6 1860.0,1391.0 1861.0,1392.5 1861.0,1392.5 1862.0,1394.0 1862.9,1395.5 1863.3,1396.0 1863.9,1396.8 1864.8,1398.2 1865.8,1399.4 1866.3,1400.1 1866.8,1400.7 1867.7,1401.9 1868.7,1403.1 1869.6,1404.2 1870.1,1404.8 1870.6,1405.3 1871.6,1406.4 1872.5,1407.4 1873.5,1408.4 1874.4,1409.4 1875.2,1410.1 1875.4,1410.3 1876.4,1411.3 1877.3,1412.2 1878.3,1413.1 1879.2,1413.9 1880.2,1414.8 1881.2,1415.6 1881.7,1416.1 1882.1,1416.4 1883.1,1417.2 1884.0,1417.9 1885.0,1418.7 1886.0,1419.4 1886.9,1420.1 1887.9,1420.8 1888.8,1421.5 1889.8,1422.2 1890.3,1422.5 1890.8,1422.8 1891.7,1423.4 1892.7,1424.1 1893.6,1424.6 1894.6,1425.2 1895.6,1425.8 1896.5,1426.3 1897.5,1426.8 1898.4,1427.3 1899.4,1427.8 1900.4,1428.3 1901.3,1428.7 1901.3,1428.7 1902.3,1429.2 1903.2,1429.6 1904.2,1429.9 1905.2,1430.3 1906.1,1430.6 1907.1,1431.0 1908.0,1431.2 1909.0,1431.5 1910.0,1431.8 1910.9,1432.0 1911.9,1432.2 1912.8,1432.4 1913.8,1432.5 1914.8,1432.6 1915.7,1432.7 1916.7,1432.8 1917.6,1432.9 1918.6,1432.9 1919.6,1432.9 1920.5,1432.8 1921.5,1432.8 1922.4,1432.7 1923.4,1432.6 1924.4,1432.4 1925.3,1432.2 1926.3,1432.0 1927.2,1431.8 1928.2,1431.5 1929.2,1431.2 1930.1,1430.9 1931.1,1430.5 1932.0,1430.2 1933.0,1429.8 1934.0,1429.3 1934.9,1428.8 1935.9,1428.4 1936.8,1427.8 1937.8,1427.3 1938.8,1426.7 1939.7,1426.1 1940.7,1425.5 1941.6,1424.8 1942.6,1424.1 1943.6,1423.4 1944.5,1422.7 1945.5,1422.0 1946.4,1421.2 1947.4,1420.4 1948.4,1419.6 1949.3,1418.8 1950.3,1417.9 1951.2,1417.1 1952.2,1416.2 1953.2,1415.3 1954.1,1414.4 1955.1,1413.4 1956.0,1412.5 1957.0,1411.6 1958.0,1410.6 1958.9,1409.6 1959.9,1408.7 1960.8,1407.7 1961.8,1406.7 1962.8,1405.7 1963.7,1404.7 1964.7,1403.7 1965.6,1402.8 1966.6,1401.8 1967.6,1400.8 1968.5,1399.8 1969.5,1398.8 1970.4,1397.9 1971.4,1396.9 1972.4,1396.0 1973.3,1395.0 1974.3,1394.1 1975.2,1393.2 1976.2,1392.3 1977.2,1391.4 1978.1,1390.6 1979.1,1389.7 1980.0,1388.9 1981.0,1388.1 1982.0,1387.3 1982.9,1386.6 1983.9,1385.9 1984.8,1385.2 1985.8,1384.5 1986.8,1383.8 1987.7,1383.2 1988.7,1382.6 1989.6,1382.1 1990.6,1381.5 1991.6,1381.0 1992.5,1380.6 1993.5,1380.1 1994.4,1379.7 1995.4,1379.4 1996.4,1379.0 1997.3,1378.7 1998.3,1378.5 1999.2,1378.3 2000.2,1378.1 2001.2,1377.9 2002.1,1377.8 2003.1,1377.7 2004.0,1377.7 2005.0,1377.7 2006.0,1377.7 2006.9,1377.8 2007.9,1377.9 2008.8,1378.0 2009.8,1378.2 2010.8,1378.4 2011.7,1378.6 2012.7,1378.9 2013.6,1379.2 2014.6,1379.6 2015.6,1380.0 2016.5,1380.4 2017.5,1380.8 2018.4,1381.3 2019.4,1381.8 2020.4,1382.3 2021.3,1382.9 2022.3,1383.5 2023.2,1384.1 2024.2,1384.8 2025.2,1385.4 2026.1,1386.1 2027.1,1386.8 2028.0,1387.6 2029.0,1388.3 2030.0,1389.1 2030.9,1389.9 2031.9,1390.7 2032.8,1391.6 2033.8,1392.4 2034.8,1393.3 2035.7,1394.2 2036.7,1395.1 2037.6,1396.0 2038.6,1396.9 2039.6,1397.8 2040.5,1398.7 2041.5,1399.7 2042.4,1400.6 2043.4,1401.6 2044.4,1402.5 2045.3,1403.5 2046.3,1404.4 2047.2,1405.4 2048.2,1406.3 2049.2,1407.3 2050.1,1408.3 2051.1,1409.2 2052.0,1410.2 2053.0,1411.1 2054.0,1412.0 2054.9,1413.0 2055.9,1413.9 2056.8,1414.8 2057.8,1415.7 2058.8,1416.6 2059.7,1417.5 2060.7,1418.4 2061.6,1419.3 2062.6,1420.1 2063.6,1421.0 2064.5,1421.8 2065.5,1422.6 2066.4,1423.4 2067.4,1424.2 2068.4,1425.0 2069.3,1425.8 2070.3,1426.5 2071.2,1427.3 2072.2,1428.0 2073.2,1428.7 2074.1,1429.4 2075.1,1430.1 2076.0,1430.8 2077.0,1431.4 2078.0,1432.1 2078.9,1432.7 2079.9,1433.3 2080.8,1433.9 2081.8,1434.5 2082.8,1435.1 2083.7,1435.7 2084.7,1436.2 2085.6,1436.7 2086.6,1437.3 2087.6,1437.8 2088.5,1438.3 2089.5,1438.8 2090.4,1439.3 2091.4,1439.7 2092.4,1440.2 2093.3,1440.7 2094.3,1441.1 2095.2,1441.5 2096.2,1442.0 2097.2,1442.4 2098.1,1442.8 2099.1,1443.2 2100.0,1443.6 2101.0,1444.0 2102.0,1444.4 2102.9,1444.7 2103.9,1445.1 2104.8,1445.5 2105.8,1445.8 2106.8,1446.2 2107.7,1446.5 2108.7,1446.9 2109.6,1447.2 2110.6,1447.6 2111.6,1447.9 2112.5,1448.2 2113.5,1448.5 2114.4,1448.9 2115.4,1449.2 2116.4,1449.5 2117.3,1449.8 2118.3,1450.1 2119.2,1450.4 2120.2,1450.7 2121.2,1451.0 2122.1,1451.3 2123.1,1451.6 2124.0,1451.9 2125.0,1452.1 2126.0,1452.4 2126.9,1452.7 2127.9,1452.9 2128.8,1453.2 2129.8,1453.4 2130.8,1453.7 2131.7,1453.9 2132.7,1454.1 2133.6,1454.3 2134.6,1454.5 2135.6,1454.7 2136.5,1454.9 2137.5,1455.1 2138.4,1455.2 2139.4,1455.4 2140.4,1455.5 2141.3,1455.6 2142.3,1455.8 2143.2,1455.9 2144.2,1455.9 2145.2,1456.0 2146.1,1456.1 2147.1,1456.1 2148.0,1456.1 2149.0,1456.1 2150.0,1456.1 2150.9,1456.1 2151.9,1456.0 2152.8,1455.9 2153.8,1455.8 2154.8,1455.7 2155.7,1455.6 2156.7,1455.4 2157.6,1455.2 2158.6,1455.0 2159.6,1454.8 2160.5,1454.5 2161.5,1454.2 2162.4,1453.9 2163.4,1453.6 2164.4,1453.2 2165.3,1452.9 2166.3,1452.4 2167.2,1452.0 2168.2,1451.6 2169.2,1451.1 2170.1,1450.6 2171.1,1450.0 2172.0,1449.5 2173.0,1448.9 2174.0,1448.2 2174.9,1447.6 2175.9,1446.9 2176.8,1446.2 2177.8,1445.5 2178.8,1444.8 2179.7,1444.0 2180.7,1443.2 2181.6,1442.4 2182.6,1441.6 2183.6,1440.7 2184.5,1439.9 2185.5,1439.0 2186.4,1438.0 2187.4,1437.1 2188.4,1436.2 2189.3,1435.2 2190.3,1434.2 2191.2,1433.2 2192.2,1432.2 2193.2,1431.1 2194.1,1430.1 2195.1,1429.0 2196.0,1428.0 2197.0,1426.9 2198.0,1425.8 2198.9,1424.7 2199.9,1423.6 2200.8,1422.5 2201.8,1421.4 2202.8,1420.3 2203.7,1419.2 2204.7,1418.1 2205.6,1417.0 2206.6,1415.9 2207.6,1414.8 2208.5,1413.7 2209.5,1412.6 2210.4,1411.5 2211.4,1410.5 2212.4,1409.4 2213.3,1408.4 2214.3,1407.3 2215.2,1406.3 2216.2,1405.3 2217.2,1404.3 2218.1,1403.4 2219.1,1402.4 2220.0,1401.5 2221.0,1400.6 2222.0,1399.8 2222.9,1398.9 2223.9,1398.1 2224.8,1397.3 2225.8,1396.5 2226.8,1395.8 2227.7,1395.1 2228.7,1394.4 2229.6,1393.7 2230.6,1393.1 2231.6,1392.5 2232.5,1392.0 2233.5,1391.5 2234.4,1391.0 2235.4,1390.5 2236.4,1390.1 2237.3,1389.7 2238.3,1389.4"/>
<rect class="ax" x="170.2" y="1178.9" width="2160.0" height="449.7"/>
<path class="tk" d="M410.2 1628.6v-21.6M410.2 1178.9v21.6M650.2 1628.6v-21.6M650.2 1178.9v21.6M890.2 1628.6v-21.6M890.2 1178.9v21.6M1130.2 1628.6v-21.6M1130.2 1178.9v21.6M1370.2 1628.6v-21.6M1370.2 1178.9v21.6M1610.2 1628.6v-21.6M1610.2 1178.9v21.6M1850.2 1628.6v-21.6M1850.2 1178.9v21.6M2090.2 1628.6v-21.6M2090.2 1178.9v21.6M170.2 1291.3h21.6M2330.2 1291.3h-21.6M170.2 1403.8h21.6M2330.2 1403.8h-21.6M170.2 1516.2h21.6M2330.2 1516.2h-21.6"/>
<text x="170.2" y="1679.1" text-anchor="middle">2006</text><text x="410.2" y="1679.1" text-anchor="middle">2007</text><text x="650.2" y="1679.1" text-anchor="middle">2008</text><text x="890.2" y="1679.1" text-anchor="middle">2009</text><text x="1130.2" y="1679.1" text-anchor="middle">2010</text><text x="1370.2" y="1679.1" text-anchor="middle">2011</text><text x="1610.2" y="1679.1" text-anchor="middle">2012</text><text x="1850.2" y="1679.1" text-anchor="middle">2013</text><text x="2090.2" y="1679.1" text-anchor="middle">2014</text><text x="2330.2" y="1679.1" text-anchor="middle">2015</text>
<text x="158" y="1193.9" text-anchor="end">40</text><text x="158" y="1306.3" text-anchor="end">20</text><text x="158" y="1418.8" text-anchor="end">0</text><text x="158" y="1531.2" text-anchor="end">−20</text><text x="158" y="1643.6" text-anchor="end">−40</text>
<text transform="translate(59.3,1402.8) rotate(-90)" text-anchor="middle">U Disp. (mm)</text>
</g>
<text x="1250.3" y="1728.7" text-anchor="middle">Epoch (year)</text>
</svg></body></html>
